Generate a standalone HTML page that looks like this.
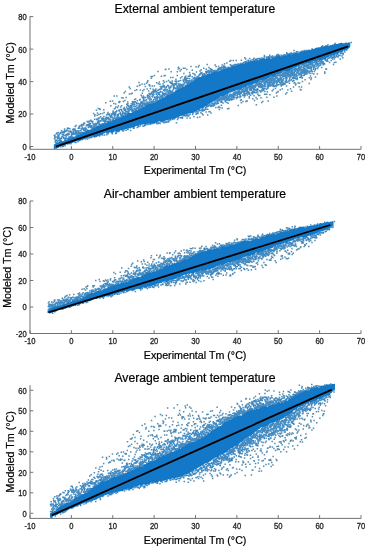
<!DOCTYPE html>
<html><head><meta charset="utf-8"><style>
html,body{margin:0;padding:0;background:#fff;width:370px;height:550px;overflow:hidden}
svg{display:block}
text{font-family:'Liberation Sans', Arial, sans-serif}
.tk{font-size:8px;fill:#262626;stroke:#262626;stroke-width:.3px}
.ti{font-size:12.2px;fill:#000;stroke:#000;stroke-width:.2px}
.lb{font-size:10.7px;fill:#000;stroke:#000;stroke-width:.2px}
</style></head><body>
<svg width="370" height="550" viewBox="0 0 370 550">
<path d="M53.8 145.3L54.3 145.4L54.8 145.0L55.3 144.4L55.8 143.8L56.3 143.6L56.8 143.0L57.3 142.4L57.8 142.3L58.3 142.2L58.8 142.2L59.3 141.7L59.8 141.6L60.3 141.4L60.8 140.8L61.3 140.9L61.8 140.8L62.3 141.4L62.8 141.1L63.3 140.8L63.8 140.9L64.3 140.6L64.8 140.6L65.3 140.1L65.8 139.9L66.3 140.0L66.8 139.8L67.3 139.5L67.8 138.9L68.3 138.8L68.8 138.6L69.3 138.5L69.8 138.3L70.3 138.4L70.8 138.1L71.3 137.8L71.8 137.7L72.3 137.1L72.8 136.8L73.3 136.4L73.8 136.9L74.3 136.6L74.8 136.5L75.3 136.4L75.8 136.0L76.3 135.3L76.8 135.4L77.3 135.1L77.8 135.1L78.3 134.5L78.8 134.2L79.3 134.4L79.8 134.6L80.3 133.9L80.8 133.3L81.3 133.2L81.8 133.2L82.3 133.1L82.8 133.0L83.3 132.5L83.8 132.5L84.3 132.6L84.8 132.2L85.3 131.5L85.8 131.1L86.3 131.3L86.8 130.6L87.3 130.5L87.8 130.1L88.3 130.0L88.8 129.8L89.3 129.7L89.8 130.0L90.3 129.9L90.8 130.1L91.3 129.7L91.8 129.3L92.3 129.2L92.8 128.1L93.3 128.0L93.8 127.9L94.3 127.4L94.8 127.5L95.3 127.2L95.8 126.3L96.3 126.3L96.8 126.0L97.3 125.8L97.8 125.8L98.3 126.1L98.8 126.0L99.3 125.8L99.8 125.8L100.3 125.0L100.8 125.3L101.3 124.8L101.8 124.8L102.3 124.3L102.8 123.9L103.3 123.7L103.8 124.2L104.3 124.2L104.8 123.7L105.3 123.4L105.8 122.9L106.3 122.8L106.8 122.4L107.3 122.5L107.8 121.9L108.3 121.7L108.8 121.4L109.3 121.1L109.8 121.2L110.3 121.1L110.8 121.1L111.3 121.3L111.8 121.4L112.3 120.6L112.8 120.5L113.3 119.7L113.8 119.6L114.3 120.0L114.8 119.6L115.3 119.3L115.8 119.1L116.3 118.8L116.8 118.6L117.3 118.2L117.8 118.3L118.3 118.3L118.8 117.9L119.3 117.7L119.8 117.7L120.3 117.7L120.8 117.4L121.3 117.3L121.8 116.8L122.3 116.2L122.8 115.8L123.3 115.9L123.8 115.9L124.3 115.7L124.8 115.2L125.3 115.0L125.8 115.2L126.3 115.3L126.8 114.7L127.3 114.3L127.8 113.6L128.3 113.0L128.8 113.0L129.3 112.8L129.8 112.9L130.3 113.0L130.8 113.0L131.3 113.0L131.8 112.5L132.3 111.8L132.8 111.7L133.3 112.2L133.8 111.9L134.3 111.2L134.8 110.9L135.3 111.1L135.8 110.4L136.3 110.4L136.8 109.9L137.3 110.0L137.8 109.9L138.3 109.6L138.8 109.9L139.3 109.3L139.8 108.8L140.3 109.0L140.8 108.4L141.3 108.7L141.8 108.3L142.3 107.6L142.8 107.3L143.3 107.1L143.8 106.8L144.3 106.5L144.8 106.6L145.3 105.6L145.8 105.3L146.3 105.1L146.8 105.5L147.3 104.6L147.8 104.4L148.3 103.9L148.8 103.6L149.3 103.7L149.8 103.7L150.3 104.0L150.8 103.5L151.3 103.4L151.8 103.5L152.3 103.4L152.8 103.0L153.3 103.0L153.8 102.4L154.3 102.7L154.8 102.4L155.3 102.0L155.8 101.7L156.3 101.7L156.8 101.9L157.3 101.4L157.8 100.9L158.3 100.8L158.8 100.2L159.3 99.4L159.8 99.5L160.3 99.1L160.8 99.3L161.3 98.7L161.8 97.6L162.3 97.7L162.8 97.6L163.3 98.0L163.8 97.9L164.3 97.7L164.8 97.5L165.3 97.1L165.8 96.8L166.3 96.1L166.8 96.0L167.3 95.5L167.8 95.1L168.3 95.1L168.8 95.1L169.3 94.5L169.8 94.8L170.3 94.2L170.8 94.1L171.3 94.0L171.8 93.7L172.3 93.3L172.8 93.5L173.3 93.2L173.8 92.9L174.3 91.8L174.8 91.3L175.3 91.3L175.8 91.0L176.3 90.4L176.8 89.9L177.3 89.5L177.8 89.5L178.3 89.3L178.8 89.3L179.3 88.7L179.8 88.7L180.3 88.1L180.8 87.7L181.3 88.0L181.8 87.6L182.3 87.1L182.8 86.7L183.3 86.3L183.8 86.4L184.3 86.4L184.8 86.2L185.3 85.8L185.8 85.6L186.3 85.1L186.8 84.8L187.3 84.5L187.8 84.1L188.3 84.2L188.8 84.2L189.3 84.0L189.8 82.9L190.3 83.0L190.8 82.7L191.3 82.1L191.8 81.7L192.3 81.6L192.8 81.5L193.3 81.3L193.8 80.8L194.3 80.3L194.8 80.1L195.3 79.6L195.8 79.0L196.3 78.4L196.8 78.1L197.3 77.9L197.8 78.3L198.3 77.5L198.8 77.4L199.3 77.0L199.8 76.9L200.3 77.0L200.8 77.0L201.3 76.6L201.8 76.1L202.3 75.5L202.8 75.3L203.3 75.5L203.8 75.2L204.3 75.3L204.8 75.3L205.3 75.1L205.8 75.2L206.3 74.9L206.8 74.4L207.3 73.9L207.8 74.0L208.3 73.8L208.8 73.5L209.3 73.6L209.8 73.2L210.3 73.6L210.8 73.6L211.3 73.2L211.8 72.8L212.3 73.0L212.8 72.4L213.3 72.1L213.8 72.0L214.3 71.9L214.8 71.8L215.3 71.8L215.8 71.5L216.3 71.3L216.8 71.6L217.3 71.6L217.8 71.2L218.3 71.5L218.8 70.7L219.3 70.5L219.8 70.6L220.3 70.7L220.8 70.5L221.3 70.2L221.8 70.2L222.3 69.9L222.8 69.9L223.3 68.8L223.8 68.9L224.3 68.6L224.8 68.8L225.3 69.0L225.8 69.0L226.3 68.7L226.8 68.7L227.3 68.4L227.8 68.3L228.3 68.1L228.8 67.6L229.3 68.1L229.8 68.1L230.3 67.3L230.8 67.4L231.3 66.8L231.8 66.7L232.3 66.4L232.8 66.2L233.3 66.3L233.8 66.1L234.3 65.6L234.8 65.6L235.3 65.7L235.8 66.1L236.3 65.8L236.8 65.3L237.3 65.1L237.8 65.2L238.3 64.8L238.8 64.5L239.3 64.7L239.8 64.6L240.3 64.5L240.8 64.2L241.3 63.9L241.8 63.7L242.3 63.6L242.8 63.5L243.3 63.5L243.8 63.6L244.3 63.6L244.8 63.6L245.3 63.1L245.8 62.7L246.3 62.8L246.8 62.7L247.3 62.6L247.8 62.1L248.3 62.0L248.8 61.7L249.3 61.4L249.8 61.2L250.3 60.8L250.8 60.9L251.3 61.2L251.8 60.9L252.3 60.9L252.8 60.5L253.3 60.7L253.8 61.2L254.3 60.6L254.8 60.5L255.3 60.8L255.8 60.7L256.3 60.6L256.8 59.8L257.3 59.7L257.8 60.0L258.3 60.3L258.8 60.3L259.3 59.9L259.8 59.6L260.3 59.0L260.8 58.7L261.3 59.0L261.8 59.0L262.3 58.5L262.8 59.0L263.3 58.4L263.8 58.8L264.3 58.6L264.8 58.7L265.3 58.8L265.8 58.7L266.3 59.0L266.8 58.8L267.3 58.5L267.8 58.2L268.3 57.6L268.8 57.4L269.3 57.7L269.8 57.9L270.3 58.2L270.8 58.9L271.3 58.7L271.8 58.5L272.3 57.8L272.8 57.6L273.3 58.1L273.8 58.0L274.3 57.7L274.8 57.5L275.3 56.7L275.8 56.4L276.3 56.0L276.8 55.4L277.3 55.8L277.8 56.1L278.3 56.0L278.8 56.1L279.3 55.7L279.8 55.8L280.3 56.0L280.8 56.4L281.3 56.6L281.8 56.5L282.3 56.2L282.8 55.7L283.3 55.4L283.8 55.5L284.3 55.5L284.8 55.4L285.3 55.7L285.8 55.7L286.3 55.4L286.8 55.2L287.3 55.0L287.8 54.6L288.3 54.2L288.8 54.2L289.3 54.0L289.8 53.9L290.3 54.2L290.8 54.0L291.3 54.3L291.8 54.2L292.3 54.5L292.8 54.4L293.3 53.6L293.8 53.9L294.3 53.6L294.8 52.9L295.3 52.9L295.8 52.9L296.3 52.5L296.8 52.3L297.3 52.5L297.8 52.9L298.3 53.1L298.8 53.3L299.3 53.4L299.8 52.4L300.3 52.1L300.8 52.1L301.3 51.2L301.8 51.5L302.3 51.8L302.8 51.5L303.3 51.3L303.8 51.0L304.3 51.0L304.8 51.0L305.3 51.0L305.8 50.6L306.3 50.7L306.8 50.6L307.3 50.8L307.8 50.8L308.3 50.2L308.8 49.7L309.3 49.8L309.8 49.6L310.3 49.7L310.8 49.9L311.3 49.8L311.8 49.2L312.3 48.8L312.8 49.0L313.3 48.7L313.8 49.0L314.3 48.9L314.8 49.0L315.3 48.6L315.8 48.5L316.3 47.5L316.8 47.5L317.3 47.8L317.8 47.5L318.3 47.3L318.8 47.3L319.3 47.4L319.8 47.1L320.3 47.3L320.8 46.8L321.3 47.2L321.8 46.7L322.3 46.5L322.8 46.9L323.3 46.6L323.8 46.1L324.3 46.2L324.8 46.0L325.3 45.7L325.8 45.6L326.3 45.5L326.8 45.3L327.3 45.1L327.8 45.7L328.3 45.5L328.8 45.9L329.3 45.4L329.8 45.6L330.3 45.1L330.8 45.0L331.3 45.3L331.8 45.1L332.3 44.5L332.8 44.4L333.3 44.4L333.8 44.7L334.3 44.3L334.8 44.3L335.3 44.3L335.8 43.8L336.3 43.9L336.8 43.7L337.3 43.9L337.8 43.9L338.3 43.8L338.8 43.1L339.3 43.2L339.8 43.2L340.3 42.9L340.8 42.9L341.3 42.6L341.8 42.8L342.3 43.1L342.8 43.2L343.3 43.0L343.8 43.5L344.3 43.7L344.8 43.2L345.3 43.1L345.8 42.6L346.3 42.6L346.8 42.8L347.3 43.1L347.8 42.9L348.3 42.2L348.8 42.2L349.3 42.6L349.8 42.5L350.3 42.8L350.3 46.7L349.8 47.4L349.3 47.8L348.8 48.5L348.3 48.8L347.8 49.0L347.3 49.6L346.8 49.9L346.3 50.0L345.8 50.5L345.3 50.3L344.8 50.2L344.3 50.8L343.8 50.4L343.3 50.8L342.8 51.8L342.3 52.0L341.8 52.2L341.3 52.7L340.8 52.6L340.3 52.8L339.8 52.5L339.3 52.7L338.8 53.5L338.3 53.6L337.8 54.3L337.3 54.3L336.8 53.6L336.3 53.9L335.8 54.1L335.3 54.7L334.8 54.9L334.3 55.1L333.8 55.4L333.3 55.6L332.8 55.8L332.3 55.6L331.8 55.7L331.3 55.5L330.8 55.4L330.3 55.8L329.8 55.6L329.3 56.3L328.8 57.0L328.3 57.1L327.8 57.7L327.3 57.7L326.8 57.7L326.3 58.3L325.8 58.9L325.3 58.9L324.8 59.2L324.3 58.7L323.8 59.5L323.3 59.7L322.8 59.6L322.3 60.0L321.8 60.1L321.3 60.0L320.8 60.1L320.3 60.6L319.8 60.4L319.3 60.2L318.8 59.7L318.3 60.1L317.8 60.8L317.3 60.6L316.8 60.9L316.3 60.8L315.8 61.0L315.3 60.9L314.8 61.1L314.3 61.2L313.8 61.2L313.3 60.9L312.8 61.4L312.3 61.4L311.8 61.6L311.3 62.2L310.8 62.7L310.3 63.1L309.8 63.1L309.3 63.0L308.8 63.0L308.3 63.5L307.8 63.3L307.3 63.4L306.8 63.6L306.3 64.0L305.8 63.8L305.3 63.8L304.8 63.8L304.3 64.1L303.8 64.2L303.3 64.4L302.8 64.7L302.3 64.4L301.8 64.4L301.3 64.7L300.8 64.8L300.3 65.2L299.8 65.7L299.3 66.0L298.8 66.4L298.3 66.3L297.8 66.8L297.3 66.6L296.8 67.2L296.3 67.2L295.8 67.5L295.3 67.3L294.8 67.4L294.3 67.8L293.8 68.2L293.3 68.4L292.8 68.8L292.3 69.2L291.8 68.9L291.3 69.8L290.8 70.1L290.3 70.2L289.8 70.4L289.3 70.7L288.8 70.9L288.3 71.0L287.8 71.1L287.3 70.9L286.8 71.2L286.3 71.6L285.8 71.2L285.3 71.4L284.8 71.4L284.3 71.6L283.8 71.7L283.3 71.9L282.8 71.6L282.3 71.8L281.8 72.8L281.3 73.5L280.8 73.7L280.3 73.8L279.8 73.6L279.3 73.9L278.8 74.1L278.3 74.3L277.8 74.8L277.3 74.8L276.8 74.6L276.3 74.6L275.8 75.0L275.3 75.3L274.8 75.9L274.3 76.3L273.8 76.4L273.3 76.4L272.8 76.4L272.3 76.5L271.8 76.5L271.3 76.7L270.8 76.5L270.3 76.7L269.8 77.5L269.3 77.4L268.8 78.0L268.3 78.4L267.8 78.6L267.3 78.6L266.8 79.3L266.3 79.8L265.8 79.5L265.3 79.6L264.8 79.4L264.3 79.9L263.8 79.8L263.3 80.3L262.8 80.4L262.3 80.7L261.8 80.4L261.3 80.6L260.8 80.5L260.3 80.3L259.8 80.5L259.3 80.9L258.8 81.6L258.3 82.5L257.8 82.4L257.3 82.5L256.8 82.7L256.3 83.1L255.8 82.8L255.3 83.1L254.8 83.5L254.3 83.6L253.8 83.6L253.3 84.4L252.8 84.2L252.3 84.5L251.8 85.2L251.3 84.7L250.8 85.0L250.3 84.7L249.8 84.8L249.3 84.9L248.8 85.4L248.3 85.5L247.8 85.6L247.3 86.0L246.8 86.1L246.3 87.0L245.8 87.3L245.3 87.3L244.8 87.1L244.3 87.9L243.8 87.8L243.3 87.9L242.8 87.6L242.3 88.3L241.8 88.7L241.3 88.8L240.8 89.1L240.3 89.2L239.8 89.0L239.3 89.3L238.8 89.0L238.3 89.5L237.8 89.7L237.3 89.9L236.8 90.5L236.3 90.3L235.8 90.3L235.3 91.0L234.8 90.9L234.3 91.0L233.8 91.3L233.3 91.4L232.8 91.6L232.3 92.1L231.8 92.3L231.3 92.2L230.8 91.5L230.3 91.9L229.8 91.9L229.3 92.2L228.8 92.9L228.3 93.8L227.8 94.1L227.3 94.2L226.8 94.0L226.3 94.5L225.8 94.5L225.3 95.5L224.8 95.7L224.3 95.8L223.8 96.1L223.3 96.1L222.8 96.2L222.3 96.2L221.8 96.5L221.3 96.1L220.8 96.6L220.3 96.8L219.8 97.3L219.3 97.4L218.8 97.9L218.3 98.3L217.8 98.5L217.3 99.4L216.8 99.7L216.3 99.8L215.8 100.3L215.3 101.0L214.8 100.7L214.3 101.1L213.8 101.5L213.3 101.6L212.8 101.6L212.3 102.0L211.8 102.2L211.3 102.7L210.8 102.9L210.3 103.4L209.8 103.3L209.3 103.8L208.8 103.9L208.3 104.7L207.8 105.3L207.3 105.5L206.8 106.3L206.3 106.1L205.8 106.7L205.3 106.6L204.8 106.4L204.3 107.3L203.8 107.7L203.3 108.3L202.8 108.7L202.3 108.4L201.8 108.2L201.3 108.0L200.8 108.3L200.3 109.3L199.8 109.4L199.3 110.0L198.8 109.9L198.3 110.1L197.8 109.9L197.3 110.3L196.8 111.1L196.3 110.9L195.8 111.0L195.3 111.5L194.8 111.8L194.3 112.4L193.8 112.7L193.3 112.5L192.8 113.1L192.3 113.0L191.8 113.0L191.3 113.0L190.8 113.2L190.3 113.4L189.8 113.3L189.3 113.3L188.8 113.7L188.3 113.6L187.8 113.8L187.3 114.0L186.8 114.5L186.3 114.3L185.8 114.3L185.3 114.8L184.8 115.4L184.3 115.6L183.8 115.2L183.3 115.2L182.8 115.3L182.3 115.1L181.8 115.7L181.3 115.9L180.8 116.3L180.3 115.8L179.8 116.2L179.3 116.5L178.8 116.9L178.3 116.7L177.8 117.2L177.3 118.0L176.8 117.6L176.3 117.9L175.8 118.6L175.3 118.6L174.8 118.9L174.3 118.9L173.8 118.5L173.3 118.4L172.8 118.9L172.3 118.8L171.8 118.9L171.3 118.8L170.8 119.2L170.3 119.7L169.8 119.7L169.3 119.6L168.8 119.8L168.3 120.2L167.8 120.3L167.3 120.3L166.8 120.0L166.3 120.5L165.8 120.7L165.3 120.6L164.8 121.1L164.3 121.4L163.8 121.4L163.3 121.5L162.8 121.6L162.3 121.3L161.8 121.1L161.3 121.4L160.8 121.5L160.3 121.0L159.8 121.2L159.3 121.1L158.8 121.6L158.3 121.4L157.8 121.8L157.3 122.8L156.8 122.7L156.3 122.5L155.8 122.9L155.3 122.5L154.8 123.3L154.3 123.2L153.8 123.9L153.3 123.3L152.8 123.4L152.3 124.4L151.8 124.4L151.3 123.8L150.8 123.8L150.3 124.1L149.8 123.7L149.3 123.4L148.8 123.5L148.3 124.0L147.8 123.6L147.3 124.0L146.8 123.8L146.3 124.0L145.8 124.4L145.3 124.7L144.8 124.8L144.3 124.4L143.8 124.1L143.3 124.4L142.8 124.5L142.3 124.8L141.8 124.6L141.3 124.4L140.8 124.7L140.3 124.5L139.8 124.6L139.3 125.3L138.8 125.9L138.3 125.8L137.8 125.9L137.3 125.5L136.8 125.8L136.3 126.0L135.8 126.2L135.3 126.3L134.8 127.3L134.3 127.4L133.8 127.3L133.3 127.7L132.8 127.5L132.3 127.7L131.8 127.5L131.3 127.7L130.8 128.5L130.3 128.6L129.8 128.4L129.3 128.1L128.8 128.5L128.3 128.7L127.8 128.8L127.3 128.7L126.8 128.9L126.3 129.0L125.8 129.1L125.3 129.4L124.8 129.6L124.3 129.7L123.8 129.5L123.3 130.1L122.8 130.2L122.3 130.6L121.8 130.7L121.3 130.5L120.8 129.9L120.3 130.6L119.8 131.2L119.3 131.3L118.8 131.4L118.3 131.5L117.8 132.4L117.3 132.3L116.8 132.0L116.3 131.8L115.8 131.0L115.3 130.9L114.8 131.5L114.3 131.6L113.8 132.2L113.3 132.5L112.8 132.4L112.3 133.1L111.8 132.6L111.3 132.5L110.8 132.2L110.3 132.4L109.8 132.4L109.3 132.5L108.8 132.7L108.3 133.1L107.8 133.3L107.3 133.6L106.8 133.4L106.3 132.6L105.8 132.6L105.3 132.5L104.8 132.9L104.3 133.4L103.8 133.6L103.3 133.7L102.8 134.2L102.3 134.4L101.8 134.9L101.3 135.4L100.8 135.5L100.3 135.6L99.8 135.6L99.3 135.8L98.8 136.0L98.3 136.1L97.8 136.3L97.3 136.4L96.8 137.2L96.3 137.1L95.8 137.2L95.3 137.2L94.8 137.3L94.3 137.2L93.8 137.0L93.3 136.7L92.8 136.8L92.3 136.7L91.8 136.9L91.3 136.9L90.8 136.4L90.3 136.8L89.8 137.1L89.3 137.7L88.8 137.4L88.3 137.5L87.8 138.1L87.3 137.9L86.8 137.9L86.3 137.7L85.8 138.0L85.3 138.6L84.8 139.0L84.3 139.1L83.8 139.3L83.3 139.6L82.8 140.2L82.3 140.2L81.8 140.2L81.3 140.3L80.8 140.5L80.3 141.1L79.8 141.2L79.3 141.2L78.8 141.1L78.3 140.9L77.8 140.5L77.3 140.9L76.8 141.1L76.3 140.7L75.8 141.3L75.3 141.5L74.8 141.5L74.3 141.5L73.8 142.0L73.3 142.7L72.8 142.8L72.3 143.0L71.8 143.2L71.3 143.6L70.8 143.6L70.3 143.6L69.8 144.1L69.3 144.5L68.8 144.2L68.3 144.4L67.8 144.2L67.3 144.8L66.8 144.6L66.3 144.4L65.8 144.5L65.3 144.8L64.8 145.0L64.3 145.4L63.8 145.9L63.3 145.6L62.8 145.8L62.3 145.6L61.8 145.8L61.3 146.1L60.8 146.4L60.3 146.5L59.8 146.4L59.3 147.0L58.8 147.4L58.3 147.9L57.8 148.1L57.3 147.7L56.8 148.5L56.3 149.1L55.8 148.6L55.3 148.7L54.8 149.2L54.3 149.3L53.8 149.1Z" fill="#1378C8"/>
<path d="M53.9 144.8h1.5M53.6 135.5h1.5M53.8 138.7h1.5M54.2 135.3h1.5M54.1 136.2h1.5M54.1 137.7h1.5M54.5 142.1h1.5M54.9 140.1h1.5M54.6 137.3h1.5M54.8 140.7h1.5M55.1 140.9h1.5M55.1 144.2h1.5M55.4 142.8h1.5M56.0 133.3h1.5M55.6 133.7h1.5M55.9 140.1h1.5M56.5 143.5h1.5M56.5 132.9h1.5M56.2 137.1h1.5M56.8 141.5h1.5M56.8 138.3h1.5M57.4 136.0h1.5M57.2 137.6h1.5M57.1 135.0h1.5M58.0 138.0h1.5M57.6 140.3h1.5M57.7 132.5h1.5M58.2 135.4h1.5M58.3 137.3h1.5M58.7 138.6h1.5M58.7 133.9h1.5M58.8 140.9h1.5M59.1 138.7h1.5M59.2 139.5h1.5M59.3 139.3h1.5M59.8 133.6h1.5M59.8 139.8h1.5M59.8 132.7h1.5M60.4 140.7h1.5M60.4 140.9h1.5M60.4 137.9h1.5M60.1 146.8h1.5M60.9 138.4h1.5M60.7 130.7h1.5M60.7 132.6h1.5M61.2 132.6h1.5M61.2 136.7h1.5M61.3 132.8h1.5M61.7 132.5h1.5M62.0 132.7h1.5M61.6 134.8h1.5M62.1 136.4h1.5M62.4 131.4h1.5M62.2 132.6h1.5M62.2 146.2h1.5M62.8 137.5h1.5M62.7 134.9h1.5M62.9 134.6h1.5M63.3 132.8h1.5M63.1 138.3h1.5M63.1 132.0h1.5M63.8 132.0h1.5M64.0 130.6h1.5M63.9 140.0h1.5M64.3 135.6h1.5M64.2 138.8h1.5M64.5 131.0h1.5M64.3 145.8h1.5M65.0 139.2h1.5M64.6 137.9h1.5M65.0 135.6h1.5M64.7 131.5h1.5M65.5 136.4h1.5M65.5 135.6h1.5M65.5 134.7h1.5M65.8 138.6h1.5M65.7 130.9h1.5M65.9 130.7h1.5M66.1 134.2h1.5M66.1 134.2h1.5M66.2 130.0h1.5M66.9 135.1h1.5M66.8 130.6h1.5M67.0 134.9h1.5M67.2 138.6h1.5M67.5 134.6h1.5M67.5 128.3h1.5M67.1 133.4h1.5M67.8 128.5h1.5M67.9 133.4h1.5M67.6 138.2h1.5M68.2 131.5h1.5M68.2 136.9h1.5M68.4 134.3h1.5M68.7 137.9h1.5M69.0 128.8h1.5M68.8 137.4h1.5M69.5 131.0h1.5M69.3 138.2h1.5M69.5 132.0h1.5M69.8 137.2h1.5M69.7 137.3h1.5M69.6 136.6h1.5M70.5 136.4h1.5M70.5 138.3h1.5M70.2 138.1h1.5M70.1 143.8h1.5M70.7 133.0h1.5M70.8 135.4h1.5M70.7 134.6h1.5M70.6 131.6h1.5M71.3 133.9h1.5M71.1 137.6h1.5M71.4 136.9h1.5M71.6 134.6h1.5M71.9 133.8h1.5M72.0 129.4h1.5M72.4 132.8h1.5M72.5 131.8h1.5M72.3 133.1h1.5M72.9 128.9h1.5M72.7 134.6h1.5M72.6 131.2h1.5M73.5 129.9h1.5M73.4 130.0h1.5M73.3 133.1h1.5M73.9 129.4h1.5M73.6 134.1h1.5M73.8 133.8h1.5M74.0 128.9h1.5M74.0 142.1h1.5M74.5 129.9h1.5M74.2 130.8h1.5M74.4 126.4h1.5M74.7 133.2h1.5M74.8 132.7h1.5M75.0 132.2h1.5M74.9 142.4h1.5M75.2 134.2h1.5M75.1 134.6h1.5M75.4 125.6h1.5M75.2 142.0h1.5M75.7 135.8h1.5M76.0 130.9h1.5M75.7 131.3h1.5M76.1 133.0h1.5M76.1 132.7h1.5M76.3 131.0h1.5M76.7 133.2h1.5M76.6 133.5h1.5M76.8 130.8h1.5M77.1 135.0h1.5M77.5 128.2h1.5M77.1 134.5h1.5M77.8 132.6h1.5M77.7 133.0h1.5M78.0 133.3h1.5M78.1 131.1h1.5M78.4 133.0h1.5M78.2 127.5h1.5M78.6 125.9h1.5M78.6 126.4h1.5M78.7 133.8h1.5M79.1 128.3h1.5M79.4 132.7h1.5M79.5 133.5h1.5M79.7 130.8h1.5M79.7 134.4h1.5M79.7 133.0h1.5M80.2 125.6h1.5M80.2 130.3h1.5M80.5 126.0h1.5M81.0 126.1h1.5M81.0 128.9h1.5M80.9 124.5h1.5M81.1 129.3h1.5M81.1 132.2h1.5M81.5 128.4h1.5M81.6 132.2h1.5M81.7 127.9h1.5M81.6 127.5h1.5M82.5 124.6h1.5M82.4 125.1h1.5M82.1 132.6h1.5M83.0 130.0h1.5M83.0 128.6h1.5M82.9 124.8h1.5M83.1 123.4h1.5M83.4 130.3h1.5M83.2 123.1h1.5M83.6 129.5h1.5M83.9 123.3h1.5M83.6 132.4h1.5M84.2 130.7h1.5M84.5 128.1h1.5M84.5 127.8h1.5M84.8 128.2h1.5M84.8 129.3h1.5M84.7 131.6h1.5M84.6 139.1h1.5M85.4 128.7h1.5M85.5 125.8h1.5M85.4 130.9h1.5M86.0 125.6h1.5M85.7 131.0h1.5M85.7 138.1h1.5M86.2 130.8h1.5M86.3 124.8h1.5M86.4 121.6h1.5M86.6 130.1h1.5M87.0 125.3h1.5M86.6 130.4h1.5M86.7 138.9h1.5M87.2 121.9h1.5M87.1 125.3h1.5M87.5 127.2h1.5M87.9 125.6h1.5M87.7 124.7h1.5M87.7 127.5h1.5M88.5 126.6h1.5M88.2 121.2h1.5M88.2 124.0h1.5M88.3 138.1h1.5M88.8 123.1h1.5M88.6 126.0h1.5M89.1 125.1h1.5M89.5 123.7h1.5M89.4 126.4h1.5M89.6 127.2h1.5M90.0 126.5h1.5M89.8 121.0h1.5M89.6 137.6h1.5M90.4 129.5h1.5M90.5 125.8h1.5M90.1 120.2h1.5M90.9 121.2h1.5M90.8 127.6h1.5M90.8 126.5h1.5M91.0 137.4h1.5M91.1 127.5h1.5M91.5 129.7h1.5M91.2 128.8h1.5M91.8 122.0h1.5M91.6 121.8h1.5M91.6 123.0h1.5M92.1 121.4h1.5M92.5 127.7h1.5M92.2 125.6h1.5M92.9 126.8h1.5M92.9 123.9h1.5M93.0 127.6h1.5M93.5 124.5h1.5M93.3 124.5h1.5M93.3 126.8h1.5M93.6 126.9h1.5M93.9 119.3h1.5M94.0 126.3h1.5M93.6 137.0h1.5M94.2 125.2h1.5M94.3 127.3h1.5M94.4 124.2h1.5M94.8 124.2h1.5M94.8 123.4h1.5M95.0 125.2h1.5M95.3 124.9h1.5M95.3 123.8h1.5M95.8 125.1h1.5M95.9 124.8h1.5M95.9 119.3h1.5M96.4 123.5h1.5M96.2 119.7h1.5M97.0 119.0h1.5M96.9 121.8h1.5M96.7 119.6h1.5M97.1 119.8h1.5M97.1 123.1h1.5M97.4 122.2h1.5M97.9 122.0h1.5M98.0 120.6h1.5M97.7 118.2h1.5M98.1 125.2h1.5M98.4 123.8h1.5M98.2 120.6h1.5M98.6 118.1h1.5M98.8 122.0h1.5M98.7 125.0h1.5M98.8 136.1h1.5M99.5 124.4h1.5M99.4 125.8h1.5M99.5 125.5h1.5M99.9 125.1h1.5M99.8 116.8h1.5M99.9 120.7h1.5M100.2 121.1h1.5M100.2 124.6h1.5M100.4 124.9h1.5M101.0 118.6h1.5M100.8 125.3h1.5M100.8 118.9h1.5M101.3 118.7h1.5M101.3 124.5h1.5M101.7 118.0h1.5M101.8 120.0h1.5M101.6 123.8h1.5M101.9 134.9h1.5M102.4 121.0h1.5M102.3 123.7h1.5M102.5 119.3h1.5M102.8 120.3h1.5M102.8 118.5h1.5M103.1 116.6h1.5M103.1 119.0h1.5M103.5 120.2h1.5M103.8 123.9h1.5M103.9 122.3h1.5M103.7 121.0h1.5M103.8 135.0h1.5M104.4 123.0h1.5M104.3 120.8h1.5M104.3 122.9h1.5M104.8 118.5h1.5M104.9 120.3h1.5M104.6 121.6h1.5M105.3 117.2h1.5M105.1 121.4h1.5M106.0 117.5h1.5M105.6 119.2h1.5M105.8 114.9h1.5M105.8 132.7h1.5M106.1 118.8h1.5M106.4 117.8h1.5M106.8 118.2h1.5M106.9 118.4h1.5M106.6 121.3h1.5M107.5 121.6h1.5M107.2 122.0h1.5M107.3 117.4h1.5M107.6 114.6h1.5M107.7 117.7h1.5M107.8 118.8h1.5M107.6 133.8h1.5M108.5 118.9h1.5M108.2 119.5h1.5M108.7 114.1h1.5M108.7 114.9h1.5M108.7 120.1h1.5M109.5 116.4h1.5M109.1 115.6h1.5M109.4 119.2h1.5M109.7 116.3h1.5M109.9 121.0h1.5M110.3 116.0h1.5M110.1 117.6h1.5M110.8 113.9h1.5M110.8 117.2h1.5M110.9 115.4h1.5M110.7 132.3h1.5M111.2 119.9h1.5M111.2 116.8h1.5M111.1 114.5h1.5M111.4 133.0h1.5M111.9 121.2h1.5M111.9 113.4h1.5M111.9 118.0h1.5M112.3 112.3h1.5M112.2 113.9h1.5M112.5 120.4h1.5M112.6 118.1h1.5M112.6 120.1h1.5M112.7 118.4h1.5M113.2 112.9h1.5M113.5 115.5h1.5M113.4 115.3h1.5M114.0 116.3h1.5M113.6 113.7h1.5M113.6 118.0h1.5M114.2 115.2h1.5M114.2 112.2h1.5M114.8 114.8h1.5M114.8 113.3h1.5M114.6 119.1h1.5M115.2 118.0h1.5M115.4 117.8h1.5M115.2 111.7h1.5M115.5 132.0h1.5M116.0 117.4h1.5M115.6 117.8h1.5M115.9 111.5h1.5M116.5 115.4h1.5M116.1 110.7h1.5M116.1 117.9h1.5M116.7 116.7h1.5M117.0 114.6h1.5M116.8 114.7h1.5M117.1 118.0h1.5M117.2 116.0h1.5M117.5 115.4h1.5M117.9 117.9h1.5M117.8 117.4h1.5M118.1 110.3h1.5M118.1 113.9h1.5M118.1 131.6h1.5M119.0 117.8h1.5M118.6 110.9h1.5M119.5 109.5h1.5M119.5 112.5h1.5M119.2 117.3h1.5M120.0 114.3h1.5M120.0 115.0h1.5M119.7 113.2h1.5M120.3 114.4h1.5M120.4 117.2h1.5M120.4 109.5h1.5M120.9 109.4h1.5M120.8 115.4h1.5M121.0 110.8h1.5M121.5 114.3h1.5M121.2 115.4h1.5M121.1 117.1h1.5M121.9 111.7h1.5M122.0 113.3h1.5M121.9 113.2h1.5M122.1 116.0h1.5M122.2 115.9h1.5M122.2 130.9h1.5M122.9 108.8h1.5M122.8 115.7h1.5M123.0 113.0h1.5M122.9 130.5h1.5M123.5 114.3h1.5M123.5 110.5h1.5M123.7 113.9h1.5M123.6 107.5h1.5M123.9 108.6h1.5M124.5 114.4h1.5M124.2 109.3h1.5M124.4 113.0h1.5M125.0 110.9h1.5M124.7 109.4h1.5M124.9 115.0h1.5M125.5 114.9h1.5M125.1 114.2h1.5M125.1 112.1h1.5M125.8 113.7h1.5M126.0 114.4h1.5M126.0 107.1h1.5M126.4 108.9h1.5M126.2 111.7h1.5M126.1 114.1h1.5M126.8 105.3h1.5M126.6 105.3h1.5M127.0 108.4h1.5M127.0 129.4h1.5M127.5 112.0h1.5M127.2 113.3h1.5M127.4 110.4h1.5M127.3 129.6h1.5M128.0 106.2h1.5M127.6 105.7h1.5M127.9 108.7h1.5M128.1 113.0h1.5M128.4 111.1h1.5M128.3 110.1h1.5M128.7 110.0h1.5M128.7 107.0h1.5M128.6 107.4h1.5M129.3 107.1h1.5M129.4 108.2h1.5M129.8 105.7h1.5M129.9 107.1h1.5M129.9 109.6h1.5M130.2 106.1h1.5M130.1 109.7h1.5M130.5 104.1h1.5M131.0 107.9h1.5M130.9 110.9h1.5M130.7 105.7h1.5M131.5 109.6h1.5M131.5 103.8h1.5M131.3 106.9h1.5M131.9 104.9h1.5M131.9 111.2h1.5M131.7 110.3h1.5M132.3 102.7h1.5M132.1 104.8h1.5M132.5 111.2h1.5M132.5 127.9h1.5M133.0 102.9h1.5M133.0 106.4h1.5M132.8 110.5h1.5M133.3 108.7h1.5M133.4 104.3h1.5M133.5 109.4h1.5M134.0 111.2h1.5M133.7 111.5h1.5M134.0 109.3h1.5M133.9 102.0h1.5M134.5 106.8h1.5M134.2 101.8h1.5M134.1 104.7h1.5M134.6 101.7h1.5M134.9 109.1h1.5M135.0 109.1h1.5M135.2 110.6h1.5M135.1 106.4h1.5M135.5 109.3h1.5M135.2 109.0h1.5M135.6 103.2h1.5M135.7 102.8h1.5M135.8 108.6h1.5M136.5 108.1h1.5M136.4 107.6h1.5M136.1 105.2h1.5M136.5 108.5h1.5M136.7 103.5h1.5M136.6 100.8h1.5M136.9 103.6h1.5M137.4 107.1h1.5M137.3 107.0h1.5M137.5 103.4h1.5M137.1 125.9h1.5M137.8 108.0h1.5M137.7 106.9h1.5M137.8 109.7h1.5M137.9 126.7h1.5M138.4 105.8h1.5M138.1 109.1h1.5M138.5 104.1h1.5M138.9 100.0h1.5M138.7 108.0h1.5M138.6 104.5h1.5M139.2 106.3h1.5M139.2 106.9h1.5M139.3 99.4h1.5M139.2 104.7h1.5M139.4 125.7h1.5M139.6 104.3h1.5M139.6 99.6h1.5M140.0 103.3h1.5M139.9 124.8h1.5M140.2 108.9h1.5M140.3 105.7h1.5M140.3 101.8h1.5M140.1 108.7h1.5M140.9 106.5h1.5M140.6 105.8h1.5M140.7 108.0h1.5M141.5 104.5h1.5M141.2 97.1h1.5M141.3 102.8h1.5M141.3 106.9h1.5M142.0 97.7h1.5M141.6 103.6h1.5M141.9 101.9h1.5M141.9 106.3h1.5M142.2 104.9h1.5M142.1 107.1h1.5M142.2 105.4h1.5M142.6 100.5h1.5M142.9 99.4h1.5M142.8 101.1h1.5M142.7 100.2h1.5M143.1 98.4h1.5M143.2 97.3h1.5M143.1 103.3h1.5M144.0 101.1h1.5M143.7 104.7h1.5M144.0 104.6h1.5M143.9 105.6h1.5M143.8 125.2h1.5M144.4 105.1h1.5M144.2 100.7h1.5M144.4 104.3h1.5M144.4 103.1h1.5M144.8 97.5h1.5M144.9 97.4h1.5M144.7 104.0h1.5M144.8 97.4h1.5M144.9 124.9h1.5M145.2 105.3h1.5M145.4 105.5h1.5M145.4 99.9h1.5M145.8 99.7h1.5M145.8 103.7h1.5M146.0 101.9h1.5M146.5 104.0h1.5M146.4 104.6h1.5M146.2 104.1h1.5M146.2 124.1h1.5M146.7 96.2h1.5M146.8 95.0h1.5M146.8 103.8h1.5M147.5 102.2h1.5M147.2 104.2h1.5M147.1 98.1h1.5M147.3 97.7h1.5M147.4 124.6h1.5M147.6 95.8h1.5M147.8 103.8h1.5M147.9 102.6h1.5M148.4 93.4h1.5M148.2 98.7h1.5M148.3 103.3h1.5M148.8 94.1h1.5M149.0 102.7h1.5M148.7 96.5h1.5M149.5 94.0h1.5M149.3 94.8h1.5M149.3 97.3h1.5M149.1 100.4h1.5M149.2 124.1h1.5M149.8 101.7h1.5M150.0 101.8h1.5M149.6 99.1h1.5M149.9 101.9h1.5M149.7 124.3h1.5M150.4 99.0h1.5M150.5 93.1h1.5M150.3 103.8h1.5M150.3 99.2h1.5M150.9 103.4h1.5M150.9 92.5h1.5M151.0 101.7h1.5M151.3 101.0h1.5M151.3 96.2h1.5M151.5 102.7h1.5M151.2 94.2h1.5M151.7 91.8h1.5M152.0 96.0h1.5M152.0 94.2h1.5M152.0 97.1h1.5M152.4 95.0h1.5M152.3 102.6h1.5M152.3 101.7h1.5M153.0 91.9h1.5M153.0 99.5h1.5M152.8 101.2h1.5M152.6 93.4h1.5M153.4 102.1h1.5M153.2 94.5h1.5M153.4 101.4h1.5M153.2 91.7h1.5M153.1 123.3h1.5M153.9 102.1h1.5M154.0 97.0h1.5M153.9 90.9h1.5M154.3 92.1h1.5M154.2 98.7h1.5M154.2 98.3h1.5M154.3 97.2h1.5M155.0 100.9h1.5M154.7 91.7h1.5M155.0 90.6h1.5M155.1 100.7h1.5M155.5 94.3h1.5M155.1 100.1h1.5M155.5 91.5h1.5M155.1 122.5h1.5M155.9 97.0h1.5M155.7 93.7h1.5M155.8 100.4h1.5M155.8 98.1h1.5M156.0 123.1h1.5M156.5 100.9h1.5M156.4 101.7h1.5M156.4 99.2h1.5M156.4 92.2h1.5M156.4 123.7h1.5M157.0 100.9h1.5M156.7 98.3h1.5M157.0 100.6h1.5M156.7 95.6h1.5M157.2 96.8h1.5M157.1 90.3h1.5M157.5 100.4h1.5M157.5 93.5h1.5M157.2 123.5h1.5M157.8 97.5h1.5M157.6 94.3h1.5M157.7 90.0h1.5M157.7 92.4h1.5M157.9 123.0h1.5M158.1 93.9h1.5M158.1 94.3h1.5M158.2 93.3h1.5M158.5 94.2h1.5M158.2 122.6h1.5M159.0 95.0h1.5M158.9 94.8h1.5M158.8 89.3h1.5M159.0 98.9h1.5M159.4 97.6h1.5M159.2 97.6h1.5M159.3 97.1h1.5M159.3 92.5h1.5M159.4 123.6h1.5M159.8 99.2h1.5M159.7 97.2h1.5M159.6 91.3h1.5M159.8 89.1h1.5M159.9 121.3h1.5M160.5 87.6h1.5M160.2 96.1h1.5M160.1 96.2h1.5M160.4 87.6h1.5M160.4 121.5h1.5M161.0 87.5h1.5M160.7 97.1h1.5M160.8 88.9h1.5M160.6 121.7h1.5M161.2 92.0h1.5M161.5 95.8h1.5M161.4 86.3h1.5M161.2 87.6h1.5M161.7 97.5h1.5M162.0 92.8h1.5M161.6 94.3h1.5M161.9 121.3h1.5M162.5 86.7h1.5M162.4 86.1h1.5M162.2 93.9h1.5M162.1 96.4h1.5M162.5 122.2h1.5M162.6 94.7h1.5M162.8 90.0h1.5M162.8 90.5h1.5M163.5 87.1h1.5M163.4 85.5h1.5M163.5 95.1h1.5M163.5 97.3h1.5M163.5 122.8h1.5M163.6 95.3h1.5M164.0 89.7h1.5M163.6 93.5h1.5M163.7 122.3h1.5M164.2 90.9h1.5M164.1 94.7h1.5M164.2 89.0h1.5M164.4 90.0h1.5M164.3 122.6h1.5M164.9 97.0h1.5M165.0 94.3h1.5M164.8 94.3h1.5M164.8 93.9h1.5M165.5 87.4h1.5M165.5 96.7h1.5M165.2 93.1h1.5M165.1 87.6h1.5M165.3 121.7h1.5M165.9 96.6h1.5M165.7 86.5h1.5M165.8 95.6h1.5M165.7 96.6h1.5M166.1 94.3h1.5M166.2 91.3h1.5M166.1 89.4h1.5M166.3 91.5h1.5M166.1 122.3h1.5M167.0 85.5h1.5M166.7 95.2h1.5M166.7 89.7h1.5M167.2 85.6h1.5M167.4 94.8h1.5M167.3 92.7h1.5M167.3 94.9h1.5M167.4 120.9h1.5M167.9 93.5h1.5M167.6 86.0h1.5M167.9 92.2h1.5M168.0 93.8h1.5M167.8 122.0h1.5M168.3 87.0h1.5M168.4 88.3h1.5M168.2 90.8h1.5M168.4 94.0h1.5M168.9 91.2h1.5M168.7 87.9h1.5M168.6 93.0h1.5M168.9 88.9h1.5M168.9 120.4h1.5M169.5 93.9h1.5M169.4 90.7h1.5M169.1 93.8h1.5M169.8 82.6h1.5M169.9 87.4h1.5M170.0 91.3h1.5M169.8 83.1h1.5M169.6 119.8h1.5M170.3 86.0h1.5M170.1 92.3h1.5M170.1 87.3h1.5M170.3 82.7h1.5M170.6 93.8h1.5M170.9 82.4h1.5M170.6 93.9h1.5M170.7 93.2h1.5M171.1 83.4h1.5M171.4 83.7h1.5M171.4 91.8h1.5M171.3 92.4h1.5M171.4 119.5h1.5M171.7 90.9h1.5M171.8 84.9h1.5M171.6 83.2h1.5M172.0 84.6h1.5M171.9 119.0h1.5M172.5 92.5h1.5M172.5 89.6h1.5M172.2 93.3h1.5M172.9 88.2h1.5M172.6 86.8h1.5M172.9 86.1h1.5M173.0 119.0h1.5M173.3 92.9h1.5M173.3 85.4h1.5M173.5 84.2h1.5M173.4 87.2h1.5M173.5 118.7h1.5M173.9 87.8h1.5M174.0 84.5h1.5M173.7 83.7h1.5M174.4 81.3h1.5M174.2 88.5h1.5M174.4 83.7h1.5M174.5 88.5h1.5M174.9 88.7h1.5M175.0 84.8h1.5M175.0 88.3h1.5M175.5 83.0h1.5M175.3 81.1h1.5M175.2 90.8h1.5M175.8 81.2h1.5M176.0 83.3h1.5M175.9 88.0h1.5M175.7 84.0h1.5M176.5 89.9h1.5M176.2 86.1h1.5M176.5 86.2h1.5M176.6 86.7h1.5M176.6 88.4h1.5M176.8 88.6h1.5M176.8 119.4h1.5M177.2 89.4h1.5M177.3 88.5h1.5M177.5 85.8h1.5M177.5 118.1h1.5M177.8 84.0h1.5M177.6 81.6h1.5M177.6 87.5h1.5M177.9 117.6h1.5M178.5 85.1h1.5M178.3 88.7h1.5M178.3 80.9h1.5M179.0 87.1h1.5M178.6 88.7h1.5M179.0 83.9h1.5M179.4 84.6h1.5M179.4 87.4h1.5M179.1 85.4h1.5M179.7 86.3h1.5M179.7 85.2h1.5M179.9 80.6h1.5M179.8 117.7h1.5M180.5 86.0h1.5M180.1 85.6h1.5M180.4 87.1h1.5M180.4 117.6h1.5M180.8 86.6h1.5M180.7 84.7h1.5M181.4 86.0h1.5M181.1 84.4h1.5M181.3 86.1h1.5M181.2 117.7h1.5M182.0 84.2h1.5M181.8 86.5h1.5M181.6 86.5h1.5M181.8 117.2h1.5M182.2 84.2h1.5M182.3 85.0h1.5M182.5 79.9h1.5M182.2 115.3h1.5M182.6 81.1h1.5M182.7 80.2h1.5M183.0 85.0h1.5M182.6 115.5h1.5M183.1 84.2h1.5M183.5 79.2h1.5M183.1 81.7h1.5M183.4 115.6h1.5M183.9 78.4h1.5M183.9 80.1h1.5M183.8 83.1h1.5M183.6 115.3h1.5M184.2 82.7h1.5M184.1 78.8h1.5M184.3 115.7h1.5M184.8 85.4h1.5M185.0 79.6h1.5M184.9 115.9h1.5M185.4 81.7h1.5M185.1 78.0h1.5M185.1 81.0h1.5M186.0 82.7h1.5M185.8 78.8h1.5M185.8 79.9h1.5M185.8 115.6h1.5M186.4 82.9h1.5M186.5 84.2h1.5M186.2 114.3h1.5M186.8 81.0h1.5M186.7 78.2h1.5M186.7 84.7h1.5M186.7 115.1h1.5M187.1 80.7h1.5M187.1 83.6h1.5M187.5 83.0h1.5M187.4 116.1h1.5M187.8 84.1h1.5M187.7 82.6h1.5M187.9 115.9h1.5M188.5 80.7h1.5M188.5 78.5h1.5M188.1 81.4h1.5M188.2 115.2h1.5M188.9 78.7h1.5M188.6 76.2h1.5M189.1 83.9h1.5M189.2 80.7h1.5M189.1 82.6h1.5M189.4 114.2h1.5M189.6 75.8h1.5M189.9 82.7h1.5M190.3 83.0h1.5M190.1 81.9h1.5M190.9 81.0h1.5M191.0 80.0h1.5M191.1 80.1h1.5M191.4 76.7h1.5M191.6 80.3h1.5M191.7 80.9h1.5M191.9 114.6h1.5M192.5 78.6h1.5M192.1 81.0h1.5M192.3 113.2h1.5M192.9 78.6h1.5M193.0 78.1h1.5M193.3 78.7h1.5M193.5 78.3h1.5M193.7 80.8h1.5M193.7 79.9h1.5M194.3 74.9h1.5M194.1 77.2h1.5M194.8 79.2h1.5M194.9 77.9h1.5M194.6 111.9h1.5M195.5 79.1h1.5M195.2 77.9h1.5M195.6 78.4h1.5M195.6 78.6h1.5M195.8 113.5h1.5M196.4 78.0h1.5M196.4 76.6h1.5M196.1 111.5h1.5M196.8 77.4h1.5M196.6 111.6h1.5M197.4 77.8h1.5M197.3 77.4h1.5M197.2 112.5h1.5M197.6 77.5h1.5M197.8 76.5h1.5M197.7 110.8h1.5M198.4 75.1h1.5M198.3 110.5h1.5M199.0 75.2h1.5M198.8 75.3h1.5M199.2 74.0h1.5M199.1 110.8h1.5M199.9 72.9h1.5M200.5 73.8h1.5M200.5 110.1h1.5M201.0 72.5h1.5M200.8 73.6h1.5M200.9 109.9h1.5M201.2 72.5h1.5M201.3 111.1h1.5M201.5 109.0h1.5M201.8 75.2h1.5M202.0 111.1h1.5M202.2 74.2h1.5M202.3 109.2h1.5M202.7 75.0h1.5M202.6 110.4h1.5M203.4 74.4h1.5M203.6 73.8h1.5M203.7 110.2h1.5M204.2 74.6h1.5M204.2 109.6h1.5M205.0 71.4h1.5M204.8 107.8h1.5M205.3 72.4h1.5M205.3 109.3h1.5M205.9 73.5h1.5M205.7 73.7h1.5M206.0 107.0h1.5M206.4 71.2h1.5M206.4 106.1h1.5M206.8 72.2h1.5M206.9 71.5h1.5M207.0 109.2h1.5M207.4 71.5h1.5M207.5 106.3h1.5M207.6 70.5h1.5M208.0 105.5h1.5M208.4 72.9h1.5M208.3 105.3h1.5M208.8 72.7h1.5M209.0 70.9h1.5M209.0 105.2h1.5M209.1 71.8h1.5M209.4 105.3h1.5M209.1 104.1h1.5M209.8 71.8h1.5M209.8 105.7h1.5M209.7 106.0h1.5M210.1 71.0h1.5M210.5 71.8h1.5M210.2 106.5h1.5M210.5 105.7h1.5M210.6 72.4h1.5M211.0 70.6h1.5M211.0 104.1h1.5M210.6 105.9h1.5M211.3 69.7h1.5M211.5 103.2h1.5M211.9 72.2h1.5M212.0 103.0h1.5M211.7 105.6h1.5M212.5 71.7h1.5M212.2 106.1h1.5M212.3 105.3h1.5M212.8 71.1h1.5M212.7 71.6h1.5M212.9 103.7h1.5M212.8 105.9h1.5M213.2 71.6h1.5M213.2 70.7h1.5M213.5 104.4h1.5M213.4 103.9h1.5M213.9 70.4h1.5M213.9 71.3h1.5M213.8 105.2h1.5M214.5 71.5h1.5M214.1 102.0h1.5M214.3 102.5h1.5M214.7 71.1h1.5M214.7 71.5h1.5M214.9 102.8h1.5M214.8 103.1h1.5M215.2 70.9h1.5M215.4 104.0h1.5M215.4 103.5h1.5M215.7 70.5h1.5M215.7 104.1h1.5M215.7 101.1h1.5M216.4 71.2h1.5M216.2 103.5h1.5M216.4 100.2h1.5M217.0 69.2h1.5M216.6 101.6h1.5M217.0 102.9h1.5M217.4 70.3h1.5M217.1 100.0h1.5M217.2 100.1h1.5M217.6 68.4h1.5M217.7 98.6h1.5M217.7 103.3h1.5M217.7 99.2h1.5M218.5 69.5h1.5M218.1 99.1h1.5M218.2 101.1h1.5M218.2 99.8h1.5M218.6 68.2h1.5M218.8 68.9h1.5M219.0 100.3h1.5M218.8 98.8h1.5M219.3 67.8h1.5M219.2 69.5h1.5M219.3 99.8h1.5M219.3 98.0h1.5M220.0 68.9h1.5M219.7 99.6h1.5M219.6 99.4h1.5M220.0 102.1h1.5M220.3 70.6h1.5M220.4 68.1h1.5M220.5 96.9h1.5M220.3 99.1h1.5M220.3 99.1h1.5M220.7 69.8h1.5M220.8 70.3h1.5M220.9 100.8h1.5M220.9 98.0h1.5M221.1 67.1h1.5M221.1 97.2h1.5M221.1 102.2h1.5M221.2 98.3h1.5M222.0 69.4h1.5M221.6 67.7h1.5M221.8 97.5h1.5M221.8 99.6h1.5M222.0 97.0h1.5M222.5 67.0h1.5M222.4 99.5h1.5M222.4 96.4h1.5M222.3 98.6h1.5M223.0 67.6h1.5M223.0 68.5h1.5M222.7 97.7h1.5M222.8 96.3h1.5M223.0 98.6h1.5M223.4 66.7h1.5M223.5 97.4h1.5M223.5 99.7h1.5M224.0 67.9h1.5M223.7 98.7h1.5M223.6 99.3h1.5M223.9 99.7h1.5M224.4 67.3h1.5M224.5 101.7h1.5M224.1 99.8h1.5M224.4 96.1h1.5M224.6 66.9h1.5M224.6 100.9h1.5M225.0 97.4h1.5M225.0 98.7h1.5M225.4 68.3h1.5M225.5 68.0h1.5M225.2 98.5h1.5M225.2 97.1h1.5M225.5 97.3h1.5M225.8 68.1h1.5M225.6 96.2h1.5M225.7 100.6h1.5M226.0 99.2h1.5M226.4 68.5h1.5M226.2 98.8h1.5M226.1 94.7h1.5M226.5 95.7h1.5M226.8 68.0h1.5M226.9 98.5h1.5M226.6 94.1h1.5M226.8 97.9h1.5M227.5 67.3h1.5M227.3 98.1h1.5M227.3 96.6h1.5M227.3 100.0h1.5M227.6 67.9h1.5M227.9 99.8h1.5M227.7 99.1h1.5M227.8 97.7h1.5M228.5 67.8h1.5M228.4 96.1h1.5M228.5 100.4h1.5M228.4 97.4h1.5M229.0 67.5h1.5M228.9 94.6h1.5M228.9 96.2h1.5M228.6 94.6h1.5M229.4 67.8h1.5M229.3 92.6h1.5M229.1 99.5h1.5M229.4 98.7h1.5M229.3 95.6h1.5M229.7 68.1h1.5M229.6 95.8h1.5M230.0 96.5h1.5M229.7 95.0h1.5M230.0 98.5h1.5M230.3 65.4h1.5M230.4 98.9h1.5M230.3 95.6h1.5M230.3 95.7h1.5M230.4 94.6h1.5M230.8 66.3h1.5M231.0 97.9h1.5M230.6 100.0h1.5M230.9 98.3h1.5M231.0 94.7h1.5M231.4 65.5h1.5M231.2 94.7h1.5M231.1 95.5h1.5M231.2 96.5h1.5M232.0 66.2h1.5M231.7 99.5h1.5M231.6 94.5h1.5M232.0 95.7h1.5M231.7 94.7h1.5M232.4 65.4h1.5M232.1 96.0h1.5M232.2 94.6h1.5M232.2 97.6h1.5M232.4 97.4h1.5M232.7 65.3h1.5M232.9 96.9h1.5M232.6 93.2h1.5M232.9 96.0h1.5M232.6 95.5h1.5M233.2 65.4h1.5M233.1 94.8h1.5M233.2 99.1h1.5M233.2 96.2h1.5M233.1 92.7h1.5M234.0 64.7h1.5M233.6 93.0h1.5M233.9 95.1h1.5M233.8 93.5h1.5M233.8 94.3h1.5M234.4 64.5h1.5M234.2 91.7h1.5M234.2 91.7h1.5M234.1 97.2h1.5M234.2 93.0h1.5M234.8 95.1h1.5M234.9 92.4h1.5M234.6 93.2h1.5M235.3 65.6h1.5M235.3 93.7h1.5M235.1 93.4h1.5M235.4 92.6h1.5M235.6 64.4h1.5M236.0 92.0h1.5M235.8 98.1h1.5M235.6 92.9h1.5M235.7 98.5h1.5M236.3 65.8h1.5M236.4 97.7h1.5M236.4 95.8h1.5M236.4 92.6h1.5M236.5 93.4h1.5M237.0 64.9h1.5M237.0 91.9h1.5M236.6 96.4h1.5M236.7 91.4h1.5M237.0 94.2h1.5M237.2 64.3h1.5M237.3 97.1h1.5M237.5 92.3h1.5M237.5 90.0h1.5M237.3 93.6h1.5M237.7 64.1h1.5M237.9 93.4h1.5M238.0 91.5h1.5M237.9 92.7h1.5M238.0 93.1h1.5M238.1 64.5h1.5M238.4 94.0h1.5M238.4 90.8h1.5M238.5 90.4h1.5M238.2 89.8h1.5M238.6 64.2h1.5M238.6 94.6h1.5M239.0 92.9h1.5M238.8 93.9h1.5M239.4 64.5h1.5M239.4 95.3h1.5M239.2 91.9h1.5M239.2 97.4h1.5M239.2 96.8h1.5M239.9 63.5h1.5M240.0 92.8h1.5M239.7 92.4h1.5M239.6 89.6h1.5M239.6 89.0h1.5M240.4 63.9h1.5M240.1 92.2h1.5M240.5 93.6h1.5M240.1 93.5h1.5M240.1 96.5h1.5M241.0 89.2h1.5M240.6 91.8h1.5M240.6 91.3h1.5M241.4 91.4h1.5M241.3 89.7h1.5M241.5 91.7h1.5M241.2 89.2h1.5M241.7 63.4h1.5M241.8 92.0h1.5M241.6 89.8h1.5M241.8 89.2h1.5M242.0 95.1h1.5M242.1 63.6h1.5M242.3 91.0h1.5M242.4 89.9h1.5M242.4 95.4h1.5M242.2 91.8h1.5M242.8 62.5h1.5M242.9 95.3h1.5M242.6 91.3h1.5M242.7 90.9h1.5M242.8 88.2h1.5M243.3 93.4h1.5M243.1 92.7h1.5M243.4 93.4h1.5M243.4 92.3h1.5M243.9 62.2h1.5M243.7 91.1h1.5M243.9 91.6h1.5M243.8 91.5h1.5M243.7 90.2h1.5M244.3 62.9h1.5M244.2 95.0h1.5M244.4 95.4h1.5M244.4 89.4h1.5M244.5 88.8h1.5M244.7 61.8h1.5M244.7 93.5h1.5M244.8 88.2h1.5M244.8 91.5h1.5M244.8 87.7h1.5M245.4 62.9h1.5M245.3 89.5h1.5M245.5 90.9h1.5M245.2 91.3h1.5M245.9 61.2h1.5M246.0 88.3h1.5M245.6 89.0h1.5M245.9 93.6h1.5M245.7 87.3h1.5M246.4 62.7h1.5M246.4 93.0h1.5M246.1 91.1h1.5M246.1 91.6h1.5M246.5 95.0h1.5M246.9 62.7h1.5M246.8 88.1h1.5M246.7 88.9h1.5M247.0 86.9h1.5M246.6 90.6h1.5M247.3 62.5h1.5M247.4 92.6h1.5M247.2 88.0h1.5M247.4 91.4h1.5M247.4 93.0h1.5M247.8 61.0h1.5M247.9 93.8h1.5M247.9 87.2h1.5M247.9 92.3h1.5M247.6 92.1h1.5M248.4 85.8h1.5M248.5 85.8h1.5M248.2 85.7h1.5M248.1 92.8h1.5M248.9 93.0h1.5M248.9 88.9h1.5M248.7 89.3h1.5M248.7 94.5h1.5M249.5 87.5h1.5M249.3 87.4h1.5M249.4 88.4h1.5M249.1 86.0h1.5M249.2 90.6h1.5M249.6 61.1h1.5M249.7 88.2h1.5M249.9 85.2h1.5M249.8 85.9h1.5M250.0 89.3h1.5M250.3 60.3h1.5M250.5 90.2h1.5M250.1 87.1h1.5M250.2 87.5h1.5M250.2 89.3h1.5M250.7 89.3h1.5M250.8 86.9h1.5M250.6 86.0h1.5M250.8 93.0h1.5M251.5 91.2h1.5M251.3 85.4h1.5M251.3 88.8h1.5M251.4 88.0h1.5M251.9 93.9h1.5M251.7 92.1h1.5M251.6 93.3h1.5M251.6 85.9h1.5M252.1 59.8h1.5M252.3 86.7h1.5M252.3 91.3h1.5M252.3 85.3h1.5M252.3 85.2h1.5M252.1 92.9h1.5M252.6 59.5h1.5M253.0 89.2h1.5M252.9 87.9h1.5M252.9 92.6h1.5M252.7 87.6h1.5M253.2 60.6h1.5M253.5 85.7h1.5M253.1 86.4h1.5M253.3 91.1h1.5M253.1 89.3h1.5M253.6 59.9h1.5M253.9 85.9h1.5M253.9 92.3h1.5M253.7 89.8h1.5M253.6 88.6h1.5M254.4 60.6h1.5M254.4 86.8h1.5M254.1 92.2h1.5M254.5 86.1h1.5M254.3 89.8h1.5M254.7 87.2h1.5M254.8 85.5h1.5M254.6 83.9h1.5M254.6 86.1h1.5M254.7 87.2h1.5M255.2 58.9h1.5M255.3 92.7h1.5M255.1 89.5h1.5M255.3 86.0h1.5M255.3 90.3h1.5M255.7 60.0h1.5M255.6 83.0h1.5M255.7 92.8h1.5M256.0 89.8h1.5M255.9 90.5h1.5M256.0 83.4h1.5M256.2 60.0h1.5M256.4 83.6h1.5M256.3 84.9h1.5M256.5 91.9h1.5M256.5 90.1h1.5M256.6 59.1h1.5M257.0 91.9h1.5M256.9 84.0h1.5M256.8 84.2h1.5M256.6 88.7h1.5M257.3 58.8h1.5M257.4 89.4h1.5M257.1 83.2h1.5M257.3 82.9h1.5M257.2 84.0h1.5M257.7 58.7h1.5M258.0 83.3h1.5M257.8 84.9h1.5M258.0 87.0h1.5M257.6 86.3h1.5M258.3 58.4h1.5M258.1 84.7h1.5M258.4 83.1h1.5M258.2 83.5h1.5M258.3 84.6h1.5M258.9 59.3h1.5M258.8 90.7h1.5M258.8 81.9h1.5M259.0 81.6h1.5M258.8 83.8h1.5M258.6 86.9h1.5M259.4 58.6h1.5M259.5 84.9h1.5M259.2 85.5h1.5M259.1 81.3h1.5M259.4 85.0h1.5M259.1 81.6h1.5M259.8 59.6h1.5M259.7 91.0h1.5M259.8 87.1h1.5M259.8 83.8h1.5M259.6 86.8h1.5M260.0 86.6h1.5M260.4 86.8h1.5M260.4 83.4h1.5M260.1 87.6h1.5M260.1 84.8h1.5M260.2 85.7h1.5M260.3 81.2h1.5M261.0 85.1h1.5M260.6 86.5h1.5M260.7 82.2h1.5M260.7 84.0h1.5M260.9 87.5h1.5M261.1 58.1h1.5M261.2 89.4h1.5M261.4 90.3h1.5M261.3 91.1h1.5M261.3 89.5h1.5M261.5 84.7h1.5M261.8 58.5h1.5M261.6 86.3h1.5M262.0 88.1h1.5M261.9 81.9h1.5M261.8 85.4h1.5M262.0 80.8h1.5M262.4 81.0h1.5M262.5 88.8h1.5M262.2 87.1h1.5M262.3 88.8h1.5M262.1 86.5h1.5M262.9 58.5h1.5M263.0 88.9h1.5M262.9 80.6h1.5M263.0 90.5h1.5M262.6 86.0h1.5M262.8 80.9h1.5M263.2 83.3h1.5M263.5 83.5h1.5M263.3 88.7h1.5M263.2 80.8h1.5M263.3 80.6h1.5M263.6 58.6h1.5M263.8 85.7h1.5M263.6 84.4h1.5M263.7 81.9h1.5M264.0 80.0h1.5M264.1 86.4h1.5M264.4 86.2h1.5M264.2 88.2h1.5M264.3 82.4h1.5M264.4 85.9h1.5M264.7 80.0h1.5M264.6 82.9h1.5M264.8 84.2h1.5M265.0 80.9h1.5M264.8 81.9h1.5M265.4 57.1h1.5M265.2 82.4h1.5M265.5 82.2h1.5M265.3 80.5h1.5M265.5 81.7h1.5M265.3 80.2h1.5M266.0 58.6h1.5M265.8 80.6h1.5M265.6 89.2h1.5M265.7 80.0h1.5M265.7 80.9h1.5M265.8 82.2h1.5M266.2 57.7h1.5M266.4 86.6h1.5M266.4 81.8h1.5M266.5 81.6h1.5M266.4 81.2h1.5M266.4 80.1h1.5M266.8 58.0h1.5M266.8 84.9h1.5M267.0 79.6h1.5M266.6 88.5h1.5M266.9 83.2h1.5M266.9 80.6h1.5M267.3 56.7h1.5M267.2 79.7h1.5M267.4 84.6h1.5M267.3 81.1h1.5M267.1 87.0h1.5M267.4 87.9h1.5M267.8 57.4h1.5M267.6 82.8h1.5M267.7 85.3h1.5M267.9 83.1h1.5M267.8 86.2h1.5M268.0 81.1h1.5M268.5 56.7h1.5M268.3 78.5h1.5M268.3 78.8h1.5M268.4 85.7h1.5M268.1 82.9h1.5M268.5 79.7h1.5M268.8 82.4h1.5M268.8 83.6h1.5M269.0 85.9h1.5M268.9 84.3h1.5M268.7 82.0h1.5M269.4 57.5h1.5M269.1 79.8h1.5M269.5 79.0h1.5M269.4 77.9h1.5M269.2 84.9h1.5M269.1 80.3h1.5M269.2 82.5h1.5M269.6 57.2h1.5M269.8 82.5h1.5M269.8 80.9h1.5M269.9 78.3h1.5M269.8 86.0h1.5M269.9 84.4h1.5M270.2 57.0h1.5M270.3 81.2h1.5M270.1 82.3h1.5M270.5 77.2h1.5M270.5 79.3h1.5M270.2 82.7h1.5M270.4 81.9h1.5M271.0 56.6h1.5M271.0 78.3h1.5M270.8 78.5h1.5M270.6 82.7h1.5M270.9 77.4h1.5M270.9 80.3h1.5M271.1 58.1h1.5M271.4 78.0h1.5M271.4 80.5h1.5M271.3 85.5h1.5M271.2 81.7h1.5M271.1 77.5h1.5M271.6 56.6h1.5M271.9 56.0h1.5M272.0 83.5h1.5M272.0 77.6h1.5M272.0 83.7h1.5M272.0 77.0h1.5M271.6 84.1h1.5M272.4 57.2h1.5M272.5 79.8h1.5M272.2 77.9h1.5M272.4 80.4h1.5M272.4 86.3h1.5M272.2 78.7h1.5M272.5 82.7h1.5M273.0 57.2h1.5M272.6 78.6h1.5M272.8 76.6h1.5M272.9 79.2h1.5M272.8 85.1h1.5M273.0 86.4h1.5M273.5 57.5h1.5M273.4 86.5h1.5M273.5 82.1h1.5M273.4 80.2h1.5M273.1 81.7h1.5M273.4 76.4h1.5M273.6 57.9h1.5M273.6 83.5h1.5M273.6 81.3h1.5M273.9 80.9h1.5M274.0 81.2h1.5M273.8 78.9h1.5M274.1 56.5h1.5M274.5 78.8h1.5M274.3 79.1h1.5M274.4 85.8h1.5M274.5 77.1h1.5M274.5 82.1h1.5M274.8 76.0h1.5M274.9 75.9h1.5M274.9 76.9h1.5M274.8 78.3h1.5M274.6 76.4h1.5M274.8 75.9h1.5M275.1 77.8h1.5M275.3 75.4h1.5M275.4 86.6h1.5M275.2 77.5h1.5M275.2 86.1h1.5M275.8 55.7h1.5M276.0 81.0h1.5M275.7 83.9h1.5M275.8 85.6h1.5M275.6 80.5h1.5M275.7 81.7h1.5M276.3 75.9h1.5M276.5 77.9h1.5M276.2 82.3h1.5M276.1 83.8h1.5M276.1 77.2h1.5M276.7 85.1h1.5M276.7 82.2h1.5M276.7 78.5h1.5M276.8 79.5h1.5M276.8 78.4h1.5M276.8 75.5h1.5M277.4 55.6h1.5M277.4 75.0h1.5M277.3 81.2h1.5M277.5 75.1h1.5M277.4 75.0h1.5M277.5 78.6h1.5M278.0 55.3h1.5M277.7 78.4h1.5M277.8 80.4h1.5M277.9 81.6h1.5M277.9 75.6h1.5M277.6 79.5h1.5M278.2 55.2h1.5M278.3 75.1h1.5M278.3 80.3h1.5M278.1 84.7h1.5M278.1 80.5h1.5M278.1 78.6h1.5M278.6 55.8h1.5M278.8 79.9h1.5M278.6 75.0h1.5M278.6 75.1h1.5M278.8 80.7h1.5M278.8 80.0h1.5M278.9 82.6h1.5M279.3 74.8h1.5M279.3 75.9h1.5M279.1 79.4h1.5M279.4 76.7h1.5M279.4 83.0h1.5M279.9 83.5h1.5M279.8 84.0h1.5M279.6 83.1h1.5M279.9 79.0h1.5M279.7 77.8h1.5M280.4 55.3h1.5M280.5 81.1h1.5M280.5 81.1h1.5M280.5 80.5h1.5M280.1 75.8h1.5M280.4 75.1h1.5M280.8 56.3h1.5M280.7 77.9h1.5M280.8 80.7h1.5M280.7 82.2h1.5M281.0 79.4h1.5M280.7 84.1h1.5M280.6 85.2h1.5M281.4 56.1h1.5M281.2 74.6h1.5M281.4 74.7h1.5M281.1 84.6h1.5M281.1 85.1h1.5M281.4 75.4h1.5M281.9 55.9h1.5M281.9 77.0h1.5M281.9 75.7h1.5M281.8 73.0h1.5M281.6 73.9h1.5M281.7 81.6h1.5M282.4 84.8h1.5M282.2 84.0h1.5M282.3 82.5h1.5M282.1 84.5h1.5M282.2 73.8h1.5M282.4 80.3h1.5M282.7 55.2h1.5M282.8 78.7h1.5M282.7 72.9h1.5M282.7 74.5h1.5M282.9 76.1h1.5M283.0 84.0h1.5M283.0 74.8h1.5M283.4 54.9h1.5M283.4 76.5h1.5M283.3 72.4h1.5M283.5 72.7h1.5M283.1 83.4h1.5M283.1 73.7h1.5M283.2 74.6h1.5M283.6 54.7h1.5M283.8 74.0h1.5M284.0 72.4h1.5M283.8 75.2h1.5M283.6 83.8h1.5M283.8 73.4h1.5M284.3 55.1h1.5M284.1 73.9h1.5M284.5 75.2h1.5M284.5 81.3h1.5M284.3 73.5h1.5M284.4 75.7h1.5M284.6 55.3h1.5M284.7 78.1h1.5M284.8 78.1h1.5M285.0 73.1h1.5M284.8 81.7h1.5M284.7 76.9h1.5M284.6 82.8h1.5M285.1 55.4h1.5M285.3 75.0h1.5M285.3 71.4h1.5M285.5 80.4h1.5M285.4 82.1h1.5M285.1 73.2h1.5M285.3 79.0h1.5M286.0 53.7h1.5M285.6 76.8h1.5M285.8 72.0h1.5M285.9 80.0h1.5M285.8 72.9h1.5M286.0 71.3h1.5M285.9 82.2h1.5M286.4 54.5h1.5M286.3 75.6h1.5M286.2 72.0h1.5M286.2 78.2h1.5M286.2 72.5h1.5M286.2 73.4h1.5M286.5 74.7h1.5M286.8 54.3h1.5M286.9 71.3h1.5M286.6 73.7h1.5M286.8 75.1h1.5M286.7 71.4h1.5M286.6 73.2h1.5M287.4 54.3h1.5M287.3 74.1h1.5M287.3 76.7h1.5M287.1 71.7h1.5M287.1 72.3h1.5M287.1 81.9h1.5M288.0 53.9h1.5M287.6 71.7h1.5M287.9 71.1h1.5M287.9 74.2h1.5M287.6 76.4h1.5M287.7 73.0h1.5M288.5 75.7h1.5M288.3 74.8h1.5M288.1 81.0h1.5M288.5 71.4h1.5M288.3 72.6h1.5M288.7 53.9h1.5M288.7 79.6h1.5M288.9 72.5h1.5M288.6 71.0h1.5M288.9 75.2h1.5M288.7 75.2h1.5M289.3 53.6h1.5M289.2 80.6h1.5M289.4 71.0h1.5M289.3 72.3h1.5M289.2 78.1h1.5M289.1 77.4h1.5M290.0 53.3h1.5M289.7 74.1h1.5M289.6 71.4h1.5M289.9 72.1h1.5M289.8 73.4h1.5M290.0 75.7h1.5M290.1 71.5h1.5M290.4 73.2h1.5M290.4 74.3h1.5M290.1 76.6h1.5M290.5 72.8h1.5M290.8 52.9h1.5M290.6 71.6h1.5M291.0 70.3h1.5M290.9 70.1h1.5M290.7 79.7h1.5M290.9 75.5h1.5M291.0 71.7h1.5M291.3 54.2h1.5M291.5 77.8h1.5M291.2 70.3h1.5M291.1 73.8h1.5M291.2 75.0h1.5M291.3 72.2h1.5M291.8 53.8h1.5M291.8 70.3h1.5M292.0 74.6h1.5M291.7 81.2h1.5M291.7 72.5h1.5M291.6 70.3h1.5M292.2 54.1h1.5M292.5 69.8h1.5M292.1 75.8h1.5M292.1 71.7h1.5M292.5 72.7h1.5M292.1 78.2h1.5M293.0 53.8h1.5M292.7 74.9h1.5M292.8 80.3h1.5M292.8 72.5h1.5M292.7 74.0h1.5M292.8 74.9h1.5M293.0 77.2h1.5M293.1 53.0h1.5M293.2 80.7h1.5M293.4 78.3h1.5M293.5 75.5h1.5M293.5 69.9h1.5M293.5 72.9h1.5M293.6 77.5h1.5M293.6 68.5h1.5M293.6 72.7h1.5M294.0 70.9h1.5M293.9 73.9h1.5M294.5 53.3h1.5M294.2 68.1h1.5M294.4 69.3h1.5M294.1 69.6h1.5M294.5 71.4h1.5M294.5 74.7h1.5M294.4 77.0h1.5M294.8 67.9h1.5M294.9 78.8h1.5M294.7 71.1h1.5M294.9 69.1h1.5M294.6 77.0h1.5M295.3 76.4h1.5M295.5 75.1h1.5M295.1 74.3h1.5M295.4 75.4h1.5M295.4 75.7h1.5M295.6 51.8h1.5M295.8 69.6h1.5M295.9 76.4h1.5M295.6 68.8h1.5M296.0 69.1h1.5M296.0 72.8h1.5M296.1 69.1h1.5M296.5 73.0h1.5M296.2 79.5h1.5M296.5 77.8h1.5M296.3 71.0h1.5M296.9 51.8h1.5M296.7 72.9h1.5M297.0 68.8h1.5M296.9 70.3h1.5M296.6 70.5h1.5M296.7 78.8h1.5M297.3 68.3h1.5M297.1 72.2h1.5M297.3 69.5h1.5M297.2 75.6h1.5M297.1 71.4h1.5M297.1 71.9h1.5M297.9 68.8h1.5M297.9 70.0h1.5M297.7 74.3h1.5M298.0 71.4h1.5M298.0 69.7h1.5M297.8 68.0h1.5M298.4 52.6h1.5M298.5 67.1h1.5M298.5 70.1h1.5M298.2 70.2h1.5M298.1 66.8h1.5M298.2 73.2h1.5M298.9 52.7h1.5M298.9 67.5h1.5M299.0 77.3h1.5M298.7 68.5h1.5M299.0 74.7h1.5M299.0 66.9h1.5M299.5 52.9h1.5M299.5 67.5h1.5M299.2 68.0h1.5M299.3 74.8h1.5M299.5 77.5h1.5M299.3 67.4h1.5M299.4 74.0h1.5M299.7 52.1h1.5M299.8 67.4h1.5M299.6 67.6h1.5M300.0 73.9h1.5M299.8 70.0h1.5M299.8 72.0h1.5M300.5 66.1h1.5M300.2 73.4h1.5M300.3 68.9h1.5M300.4 76.4h1.5M300.1 74.3h1.5M300.4 67.0h1.5M300.6 75.0h1.5M300.9 66.7h1.5M300.8 71.1h1.5M300.7 73.8h1.5M300.6 72.3h1.5M301.0 73.3h1.5M301.2 51.1h1.5M301.1 72.6h1.5M301.2 70.0h1.5M301.5 72.3h1.5M301.5 77.5h1.5M301.4 65.0h1.5M301.5 65.0h1.5M301.8 69.8h1.5M301.7 72.5h1.5M302.0 65.1h1.5M301.7 73.0h1.5M301.6 71.2h1.5M301.7 70.9h1.5M302.2 51.8h1.5M302.3 68.1h1.5M302.4 70.2h1.5M302.3 64.5h1.5M302.3 75.4h1.5M302.2 73.0h1.5M302.3 67.7h1.5M302.6 70.7h1.5M302.9 66.5h1.5M302.6 68.0h1.5M302.6 71.7h1.5M302.6 70.7h1.5M303.1 51.3h1.5M303.3 69.1h1.5M303.4 64.5h1.5M303.1 66.8h1.5M303.2 71.0h1.5M303.5 73.4h1.5M303.3 68.8h1.5M303.6 50.6h1.5M303.6 75.2h1.5M303.7 73.2h1.5M304.0 74.2h1.5M303.7 65.9h1.5M303.7 72.2h1.5M304.1 71.6h1.5M304.1 70.5h1.5M304.2 65.2h1.5M304.1 69.3h1.5M304.1 71.8h1.5M304.1 68.3h1.5M304.8 66.4h1.5M304.7 71.2h1.5M304.9 73.6h1.5M304.6 69.3h1.5M304.9 71.7h1.5M305.5 50.4h1.5M305.5 63.9h1.5M305.5 71.8h1.5M305.1 72.4h1.5M305.1 69.7h1.5M305.3 74.0h1.5M305.6 72.1h1.5M305.6 65.3h1.5M305.6 73.8h1.5M305.9 66.8h1.5M305.7 69.9h1.5M306.2 50.7h1.5M306.1 65.1h1.5M306.3 67.9h1.5M306.1 74.1h1.5M306.3 73.0h1.5M306.4 71.4h1.5M307.0 71.8h1.5M306.7 70.6h1.5M306.6 67.7h1.5M306.6 66.3h1.5M306.6 66.3h1.5M307.4 65.3h1.5M307.5 64.4h1.5M307.1 68.6h1.5M307.2 68.4h1.5M307.4 67.5h1.5M307.7 50.6h1.5M308.0 65.1h1.5M307.7 66.0h1.5M307.8 68.2h1.5M307.8 65.3h1.5M307.8 63.9h1.5M308.3 68.0h1.5M308.3 67.9h1.5M308.3 72.8h1.5M308.2 72.7h1.5M308.3 71.0h1.5M309.0 64.3h1.5M308.9 68.5h1.5M308.7 68.0h1.5M308.9 63.3h1.5M309.3 64.7h1.5M309.3 66.8h1.5M309.3 63.9h1.5M309.3 63.1h1.5M309.3 71.3h1.5M309.8 71.4h1.5M309.8 68.2h1.5M309.8 66.6h1.5M309.8 68.2h1.5M310.1 63.5h1.5M310.1 68.2h1.5M310.4 64.3h1.5M310.5 70.6h1.5M310.7 67.5h1.5M310.7 62.7h1.5M310.6 69.0h1.5M310.7 67.1h1.5M311.3 49.0h1.5M311.1 65.1h1.5M311.1 63.1h1.5M311.2 63.9h1.5M311.5 71.2h1.5M312.0 64.2h1.5M311.7 63.7h1.5M311.7 61.7h1.5M311.9 65.5h1.5M312.1 65.8h1.5M312.3 65.2h1.5M312.1 62.8h1.5M312.2 66.0h1.5M313.0 68.8h1.5M312.7 69.2h1.5M312.7 66.6h1.5M312.8 67.3h1.5M313.2 65.4h1.5M313.4 66.4h1.5M313.5 67.5h1.5M313.9 65.3h1.5M313.7 62.3h1.5M313.7 61.7h1.5M314.5 63.9h1.5M314.5 70.1h1.5M314.1 62.3h1.5M314.6 48.7h1.5M314.9 61.6h1.5M315.0 68.4h1.5M314.9 62.5h1.5M315.1 62.6h1.5M315.2 66.5h1.5M315.5 63.5h1.5M315.6 63.8h1.5M315.6 61.7h1.5M315.9 61.7h1.5M316.2 65.2h1.5M316.4 61.1h1.5M316.1 64.4h1.5M316.6 63.3h1.5M316.8 68.5h1.5M317.1 64.8h1.5M317.3 67.0h1.5M317.8 66.3h1.5M317.7 61.8h1.5M317.8 61.3h1.5M318.2 63.8h1.5M318.1 61.2h1.5M318.9 65.5h1.5M318.6 60.5h1.5M318.8 60.8h1.5M319.2 63.0h1.5M319.2 61.1h1.5M319.8 63.7h1.5M319.9 65.0h1.5M320.1 61.8h1.5M320.2 61.6h1.5M321.0 62.8h1.5M320.9 60.2h1.5M321.2 46.9h1.5M321.2 61.2h1.5M321.1 60.7h1.5M322.0 62.7h1.5M321.7 63.4h1.5M322.3 63.8h1.5M322.3 61.7h1.5M322.7 63.1h1.5M322.6 64.7h1.5M323.5 63.5h1.5M323.8 63.9h1.5M324.1 59.7h1.5M324.6 59.4h1.5M325.5 60.7h1.5M325.2 60.6h1.5M325.9 61.0h1.5M326.4 60.0h1.5M326.7 59.0h1.5M326.6 60.8h1.5M327.1 61.2h1.5M327.8 58.2h1.5M328.5 58.1h1.5M328.8 57.6h1.5M329.4 57.1h1.5M329.7 56.3h1.5M329.6 55.6h1.5M330.5 60.4h1.5M330.6 57.9h1.5M330.6 55.8h1.5M331.3 57.1h1.5M331.5 57.2h1.5M331.9 58.3h1.5M332.1 59.0h1.5M332.8 57.2h1.5M333.3 55.7h1.5M333.7 44.6h1.5M333.7 55.8h1.5M334.2 56.9h1.5M334.8 57.3h1.5M335.5 55.2h1.5M336.0 56.2h1.5M336.3 54.2h1.5M337.0 57.0h1.5M337.4 56.8h1.5M337.6 55.1h1.5M338.1 55.2h1.5M339.3 55.5h1.5M339.7 53.6h1.5M341.0 53.0h1.5M341.3 53.4h1.5M342.4 53.2h1.5M343.7 50.4h1.5M344.4 43.5h1.5M344.2 51.9h1.5M346.1 50.1h1.5M350.5 42.5h1.5" stroke="#2277B8" stroke-width="1.5" stroke-opacity="0.85" fill="none"/>
<path d="M62.2 146.5h1.5M63.8 128.9h1.5M66.7 128.2h1.5M77.2 141.7h1.5M92.8 113.5h1.5M94.0 116.1h1.5M94.2 114.8h1.5M95.7 110.3h1.5M96.4 115.2h1.5M96.7 113.1h1.5M97.6 108.4h1.5M98.1 114.5h1.5M98.7 108.7h1.5M99.5 109.6h1.5M99.7 113.7h1.5M101.8 113.5h1.5M103.0 109.8h1.5M103.4 112.6h1.5M105.0 102.8h1.5M106.0 134.8h1.5M106.8 113.8h1.5M107.3 112.6h1.5M109.6 101.2h1.5M110.1 105.7h1.5M111.8 101.0h1.5M111.6 133.7h1.5M112.4 111.0h1.5M113.0 103.5h1.5M113.5 96.0h1.5M113.6 108.8h1.5M114.4 108.4h1.5M114.9 103.9h1.5M114.8 133.6h1.5M115.1 107.0h1.5M115.3 132.5h1.5M115.6 133.5h1.5M116.1 95.9h1.5M116.8 107.6h1.5M117.6 105.9h1.5M118.1 101.8h1.5M118.6 102.4h1.5M119.2 101.5h1.5M119.9 107.1h1.5M120.9 105.8h1.5M121.2 97.8h1.5M122.4 98.1h1.5M122.6 101.5h1.5M123.4 93.1h1.5M124.0 100.4h1.5M124.6 91.4h1.5M125.4 97.6h1.5M125.3 130.3h1.5M126.0 104.3h1.5M127.0 102.1h1.5M127.2 103.7h1.5M128.5 86.9h1.5M128.7 94.1h1.5M129.4 88.6h1.5M129.9 130.4h1.5M130.5 93.7h1.5M131.5 93.3h1.5M131.6 102.1h1.5M132.4 101.5h1.5M133.3 128.2h1.5M134.0 99.6h1.5M134.2 90.4h1.5M134.9 98.9h1.5M136.0 89.7h1.5M136.5 127.4h1.5M136.6 86.2h1.5M138.3 82.5h1.5M138.7 85.6h1.5M139.2 85.1h1.5M139.7 90.1h1.5M140.5 95.3h1.5M141.3 84.1h1.5M141.6 93.2h1.5M142.1 90.8h1.5M142.1 126.3h1.5M142.6 96.0h1.5M143.3 89.4h1.5M143.8 84.3h1.5M143.6 125.7h1.5M144.6 86.5h1.5M145.9 83.2h1.5M146.4 88.9h1.5M146.6 82.0h1.5M147.1 80.7h1.5M147.9 91.0h1.5M148.3 84.9h1.5M148.7 84.8h1.5M149.2 85.9h1.5M149.7 88.4h1.5M150.3 76.6h1.5M150.6 78.3h1.5M151.5 86.0h1.5M151.7 76.5h1.5M152.3 89.3h1.5M152.7 90.7h1.5M153.5 86.1h1.5M153.6 75.4h1.5M154.1 89.9h1.5M155.2 89.1h1.5M156.0 82.7h1.5M157.3 71.6h1.5M157.7 83.8h1.5M158.6 81.9h1.5M159.2 84.3h1.5M159.6 86.5h1.5M160.7 76.2h1.5M162.3 83.7h1.5M162.7 80.8h1.5M163.5 75.7h1.5M163.6 82.2h1.5M164.4 75.6h1.5M164.7 69.6h1.5M165.1 69.3h1.5M165.8 81.5h1.5M167.8 80.4h1.5M168.2 69.0h1.5M169.1 81.9h1.5M170.0 77.5h1.5M170.4 71.7h1.5M171.5 80.9h1.5M172.2 77.6h1.5M175.2 79.3h1.5M175.7 122.7h1.5M176.5 75.5h1.5M176.6 71.8h1.5M177.5 68.9h1.5M177.6 67.2h1.5M178.5 68.4h1.5M179.4 71.1h1.5M179.8 77.9h1.5M180.5 69.4h1.5M181.2 76.7h1.5M181.6 118.2h1.5M182.7 68.2h1.5M183.1 73.4h1.5M184.0 77.2h1.5M184.3 68.2h1.5M185.0 76.2h1.5M186.1 69.4h1.5M186.4 117.9h1.5M187.5 76.3h1.5M188.8 72.4h1.5M189.3 74.5h1.5M189.4 117.9h1.5M190.2 66.6h1.5M191.5 70.2h1.5M192.1 73.4h1.5M193.2 116.8h1.5M193.7 74.1h1.5M195.4 66.7h1.5M195.3 114.3h1.5M195.7 72.1h1.5M196.8 117.5h1.5M197.2 113.5h1.5M197.6 67.0h1.5M198.3 65.4h1.5M199.3 71.0h1.5M199.1 116.9h1.5M200.4 69.8h1.5M200.1 112.7h1.5M201.5 113.8h1.5M202.4 115.1h1.5M203.0 68.2h1.5M205.5 69.2h1.5M205.4 112.1h1.5M206.4 64.4h1.5M206.9 115.1h1.5M208.2 67.5h1.5M208.3 111.8h1.5M209.4 68.8h1.5M209.2 111.6h1.5M210.1 69.7h1.5M210.3 113.1h1.5M210.6 69.3h1.5M214.4 65.0h1.5M215.4 66.6h1.5M215.1 107.4h1.5M217.4 107.6h1.5M217.9 66.5h1.5M218.1 106.6h1.5M218.6 109.6h1.5M219.2 107.4h1.5M220.7 105.2h1.5M221.4 64.9h1.5M221.3 108.0h1.5M222.3 103.0h1.5M223.2 65.4h1.5M223.8 63.8h1.5M226.1 62.9h1.5M226.1 102.6h1.5M226.9 108.8h1.5M227.4 103.3h1.5M228.1 108.5h1.5M228.9 61.3h1.5M229.6 64.7h1.5M230.1 60.5h1.5M232.5 60.6h1.5M235.5 60.5h1.5M237.5 105.4h1.5M239.8 100.6h1.5M240.5 99.8h1.5M240.6 60.2h1.5M240.6 102.7h1.5M242.2 101.6h1.5M243.7 97.0h1.5M244.1 57.7h1.5M244.8 59.0h1.5M245.2 101.6h1.5M245.9 101.1h1.5M246.5 101.1h1.5M247.5 60.2h1.5M248.5 96.8h1.5M248.9 58.5h1.5M248.6 97.9h1.5M249.9 95.2h1.5M252.1 98.8h1.5M253.3 58.2h1.5M253.3 95.7h1.5M253.8 100.4h1.5M255.3 97.5h1.5M255.6 104.7h1.5M256.4 99.1h1.5M257.2 94.2h1.5M257.8 95.6h1.5M259.0 95.6h1.5M260.0 92.1h1.5M260.3 97.8h1.5M260.9 102.4h1.5M262.0 101.4h1.5M263.5 57.0h1.5M263.7 55.6h1.5M263.9 94.3h1.5M264.2 91.4h1.5M265.5 94.2h1.5M266.0 94.2h1.5M266.1 97.3h1.5M266.6 91.8h1.5M267.5 101.1h1.5M269.0 55.2h1.5M269.1 94.7h1.5M271.5 90.8h1.5M272.6 89.6h1.5M273.2 97.2h1.5M274.7 88.4h1.5M276.0 55.0h1.5M275.6 93.0h1.5M276.1 95.9h1.5M276.7 91.9h1.5M277.5 54.6h1.5M277.4 91.6h1.5M279.5 90.0h1.5M280.5 86.1h1.5M281.5 89.0h1.5M284.1 84.2h1.5M284.9 93.9h1.5M286.0 52.7h1.5M285.8 85.9h1.5M286.1 92.7h1.5M287.1 90.0h1.5M288.7 83.3h1.5M289.8 88.7h1.5M290.9 91.2h1.5M292.8 86.9h1.5M293.3 50.5h1.5M293.3 82.9h1.5M294.0 82.7h1.5M294.8 85.0h1.5M295.1 84.0h1.5M297.5 83.1h1.5M298.4 86.8h1.5M298.9 82.9h1.5M299.6 89.4h1.5M300.4 89.9h1.5M300.8 87.1h1.5M301.3 78.0h1.5M301.7 81.4h1.5M304.4 79.7h1.5M308.5 83.5h1.5M308.7 77.8h1.5M309.3 73.5h1.5M309.8 76.0h1.5M310.2 79.6h1.5M310.6 78.1h1.5M311.4 73.3h1.5M313.1 74.1h1.5M313.6 71.5h1.5M314.7 77.0h1.5M316.6 74.0h1.5M320.9 46.6h1.5M320.9 67.4h1.5M321.9 45.7h1.5M324.0 72.0h1.5M324.1 73.3h1.5M325.0 69.0h1.5M325.1 45.9h1.5M325.8 69.3h1.5M327.2 44.8h1.5M328.8 62.6h1.5M332.7 64.4h1.5M333.5 62.5h1.5M333.7 58.9h1.5M334.4 43.6h1.5M335.1 62.3h1.5M339.5 59.1h1.5M341.2 56.1h1.5M342.0 57.7h1.5M342.4 54.6h1.5" stroke="#3579A3" stroke-width="1.5" stroke-opacity="0.85" fill="none"/>
<path d="M55.9 146.6L348.2 46.4" stroke="#000" stroke-width="1.8"/>
<path d="M30.0 16.2V149.3H361.0" fill="none" stroke="#737373" stroke-width="1"/>
<path d="M30.0 146.5h3.3M30.0 114.0h3.3M30.0 81.6h3.3M30.0 49.1h3.3M30.0 16.6h3.3M30.00 149.3v-3.3M71.38 149.3v-3.3M112.75 149.3v-3.3M154.12 149.3v-3.3M195.50 149.3v-3.3M236.88 149.3v-3.3M278.25 149.3v-3.3M319.62 149.3v-3.3M361.00 149.3v-3.3" stroke="#737373" stroke-width="1"/>
<text transform="translate(26.8 149.9) scale(.95 1.15)" text-anchor="end" class="tk">0</text>
<text transform="translate(26.8 117.4) scale(.95 1.15)" text-anchor="end" class="tk">20</text>
<text transform="translate(26.8 85.0) scale(.95 1.15)" text-anchor="end" class="tk">40</text>
<text transform="translate(26.8 52.5) scale(.95 1.15)" text-anchor="end" class="tk">60</text>
<text transform="translate(26.8 20.0) scale(.95 1.15)" text-anchor="end" class="tk">80</text>
<text transform="translate(30.00 160.1) scale(.95 1.15)" text-anchor="middle" class="tk">-10</text>
<text transform="translate(71.38 160.1) scale(.95 1.15)" text-anchor="middle" class="tk">0</text>
<text transform="translate(112.75 160.1) scale(.95 1.15)" text-anchor="middle" class="tk">10</text>
<text transform="translate(154.12 160.1) scale(.95 1.15)" text-anchor="middle" class="tk">20</text>
<text transform="translate(195.50 160.1) scale(.95 1.15)" text-anchor="middle" class="tk">30</text>
<text transform="translate(236.88 160.1) scale(.95 1.15)" text-anchor="middle" class="tk">40</text>
<text transform="translate(278.25 160.1) scale(.95 1.15)" text-anchor="middle" class="tk">50</text>
<text transform="translate(319.62 160.1) scale(.95 1.15)" text-anchor="middle" class="tk">60</text>
<text transform="translate(361.00 160.1) scale(.95 1.15)" text-anchor="middle" class="tk">70</text>
<text x="194.9" y="13.4" text-anchor="middle" class="ti">External ambient temperature</text>
<text x="195.1" y="174.4" text-anchor="middle" class="lb">Experimental Tm (°C)</text>
<text transform="translate(13.6 82.8) rotate(-90)" text-anchor="middle" class="lb">Modeled Tm (°C)</text>
<path d="M47.5 310.9L48.0 310.3L48.5 310.2L49.0 309.9L49.5 309.9L50.0 309.1L50.5 308.8L51.0 308.4L51.5 307.9L52.0 307.6L52.5 307.4L53.0 307.2L53.5 306.9L54.0 307.1L54.5 306.9L55.0 305.9L55.5 306.4L56.0 306.2L56.5 306.0L57.0 306.1L57.5 306.1L58.0 306.1L58.5 305.7L59.0 305.7L59.5 305.2L60.0 305.6L60.5 305.1L61.0 305.0L61.5 304.9L62.0 304.9L62.5 304.7L63.0 304.7L63.5 303.5L64.0 303.5L64.5 303.5L65.0 303.3L65.5 303.8L66.0 303.3L66.5 303.2L67.0 302.5L67.5 302.6L68.0 302.1L68.5 301.7L69.0 302.5L69.5 302.6L70.0 302.4L70.5 302.3L71.0 301.7L71.5 301.3L72.0 301.4L72.5 300.7L73.0 300.8L73.5 300.3L74.0 300.4L74.5 300.1L75.0 300.6L75.5 300.8L76.0 300.5L76.5 299.8L77.0 299.5L77.5 299.5L78.0 299.1L78.5 299.2L79.0 299.4L79.5 299.2L80.0 298.9L80.5 298.9L81.0 298.6L81.5 298.6L82.0 298.3L82.5 298.5L83.0 298.0L83.5 297.4L84.0 297.2L84.5 296.7L85.0 296.2L85.5 296.0L86.0 296.0L86.5 295.1L87.0 294.9L87.5 294.7L88.0 294.5L88.5 294.6L89.0 293.9L89.5 294.0L90.0 293.7L90.5 293.5L91.0 293.2L91.5 292.8L92.0 292.5L92.5 292.4L93.0 292.8L93.5 292.7L94.0 292.6L94.5 292.4L95.0 291.8L95.5 291.6L96.0 291.9L96.5 291.1L97.0 291.0L97.5 291.0L98.0 290.7L98.5 290.6L99.0 290.7L99.5 291.0L100.0 290.9L100.5 291.0L101.0 290.6L101.5 290.4L102.0 290.0L102.5 289.7L103.0 289.2L103.5 289.1L104.0 289.2L104.5 288.8L105.0 288.6L105.5 288.5L106.0 288.2L106.5 288.3L107.0 288.0L107.5 287.4L108.0 286.9L108.5 287.0L109.0 287.1L109.5 287.2L110.0 287.0L110.5 286.8L111.0 286.1L111.5 286.4L112.0 285.9L112.5 286.1L113.0 285.6L113.5 285.2L114.0 285.2L114.5 285.0L115.0 284.7L115.5 284.9L116.0 285.0L116.5 284.9L117.0 284.6L117.5 284.2L118.0 284.0L118.5 283.7L119.0 283.6L119.5 283.8L120.0 283.6L120.5 283.2L121.0 283.0L121.5 283.3L122.0 283.2L122.5 283.1L123.0 283.0L123.5 283.0L124.0 282.8L124.5 282.9L125.0 282.9L125.5 281.7L126.0 281.6L126.5 282.3L127.0 281.6L127.5 281.5L128.0 281.6L128.5 281.3L129.0 281.4L129.5 280.7L130.0 280.1L130.5 279.9L131.0 279.5L131.5 279.1L132.0 279.2L132.5 279.2L133.0 279.0L133.5 278.7L134.0 278.7L134.5 278.4L135.0 278.1L135.5 278.1L136.0 278.0L136.5 277.8L137.0 277.8L137.5 277.3L138.0 277.1L138.5 276.7L139.0 277.0L139.5 276.9L140.0 277.3L140.5 277.4L141.0 276.9L141.5 276.2L142.0 276.1L142.5 275.7L143.0 275.4L143.5 274.9L144.0 274.9L144.5 274.7L145.0 274.7L145.5 274.5L146.0 274.0L146.5 273.2L147.0 273.0L147.5 272.8L148.0 272.6L148.5 272.8L149.0 272.6L149.5 273.0L150.0 272.8L150.5 272.7L151.0 272.6L151.5 272.6L152.0 271.9L152.5 272.0L153.0 271.8L153.5 271.2L154.0 271.2L154.5 271.1L155.0 271.2L155.5 271.2L156.0 270.9L156.5 270.1L157.0 270.5L157.5 270.6L158.0 270.5L158.5 270.3L159.0 270.3L159.5 269.6L160.0 269.5L160.5 269.2L161.0 268.6L161.5 268.5L162.0 268.4L162.5 268.7L163.0 268.6L163.5 267.8L164.0 267.0L164.5 266.8L165.0 266.7L165.5 266.3L166.0 265.8L166.5 265.7L167.0 265.3L167.5 265.1L168.0 265.4L168.5 265.4L169.0 265.1L169.5 264.6L170.0 264.5L170.5 265.0L171.0 264.7L171.5 265.0L172.0 264.6L172.5 264.3L173.0 264.3L173.5 263.9L174.0 263.7L174.5 263.1L175.0 263.2L175.5 263.4L176.0 263.0L176.5 262.9L177.0 262.6L177.5 261.7L178.0 262.5L178.5 262.5L179.0 262.4L179.5 262.3L180.0 262.0L180.5 262.4L181.0 261.4L181.5 261.1L182.0 260.7L182.5 260.5L183.0 260.5L183.5 260.0L184.0 259.4L184.5 259.0L185.0 259.0L185.5 259.2L186.0 259.2L186.5 259.5L187.0 259.0L187.5 259.0L188.0 258.9L188.5 258.5L189.0 257.9L189.5 258.0L190.0 257.5L190.5 257.1L191.0 256.6L191.5 257.0L192.0 256.7L192.5 256.3L193.0 256.0L193.5 255.8L194.0 255.6L194.5 254.9L195.0 254.4L195.5 254.5L196.0 254.8L196.5 254.3L197.0 254.2L197.5 253.8L198.0 253.0L198.5 252.9L199.0 252.5L199.5 252.8L200.0 252.6L200.5 252.5L201.0 251.9L201.5 251.9L202.0 251.3L202.5 251.3L203.0 251.7L203.5 251.1L204.0 251.3L204.5 251.6L205.0 251.3L205.5 251.4L206.0 251.1L206.5 250.8L207.0 250.0L207.5 249.6L208.0 249.1L208.5 249.9L209.0 249.8L209.5 249.7L210.0 249.1L210.5 249.6L211.0 249.1L211.5 249.5L212.0 249.7L212.5 249.5L213.0 249.1L213.5 248.9L214.0 248.4L214.5 248.5L215.0 249.0L215.5 249.0L216.0 249.1L216.5 248.6L217.0 248.5L217.5 248.0L218.0 247.8L218.5 247.9L219.0 248.5L219.5 248.2L220.0 248.0L220.5 247.2L221.0 247.2L221.5 246.8L222.0 246.3L222.5 245.9L223.0 246.0L223.5 246.0L224.0 246.2L224.5 246.1L225.0 246.1L225.5 246.5L226.0 246.6L226.5 246.6L227.0 246.8L227.5 246.6L228.0 246.0L228.5 245.6L229.0 245.0L229.5 245.1L230.0 245.0L230.5 245.1L231.0 245.2L231.5 244.9L232.0 244.8L232.5 245.1L233.0 244.9L233.5 245.0L234.0 244.8L234.5 244.3L235.0 244.1L235.5 243.4L236.0 243.6L236.5 243.4L237.0 243.8L237.5 243.3L238.0 243.2L238.5 243.3L239.0 243.1L239.5 243.1L240.0 242.7L240.5 242.3L241.0 241.8L241.5 241.7L242.0 241.5L242.5 241.6L243.0 241.5L243.5 241.3L244.0 241.1L244.5 240.5L245.0 240.5L245.5 240.7L246.0 240.4L246.5 240.3L247.0 240.6L247.5 240.3L248.0 240.4L248.5 240.2L249.0 240.9L249.5 241.1L250.0 241.2L250.5 240.7L251.0 240.7L251.5 240.4L252.0 240.2L252.5 239.8L253.0 239.7L253.5 239.3L254.0 239.3L254.5 239.7L255.0 239.0L255.5 238.5L256.0 238.6L256.5 238.7L257.0 238.5L257.5 238.5L258.0 238.5L258.5 238.5L259.0 238.7L259.5 238.2L260.0 238.2L260.5 238.0L261.0 237.6L261.5 237.6L262.0 237.0L262.5 236.4L263.0 236.8L263.5 236.3L264.0 236.8L264.5 236.9L265.0 236.6L265.5 236.1L266.0 235.3L266.5 235.3L267.0 234.8L267.5 235.4L268.0 234.8L268.5 234.9L269.0 234.0L269.5 234.0L270.0 234.6L270.5 234.4L271.0 234.1L271.5 234.0L272.0 234.1L272.5 234.3L273.0 234.2L273.5 233.4L274.0 233.5L274.5 233.8L275.0 234.4L275.5 234.2L276.0 234.0L276.5 233.6L277.0 233.7L277.5 234.0L278.0 233.4L278.5 233.2L279.0 232.7L279.5 232.4L280.0 232.2L280.5 232.3L281.0 231.9L281.5 231.8L282.0 232.1L282.5 232.1L283.0 232.1L283.5 232.0L284.0 231.8L284.5 231.7L285.0 231.6L285.5 231.4L286.0 231.5L286.5 231.3L287.0 231.3L287.5 231.1L288.0 231.1L288.5 230.6L289.0 230.2L289.5 229.8L290.0 230.1L290.5 230.1L291.0 230.0L291.5 230.0L292.0 229.5L292.5 229.4L293.0 229.1L293.5 228.5L294.0 228.4L294.5 228.1L295.0 228.6L295.5 228.3L296.0 228.1L296.5 228.4L297.0 228.3L297.5 227.8L298.0 227.8L298.5 227.5L299.0 228.0L299.5 227.6L300.0 227.3L300.5 226.4L301.0 226.3L301.5 227.0L302.0 226.9L302.5 226.6L303.0 226.7L303.5 226.5L304.0 226.5L304.5 227.2L305.0 227.6L305.5 227.8L306.0 227.9L306.5 227.2L307.0 226.3L307.5 226.4L308.0 226.3L308.5 226.2L309.0 225.9L309.5 226.0L310.0 226.0L310.5 225.9L311.0 225.8L311.5 225.5L312.0 225.2L312.5 225.5L313.0 225.2L313.5 225.6L314.0 225.6L314.5 225.3L315.0 225.4L315.5 224.9L316.0 224.6L316.5 224.3L317.0 224.2L317.5 224.2L318.0 224.7L318.5 224.6L319.0 223.9L319.5 223.5L320.0 222.8L320.5 223.0L321.0 223.2L321.5 223.2L322.0 223.2L322.5 223.2L323.0 223.1L323.5 223.1L324.0 223.0L324.5 222.5L325.0 222.6L325.5 222.9L326.0 222.1L326.5 221.9L327.0 221.5L327.5 221.7L328.0 221.6L328.5 222.0L329.0 222.2L329.5 222.0L330.0 221.7L330.5 221.5L331.0 221.7L331.5 221.4L332.0 221.5L332.5 221.1L333.0 221.4L333.5 221.6L333.5 225.7L333.0 226.2L332.5 226.4L332.0 226.6L331.5 226.8L331.0 227.1L330.5 228.1L330.0 228.7L329.5 228.4L329.0 228.7L328.5 228.7L328.0 229.4L327.5 229.5L327.0 229.5L326.5 229.5L326.0 229.5L325.5 230.0L325.0 230.5L324.5 230.5L324.0 230.6L323.5 230.8L323.0 231.3L322.5 230.9L322.0 230.9L321.5 230.9L321.0 231.1L320.5 231.4L320.0 231.6L319.5 232.1L319.0 232.5L318.5 232.6L318.0 232.8L317.5 232.7L317.0 233.4L316.5 233.3L316.0 233.3L315.5 233.8L315.0 234.4L314.5 234.6L314.0 234.5L313.5 234.7L313.0 234.7L312.5 235.0L312.0 235.0L311.5 235.1L311.0 235.1L310.5 235.5L310.0 235.8L309.5 235.4L309.0 235.8L308.5 235.9L308.0 235.8L307.5 236.5L307.0 236.7L306.5 237.0L306.0 237.2L305.5 237.3L305.0 237.4L304.5 237.6L304.0 238.3L303.5 238.1L303.0 237.8L302.5 237.4L302.0 237.4L301.5 237.6L301.0 237.3L300.5 237.4L300.0 237.6L299.5 238.2L299.0 238.1L298.5 238.4L298.0 238.3L297.5 238.2L297.0 238.1L296.5 238.5L296.0 238.5L295.5 238.8L295.0 238.9L294.5 239.2L294.0 239.7L293.5 240.3L293.0 240.0L292.5 240.0L292.0 240.6L291.5 240.6L291.0 240.9L290.5 241.0L290.0 240.8L289.5 241.1L289.0 241.5L288.5 241.8L288.0 241.8L287.5 242.3L287.0 242.5L286.5 242.3L286.0 242.7L285.5 242.5L285.0 242.5L284.5 242.8L284.0 243.3L283.5 243.1L283.0 243.6L282.5 243.6L282.0 243.6L281.5 244.2L281.0 244.1L280.5 244.1L280.0 244.1L279.5 244.3L279.0 244.7L278.5 244.8L278.0 245.2L277.5 245.0L277.0 245.1L276.5 245.3L276.0 245.7L275.5 246.5L275.0 246.6L274.5 246.6L274.0 246.3L273.5 246.8L273.0 247.7L272.5 247.7L272.0 248.0L271.5 248.2L271.0 248.3L270.5 248.2L270.0 248.4L269.5 248.9L269.0 249.3L268.5 249.1L268.0 249.0L267.5 248.8L267.0 249.3L266.5 249.1L266.0 249.7L265.5 250.3L265.0 250.6L264.5 250.8L264.0 250.7L263.5 250.8L263.0 251.2L262.5 250.9L262.0 251.3L261.5 251.8L261.0 252.2L260.5 251.6L260.0 251.8L259.5 252.9L259.0 252.8L258.5 252.7L258.0 252.9L257.5 253.0L257.0 252.5L256.5 252.1L256.0 252.6L255.5 253.1L255.0 253.7L254.5 254.3L254.0 254.1L253.5 254.3L253.0 254.7L252.5 255.0L252.0 255.2L251.5 255.2L251.0 255.4L250.5 256.0L250.0 256.0L249.5 256.0L249.0 256.0L248.5 256.1L248.0 256.3L247.5 255.7L247.0 256.1L246.5 256.1L246.0 256.7L245.5 256.7L245.0 256.8L244.5 257.0L244.0 257.1L243.5 257.0L243.0 256.8L242.5 257.7L242.0 258.5L241.5 258.5L241.0 258.9L240.5 258.9L240.0 259.2L239.5 259.6L239.0 259.5L238.5 260.0L238.0 260.3L237.5 260.0L237.0 259.8L236.5 260.5L236.0 260.6L235.5 260.9L235.0 260.9L234.5 260.6L234.0 260.8L233.5 261.0L233.0 261.0L232.5 260.9L232.0 261.4L231.5 262.1L231.0 262.7L230.5 262.5L230.0 262.2L229.5 262.2L229.0 262.2L228.5 262.4L228.0 262.3L227.5 262.7L227.0 262.8L226.5 263.2L226.0 263.7L225.5 263.6L225.0 263.8L224.5 264.2L224.0 264.7L223.5 265.1L223.0 264.8L222.5 265.0L222.0 265.2L221.5 265.3L221.0 264.8L220.5 264.8L220.0 264.8L219.5 265.3L219.0 265.3L218.5 265.6L218.0 265.9L217.5 266.6L217.0 266.1L216.5 266.4L216.0 266.6L215.5 266.9L215.0 267.1L214.5 267.5L214.0 268.1L213.5 268.0L213.0 268.8L212.5 268.4L212.0 268.2L211.5 268.6L211.0 268.9L210.5 269.2L210.0 269.3L209.5 269.1L209.0 269.3L208.5 269.4L208.0 269.7L207.5 269.5L207.0 269.8L206.5 270.3L206.0 270.3L205.5 270.6L205.0 270.1L204.5 269.9L204.0 270.2L203.5 270.7L203.0 270.9L202.5 270.7L202.0 270.6L201.5 270.8L201.0 270.7L200.5 270.6L200.0 271.0L199.5 271.2L199.0 271.9L198.5 271.9L198.0 271.6L197.5 272.0L197.0 272.3L196.5 271.9L196.0 272.2L195.5 272.0L195.0 271.9L194.5 272.9L194.0 273.2L193.5 273.5L193.0 273.2L192.5 272.9L192.0 273.2L191.5 273.1L191.0 273.3L190.5 273.3L190.0 273.7L189.5 274.1L189.0 274.2L188.5 273.8L188.0 273.4L187.5 274.1L187.0 274.3L186.5 274.7L186.0 274.7L185.5 274.5L185.0 274.9L184.5 274.8L184.0 274.7L183.5 275.3L183.0 275.7L182.5 275.7L182.0 275.4L181.5 276.2L181.0 276.4L180.5 276.9L180.0 276.9L179.5 277.5L179.0 277.2L178.5 277.9L178.0 277.5L177.5 277.6L177.0 278.0L176.5 278.7L176.0 279.1L175.5 279.0L175.0 278.6L174.5 279.0L174.0 279.3L173.5 279.6L173.0 280.1L172.5 279.8L172.0 279.5L171.5 279.6L171.0 279.6L170.5 279.9L170.0 280.0L169.5 280.5L169.0 280.8L168.5 281.3L168.0 281.7L167.5 281.6L167.0 281.9L166.5 281.7L166.0 281.7L165.5 281.7L165.0 281.4L164.5 281.3L164.0 281.8L163.5 281.8L163.0 281.5L162.5 282.3L162.0 282.5L161.5 283.0L161.0 283.3L160.5 283.1L160.0 283.1L159.5 283.6L159.0 283.5L158.5 283.4L158.0 283.0L157.5 283.6L157.0 283.7L156.5 284.2L156.0 284.5L155.5 284.7L155.0 284.9L154.5 285.3L154.0 285.6L153.5 285.5L153.0 285.4L152.5 285.5L152.0 285.8L151.5 286.0L151.0 286.3L150.5 286.4L150.0 286.8L149.5 286.8L149.0 286.4L148.5 286.5L148.0 286.7L147.5 286.8L147.0 287.2L146.5 287.5L146.0 287.9L145.5 287.5L145.0 287.5L144.5 287.2L144.0 287.5L143.5 287.5L143.0 287.4L142.5 287.8L142.0 288.0L141.5 288.6L141.0 288.9L140.5 289.1L140.0 289.4L139.5 289.1L139.0 289.3L138.5 289.1L138.0 288.6L137.5 289.0L137.0 289.1L136.5 289.2L136.0 289.5L135.5 289.3L135.0 289.8L134.5 290.4L134.0 290.0L133.5 290.7L133.0 290.6L132.5 290.3L132.0 290.7L131.5 290.4L131.0 290.3L130.5 290.5L130.0 290.4L129.5 291.3L129.0 291.0L128.5 291.4L128.0 291.4L127.5 291.8L127.0 291.7L126.5 291.4L126.0 291.1L125.5 290.7L125.0 291.3L124.5 291.7L124.0 291.9L123.5 292.4L123.0 292.3L122.5 292.1L122.0 292.1L121.5 292.3L121.0 292.2L120.5 292.1L120.0 292.5L119.5 292.7L119.0 293.1L118.5 293.0L118.0 293.1L117.5 293.5L117.0 293.6L116.5 293.8L116.0 294.2L115.5 294.5L115.0 294.8L114.5 295.1L114.0 294.9L113.5 294.3L113.0 294.5L112.5 295.2L112.0 295.2L111.5 295.3L111.0 295.4L110.5 295.9L110.0 296.2L109.5 296.2L109.0 296.2L108.5 296.7L108.0 296.6L107.5 296.6L107.0 296.6L106.5 296.4L106.0 296.3L105.5 296.3L105.0 296.8L104.5 297.1L104.0 297.7L103.5 297.6L103.0 297.4L102.5 297.4L102.0 297.7L101.5 297.1L101.0 296.9L100.5 296.7L100.0 297.3L99.5 297.0L99.0 297.3L98.5 297.5L98.0 297.9L97.5 298.7L97.0 298.8L96.5 299.0L96.0 298.9L95.5 298.7L95.0 298.9L94.5 299.1L94.0 299.3L93.5 299.4L93.0 299.4L92.5 299.8L92.0 300.3L91.5 300.6L91.0 300.6L90.5 301.0L90.0 301.0L89.5 301.2L89.0 301.4L88.5 300.9L88.0 301.3L87.5 301.3L87.0 301.2L86.5 301.3L86.0 301.8L85.5 301.5L85.0 301.9L84.5 302.5L84.0 302.9L83.5 303.0L83.0 302.9L82.5 302.8L82.0 303.1L81.5 303.6L81.0 303.5L80.5 303.5L80.0 303.3L79.5 303.3L79.0 303.3L78.5 303.6L78.0 303.5L77.5 303.8L77.0 304.2L76.5 304.2L76.0 304.9L75.5 305.0L75.0 305.3L74.5 305.2L74.0 305.1L73.5 305.5L73.0 305.3L72.5 305.5L72.0 305.8L71.5 305.6L71.0 305.9L70.5 306.1L70.0 306.3L69.5 306.5L69.0 307.0L68.5 307.2L68.0 307.2L67.5 307.6L67.0 308.1L66.5 308.0L66.0 308.5L65.5 308.9L65.0 308.6L64.5 308.7L64.0 308.9L63.5 309.5L63.0 309.9L62.5 309.6L62.0 309.0L61.5 308.8L61.0 309.2L60.5 309.5L60.0 309.5L59.5 309.6L59.0 309.7L58.5 309.8L58.0 310.6L57.5 310.4L57.0 310.4L56.5 309.9L56.0 310.2L55.5 310.3L55.0 310.6L54.5 311.1L54.0 311.4L53.5 312.0L53.0 311.9L52.5 312.0L52.0 312.1L51.5 311.7L51.0 312.3L50.5 312.5L50.0 312.1L49.5 311.9L49.0 312.9L48.5 312.9L48.0 312.9L47.5 313.3Z" fill="#1378C8"/>
<path d="M47.6 306.6h1.5M47.6 309.8h1.5M48.1 306.3h1.5M48.2 304.8h1.5M48.4 308.9h1.5M48.6 310.1h1.5M48.7 308.2h1.5M49.0 306.4h1.5M48.8 309.1h1.5M49.3 304.3h1.5M49.5 308.3h1.5M49.3 312.8h1.5M49.8 305.7h1.5M50.0 304.7h1.5M50.7 307.1h1.5M50.6 305.4h1.5M50.7 306.5h1.5M50.9 308.4h1.5M51.2 304.7h1.5M51.2 304.3h1.5M51.2 312.6h1.5M51.6 304.7h1.5M51.5 304.7h1.5M51.7 306.9h1.5M51.9 306.4h1.5M51.9 306.6h1.5M52.1 304.4h1.5M52.6 306.2h1.5M52.4 302.6h1.5M52.8 305.0h1.5M52.9 306.4h1.5M53.2 306.9h1.5M53.7 301.4h1.5M53.4 306.8h1.5M54.2 304.1h1.5M54.1 305.2h1.5M53.8 311.7h1.5M54.3 304.7h1.5M54.4 306.1h1.5M54.8 304.7h1.5M55.0 303.5h1.5M54.8 311.6h1.5M55.7 302.4h1.5M55.4 302.6h1.5M55.3 310.4h1.5M56.2 303.4h1.5M56.1 302.6h1.5M56.6 305.7h1.5M56.5 303.8h1.5M57.1 304.8h1.5M57.1 305.8h1.5M57.5 303.0h1.5M57.7 301.6h1.5M58.1 304.9h1.5M57.8 301.3h1.5M58.4 299.7h1.5M58.7 302.8h1.5M59.0 303.7h1.5M58.9 302.5h1.5M59.6 302.1h1.5M59.7 300.7h1.5M60.0 302.3h1.5M59.8 303.8h1.5M60.1 304.3h1.5M60.3 300.9h1.5M60.7 301.8h1.5M61.1 303.1h1.5M60.8 301.8h1.5M61.2 309.3h1.5M61.3 301.1h1.5M61.4 302.7h1.5M61.9 304.9h1.5M62.2 303.8h1.5M62.7 302.5h1.5M62.3 299.2h1.5M62.8 300.3h1.5M63.2 302.6h1.5M63.3 301.4h1.5M63.4 302.9h1.5M64.2 302.0h1.5M64.1 301.1h1.5M64.4 299.8h1.5M64.3 301.0h1.5M64.9 301.7h1.5M64.9 301.2h1.5M65.5 300.5h1.5M65.4 299.8h1.5M66.1 301.6h1.5M65.9 299.0h1.5M66.6 302.6h1.5M66.7 302.4h1.5M66.9 299.8h1.5M67.2 298.0h1.5M67.5 301.7h1.5M67.5 300.6h1.5M68.0 297.2h1.5M67.9 301.7h1.5M68.7 300.1h1.5M68.7 300.8h1.5M68.5 307.3h1.5M69.2 301.7h1.5M69.2 307.3h1.5M69.4 300.9h1.5M69.7 299.5h1.5M69.8 298.0h1.5M69.8 302.3h1.5M70.5 297.7h1.5M70.3 302.2h1.5M70.4 306.3h1.5M71.0 298.9h1.5M70.8 306.2h1.5M71.6 299.9h1.5M72.0 297.2h1.5M72.1 300.4h1.5M72.4 299.9h1.5M72.7 300.0h1.5M72.3 305.6h1.5M72.9 297.4h1.5M73.2 300.2h1.5M73.4 299.6h1.5M74.2 299.2h1.5M74.0 305.3h1.5M74.5 297.9h1.5M74.6 305.3h1.5M75.1 300.5h1.5M75.1 297.7h1.5M75.5 299.1h1.5M75.6 297.0h1.5M75.8 298.1h1.5M76.1 298.3h1.5M76.5 299.7h1.5M76.4 298.6h1.5M77.1 297.4h1.5M77.0 296.9h1.5M77.5 296.9h1.5M77.3 298.3h1.5M78.1 297.7h1.5M78.1 295.9h1.5M77.9 304.2h1.5M78.3 298.2h1.5M78.5 296.1h1.5M78.9 295.6h1.5M79.0 297.8h1.5M79.4 294.4h1.5M79.5 303.4h1.5M80.0 298.7h1.5M79.9 297.0h1.5M80.6 295.9h1.5M80.7 296.1h1.5M81.0 296.2h1.5M81.1 295.4h1.5M81.5 294.1h1.5M82.2 296.7h1.5M81.9 297.7h1.5M81.8 303.2h1.5M82.3 298.0h1.5M82.6 297.7h1.5M82.6 303.1h1.5M83.1 297.9h1.5M83.0 297.1h1.5M83.5 295.4h1.5M83.5 294.5h1.5M83.8 294.0h1.5M84.7 293.5h1.5M84.5 294.3h1.5M85.1 295.2h1.5M85.5 292.8h1.5M85.3 295.6h1.5M85.4 302.4h1.5M85.8 293.5h1.5M85.8 295.1h1.5M85.9 302.2h1.5M86.3 294.1h1.5M86.5 293.6h1.5M87.1 292.6h1.5M86.9 302.0h1.5M87.5 294.5h1.5M87.6 293.0h1.5M88.0 294.1h1.5M88.6 293.8h1.5M88.5 294.5h1.5M89.0 291.1h1.5M89.3 293.1h1.5M90.1 293.1h1.5M90.7 290.2h1.5M91.0 293.1h1.5M90.8 291.6h1.5M91.6 290.2h1.5M92.2 291.6h1.5M92.3 289.9h1.5M93.0 291.5h1.5M93.4 291.5h1.5M94.1 290.9h1.5M94.4 289.1h1.5M94.9 289.8h1.5M95.3 290.7h1.5M95.8 289.6h1.5M96.2 289.4h1.5M96.6 289.0h1.5M97.2 289.1h1.5M97.7 288.5h1.5M98.0 290.0h1.5M98.1 288.6h1.5M98.6 288.6h1.5M98.6 289.8h1.5M99.2 290.0h1.5M98.8 298.0h1.5M99.6 286.1h1.5M99.6 297.8h1.5M99.9 290.8h1.5M100.2 289.3h1.5M100.4 286.9h1.5M101.2 288.5h1.5M100.8 286.4h1.5M101.5 285.6h1.5M101.5 297.3h1.5M101.8 286.9h1.5M102.6 286.9h1.5M102.7 285.8h1.5M102.8 284.5h1.5M103.4 285.8h1.5M103.5 287.9h1.5M104.1 286.8h1.5M104.2 285.8h1.5M104.3 283.5h1.5M105.0 284.2h1.5M105.3 283.5h1.5M106.2 285.9h1.5M106.2 284.9h1.5M106.6 283.9h1.5M106.8 282.4h1.5M107.5 284.5h1.5M107.7 287.3h1.5M108.1 286.8h1.5M107.8 284.9h1.5M108.5 286.1h1.5M108.9 283.7h1.5M109.2 285.2h1.5M109.4 284.9h1.5M109.7 286.5h1.5M110.2 286.9h1.5M110.1 284.7h1.5M110.3 285.6h1.5M110.5 286.7h1.5M110.8 284.3h1.5M110.9 286.0h1.5M111.2 295.9h1.5M111.6 285.1h1.5M111.5 285.8h1.5M111.8 281.5h1.5M112.0 284.5h1.5M112.1 295.3h1.5M112.7 285.3h1.5M112.4 281.9h1.5M113.1 282.1h1.5M112.8 284.5h1.5M113.5 280.7h1.5M113.6 280.3h1.5M114.0 280.0h1.5M114.6 284.6h1.5M114.5 279.9h1.5M115.1 282.3h1.5M114.9 279.7h1.5M115.5 283.8h1.5M116.1 281.6h1.5M116.2 283.8h1.5M116.4 284.8h1.5M116.4 294.3h1.5M116.9 283.3h1.5M117.2 281.2h1.5M117.2 294.0h1.5M117.4 283.2h1.5M117.7 281.5h1.5M117.3 293.9h1.5M118.1 282.4h1.5M118.0 282.3h1.5M118.3 279.0h1.5M118.4 293.9h1.5M119.1 280.9h1.5M119.5 278.2h1.5M119.4 278.7h1.5M120.2 281.6h1.5M119.8 280.9h1.5M120.2 293.0h1.5M120.4 283.2h1.5M120.7 282.7h1.5M121.1 277.7h1.5M121.2 282.8h1.5M121.5 281.4h1.5M121.6 283.0h1.5M122.2 280.1h1.5M121.9 282.3h1.5M122.6 279.1h1.5M122.6 281.9h1.5M122.5 292.4h1.5M123.2 282.4h1.5M123.0 278.2h1.5M123.7 282.0h1.5M123.6 281.8h1.5M124.2 281.5h1.5M124.0 280.2h1.5M124.3 275.3h1.5M124.3 281.3h1.5M124.3 292.4h1.5M124.9 276.3h1.5M125.1 281.8h1.5M125.7 281.1h1.5M125.4 280.6h1.5M126.0 279.8h1.5M126.0 275.5h1.5M126.0 291.5h1.5M126.4 276.6h1.5M126.4 275.2h1.5M127.0 274.6h1.5M127.0 280.3h1.5M127.6 276.6h1.5M127.5 278.0h1.5M127.9 281.1h1.5M128.1 278.1h1.5M127.9 277.5h1.5M128.5 278.7h1.5M128.3 277.2h1.5M128.8 279.7h1.5M128.9 279.5h1.5M129.0 274.3h1.5M129.5 276.4h1.5M129.6 279.6h1.5M129.7 280.6h1.5M129.9 277.4h1.5M129.8 276.9h1.5M130.4 275.8h1.5M130.7 273.1h1.5M130.9 275.8h1.5M130.8 275.8h1.5M131.5 278.4h1.5M131.5 277.3h1.5M131.7 290.6h1.5M132.1 279.0h1.5M131.9 278.7h1.5M132.4 274.1h1.5M132.3 276.8h1.5M133.1 276.8h1.5M132.9 277.8h1.5M133.5 278.7h1.5M133.3 272.9h1.5M134.2 274.2h1.5M133.8 274.8h1.5M134.7 273.8h1.5M134.6 274.7h1.5M134.8 272.5h1.5M135.2 276.6h1.5M135.3 276.7h1.5M135.4 276.8h1.5M135.4 271.6h1.5M135.8 276.5h1.5M135.9 270.5h1.5M135.8 277.0h1.5M136.5 274.1h1.5M136.5 270.5h1.5M136.9 270.9h1.5M137.2 277.3h1.5M137.3 275.3h1.5M137.3 274.4h1.5M138.1 273.3h1.5M138.2 274.8h1.5M138.3 270.5h1.5M138.5 270.2h1.5M138.8 275.0h1.5M138.8 269.2h1.5M139.1 272.2h1.5M139.7 270.2h1.5M139.7 273.7h1.5M139.9 273.5h1.5M140.0 274.1h1.5M140.3 274.3h1.5M140.6 276.2h1.5M140.4 277.3h1.5M141.1 273.2h1.5M140.8 274.0h1.5M141.4 273.0h1.5M141.5 275.8h1.5M141.5 288.7h1.5M141.8 274.3h1.5M141.8 275.9h1.5M142.3 272.3h1.5M142.3 273.0h1.5M142.9 274.5h1.5M143.2 267.9h1.5M142.8 273.6h1.5M143.4 274.4h1.5M143.4 271.6h1.5M143.7 287.6h1.5M144.2 270.3h1.5M144.1 271.7h1.5M144.6 271.3h1.5M144.5 273.9h1.5M145.0 272.7h1.5M144.9 274.6h1.5M145.7 269.8h1.5M145.4 268.1h1.5M145.7 287.8h1.5M146.1 270.4h1.5M145.9 272.7h1.5M146.7 267.7h1.5M146.5 272.9h1.5M147.0 272.2h1.5M146.8 272.9h1.5M147.6 271.9h1.5M147.7 271.1h1.5M148.2 267.9h1.5M147.9 268.9h1.5M148.2 287.3h1.5M148.4 272.2h1.5M148.3 265.9h1.5M148.6 287.4h1.5M149.2 268.4h1.5M149.0 270.7h1.5M149.4 270.1h1.5M149.4 272.3h1.5M150.1 268.9h1.5M149.9 268.6h1.5M150.0 272.4h1.5M150.0 287.1h1.5M150.3 266.1h1.5M150.7 265.1h1.5M151.1 268.7h1.5M151.0 271.2h1.5M151.6 267.2h1.5M151.4 268.5h1.5M152.2 268.6h1.5M152.0 265.9h1.5M151.9 286.5h1.5M152.4 267.7h1.5M152.5 270.7h1.5M152.5 268.6h1.5M152.9 266.7h1.5M153.2 265.8h1.5M153.7 265.8h1.5M153.5 264.3h1.5M153.4 270.2h1.5M153.9 265.7h1.5M154.2 269.5h1.5M154.0 266.4h1.5M154.0 286.1h1.5M154.3 268.2h1.5M154.5 268.2h1.5M154.5 267.4h1.5M155.1 266.7h1.5M154.8 265.4h1.5M155.1 269.6h1.5M155.0 285.8h1.5M155.6 269.8h1.5M155.6 263.0h1.5M155.3 267.2h1.5M155.9 270.5h1.5M156.1 267.7h1.5M156.5 269.0h1.5M156.3 269.5h1.5M156.6 269.9h1.5M156.5 284.9h1.5M156.9 268.0h1.5M157.0 265.5h1.5M156.8 269.8h1.5M157.1 285.4h1.5M157.5 266.3h1.5M157.4 265.0h1.5M157.7 262.0h1.5M157.5 283.9h1.5M157.9 270.4h1.5M158.0 262.3h1.5M158.3 266.5h1.5M158.5 269.2h1.5M159.0 265.2h1.5M159.2 266.0h1.5M159.0 264.5h1.5M159.7 268.2h1.5M159.5 267.1h1.5M160.0 266.0h1.5M160.2 268.4h1.5M160.2 269.3h1.5M160.2 285.1h1.5M160.3 263.2h1.5M160.3 263.2h1.5M160.3 265.0h1.5M160.8 267.1h1.5M160.9 267.0h1.5M160.8 267.3h1.5M161.6 265.0h1.5M161.4 263.5h1.5M161.6 284.6h1.5M162.1 267.5h1.5M162.2 267.4h1.5M162.2 266.5h1.5M161.9 284.0h1.5M162.7 267.2h1.5M162.3 263.5h1.5M162.3 268.2h1.5M162.3 284.6h1.5M163.0 262.7h1.5M162.8 264.3h1.5M163.2 266.9h1.5M163.2 281.9h1.5M163.5 262.1h1.5M163.3 260.0h1.5M163.4 261.8h1.5M163.9 264.6h1.5M163.8 264.9h1.5M164.6 266.1h1.5M164.5 266.3h1.5M164.6 283.1h1.5M165.1 260.7h1.5M164.9 262.3h1.5M165.4 261.3h1.5M165.6 263.8h1.5M165.7 281.7h1.5M165.8 259.9h1.5M166.0 265.4h1.5M166.1 263.8h1.5M165.8 284.0h1.5M166.3 264.9h1.5M166.4 260.9h1.5M166.4 281.9h1.5M166.8 263.1h1.5M167.1 258.7h1.5M167.0 283.0h1.5M167.7 261.5h1.5M167.6 260.5h1.5M167.6 264.2h1.5M167.4 283.6h1.5M167.9 264.1h1.5M168.2 259.6h1.5M168.1 282.2h1.5M168.5 260.2h1.5M168.6 261.3h1.5M168.3 283.7h1.5M169.0 261.2h1.5M168.8 258.3h1.5M168.8 264.6h1.5M168.9 281.4h1.5M169.7 261.7h1.5M169.5 263.1h1.5M169.4 261.1h1.5M169.3 281.6h1.5M170.2 258.2h1.5M169.9 260.3h1.5M169.8 280.9h1.5M170.6 262.7h1.5M170.4 261.5h1.5M170.6 282.5h1.5M170.6 280.0h1.5M171.2 257.5h1.5M170.9 262.0h1.5M171.1 264.7h1.5M171.0 279.7h1.5M170.9 282.2h1.5M171.5 264.1h1.5M171.7 264.3h1.5M171.5 280.8h1.5M171.9 259.5h1.5M172.1 264.5h1.5M171.8 263.8h1.5M172.2 280.3h1.5M172.5 258.8h1.5M172.6 264.1h1.5M172.5 259.3h1.5M172.6 280.5h1.5M172.8 258.7h1.5M173.0 260.2h1.5M173.0 259.5h1.5M173.0 282.4h1.5M173.7 261.1h1.5M173.4 259.5h1.5M173.6 280.4h1.5M174.0 263.3h1.5M173.9 261.0h1.5M174.1 280.4h1.5M174.5 257.6h1.5M174.6 256.3h1.5M174.7 258.8h1.5M174.5 280.6h1.5M174.7 280.5h1.5M174.8 258.0h1.5M175.0 260.8h1.5M174.9 282.6h1.5M175.3 260.4h1.5M175.5 259.0h1.5M175.7 282.4h1.5M175.7 281.9h1.5M176.0 258.2h1.5M176.1 262.0h1.5M175.9 260.2h1.5M176.1 280.6h1.5M176.4 261.0h1.5M176.7 256.2h1.5M176.4 261.7h1.5M176.6 280.6h1.5M176.4 279.2h1.5M177.1 262.0h1.5M177.1 257.0h1.5M177.2 278.5h1.5M177.1 279.4h1.5M177.3 261.6h1.5M177.7 261.4h1.5M177.7 280.1h1.5M178.0 261.6h1.5M178.0 255.5h1.5M178.2 278.5h1.5M178.1 277.7h1.5M178.6 262.2h1.5M178.6 260.8h1.5M178.6 278.7h1.5M178.4 279.7h1.5M179.1 258.9h1.5M179.2 255.7h1.5M179.0 261.7h1.5M178.8 278.1h1.5M178.9 278.6h1.5M179.4 261.4h1.5M179.3 257.7h1.5M179.7 257.9h1.5M179.3 278.1h1.5M180.2 261.4h1.5M180.1 261.7h1.5M179.8 260.6h1.5M180.1 278.1h1.5M179.9 278.6h1.5M180.7 256.4h1.5M180.6 261.0h1.5M180.6 260.4h1.5M180.3 280.7h1.5M181.1 260.3h1.5M180.8 255.8h1.5M180.8 278.2h1.5M181.2 277.9h1.5M181.4 260.5h1.5M181.4 260.1h1.5M181.5 259.0h1.5M181.5 276.3h1.5M181.7 281.4h1.5M181.8 259.2h1.5M182.2 259.6h1.5M181.8 276.7h1.5M181.8 277.9h1.5M182.4 259.9h1.5M182.3 260.2h1.5M182.3 277.3h1.5M182.5 280.7h1.5M183.2 256.8h1.5M183.1 258.5h1.5M183.1 259.2h1.5M183.1 276.7h1.5M183.0 276.9h1.5M183.7 256.9h1.5M183.5 257.5h1.5M183.5 278.9h1.5M183.6 278.2h1.5M183.9 256.6h1.5M183.8 255.8h1.5M183.8 256.1h1.5M184.2 277.6h1.5M183.8 277.7h1.5M184.2 279.8h1.5M184.3 256.3h1.5M184.3 258.8h1.5M184.6 279.7h1.5M184.6 280.1h1.5M184.9 258.9h1.5M185.1 257.6h1.5M184.8 275.4h1.5M185.0 276.5h1.5M185.7 256.3h1.5M185.3 258.6h1.5M185.6 274.9h1.5M185.6 280.0h1.5M186.0 257.8h1.5M186.1 257.3h1.5M185.9 275.7h1.5M186.1 276.0h1.5M186.4 257.2h1.5M186.4 258.5h1.5M186.5 255.8h1.5M186.4 277.5h1.5M186.6 275.9h1.5M186.8 256.3h1.5M186.9 256.8h1.5M187.2 276.6h1.5M187.0 277.8h1.5M187.3 257.2h1.5M187.5 256.2h1.5M187.6 279.2h1.5M187.4 276.7h1.5M187.4 277.7h1.5M187.9 256.6h1.5M187.9 252.9h1.5M187.8 256.0h1.5M187.8 277.2h1.5M187.8 274.7h1.5M188.3 258.2h1.5M188.5 256.9h1.5M188.6 275.6h1.5M188.5 277.3h1.5M189.0 254.6h1.5M189.1 257.2h1.5M189.0 276.8h1.5M188.9 277.4h1.5M189.6 253.1h1.5M189.5 257.9h1.5M189.3 276.7h1.5M189.7 276.4h1.5M189.8 255.7h1.5M190.0 256.0h1.5M189.9 277.7h1.5M190.0 278.6h1.5M190.4 255.6h1.5M190.7 255.2h1.5M190.5 275.6h1.5M190.3 276.1h1.5M190.9 253.3h1.5M191.0 254.9h1.5M191.1 274.4h1.5M190.8 278.9h1.5M191.4 256.1h1.5M191.6 255.5h1.5M191.5 273.8h1.5M191.6 273.3h1.5M192.1 256.6h1.5M192.2 253.3h1.5M192.2 273.4h1.5M192.0 273.4h1.5M192.0 274.7h1.5M192.6 256.1h1.5M192.7 255.2h1.5M192.4 275.2h1.5M192.6 273.2h1.5M192.7 274.2h1.5M193.1 251.9h1.5M193.0 276.9h1.5M193.1 275.4h1.5M193.3 254.2h1.5M193.7 276.1h1.5M193.4 275.7h1.5M193.8 252.0h1.5M193.8 251.9h1.5M193.9 275.5h1.5M194.2 276.6h1.5M194.4 254.7h1.5M194.3 276.9h1.5M194.7 278.4h1.5M194.9 253.7h1.5M194.8 276.5h1.5M195.1 273.0h1.5M195.4 254.2h1.5M195.4 253.7h1.5M195.5 276.3h1.5M195.3 273.5h1.5M195.8 253.8h1.5M196.1 272.4h1.5M195.9 277.5h1.5M196.7 252.1h1.5M196.3 273.4h1.5M196.4 273.2h1.5M197.1 254.0h1.5M197.0 278.2h1.5M197.2 275.3h1.5M197.7 252.0h1.5M197.7 274.2h1.5M197.7 277.5h1.5M197.7 272.2h1.5M198.2 252.8h1.5M197.9 276.2h1.5M197.9 273.1h1.5M198.5 251.1h1.5M198.7 272.9h1.5M198.4 275.6h1.5M199.0 252.1h1.5M199.1 272.3h1.5M198.9 274.8h1.5M199.4 250.2h1.5M199.5 271.7h1.5M199.6 276.4h1.5M200.2 250.7h1.5M200.0 275.3h1.5M200.1 276.6h1.5M200.2 272.4h1.5M200.4 252.3h1.5M200.7 273.2h1.5M200.5 272.2h1.5M201.1 251.8h1.5M201.1 273.4h1.5M201.1 271.4h1.5M200.8 270.8h1.5M201.3 250.7h1.5M201.7 275.1h1.5M201.3 272.0h1.5M201.5 272.6h1.5M202.2 251.0h1.5M201.9 275.8h1.5M201.9 272.4h1.5M202.3 270.8h1.5M202.4 273.6h1.5M203.2 249.2h1.5M202.8 271.4h1.5M203.0 276.0h1.5M203.3 249.7h1.5M203.6 272.3h1.5M203.6 271.5h1.5M203.9 251.3h1.5M204.1 270.3h1.5M204.2 270.2h1.5M203.9 270.3h1.5M204.4 251.2h1.5M204.6 270.4h1.5M204.5 270.4h1.5M204.8 249.3h1.5M205.1 273.3h1.5M204.9 271.9h1.5M205.5 248.6h1.5M205.6 273.9h1.5M205.4 271.9h1.5M205.8 248.8h1.5M205.8 274.1h1.5M205.8 271.2h1.5M206.3 248.5h1.5M206.7 273.3h1.5M206.6 271.3h1.5M207.0 248.9h1.5M207.2 271.9h1.5M207.2 273.1h1.5M207.2 271.9h1.5M207.5 273.9h1.5M207.4 271.2h1.5M207.9 271.3h1.5M207.8 273.3h1.5M208.5 249.7h1.5M208.5 272.0h1.5M208.4 269.5h1.5M208.8 249.5h1.5M208.9 271.1h1.5M208.9 269.6h1.5M209.5 274.6h1.5M209.3 270.7h1.5M209.9 248.3h1.5M209.8 271.1h1.5M210.2 271.4h1.5M209.9 272.5h1.5M210.4 247.3h1.5M210.6 272.6h1.5M210.6 274.1h1.5M210.7 271.5h1.5M210.8 249.0h1.5M211.1 273.9h1.5M210.8 274.2h1.5M211.6 247.7h1.5M211.3 272.5h1.5M211.4 273.4h1.5M211.4 269.9h1.5M212.2 248.0h1.5M212.2 269.4h1.5M211.8 272.6h1.5M212.0 273.7h1.5M212.3 246.9h1.5M212.3 272.1h1.5M212.4 273.1h1.5M213.1 248.0h1.5M213.1 271.4h1.5M213.1 271.1h1.5M213.6 246.8h1.5M213.6 269.3h1.5M213.4 270.8h1.5M213.3 272.0h1.5M214.0 246.8h1.5M214.0 269.8h1.5M213.9 268.4h1.5M214.2 271.2h1.5M214.4 248.0h1.5M214.6 270.3h1.5M214.4 268.6h1.5M215.0 247.0h1.5M215.1 269.0h1.5M215.0 270.2h1.5M214.8 270.9h1.5M215.6 248.6h1.5M215.3 267.6h1.5M215.3 271.4h1.5M215.8 248.1h1.5M215.9 270.0h1.5M215.8 270.0h1.5M216.0 269.3h1.5M216.3 248.6h1.5M216.3 268.9h1.5M216.3 267.4h1.5M216.5 270.0h1.5M217.2 248.4h1.5M217.0 273.0h1.5M217.1 270.9h1.5M217.5 248.0h1.5M217.4 266.9h1.5M217.5 268.7h1.5M217.8 267.9h1.5M218.1 272.7h1.5M218.2 273.2h1.5M218.7 246.6h1.5M218.4 265.8h1.5M218.7 268.9h1.5M218.4 266.5h1.5M218.9 247.3h1.5M219.1 266.2h1.5M219.1 266.0h1.5M219.0 265.6h1.5M219.6 247.4h1.5M219.7 267.6h1.5M219.5 268.1h1.5M219.6 265.9h1.5M219.9 245.3h1.5M220.2 271.0h1.5M219.9 266.8h1.5M220.2 268.6h1.5M220.5 246.5h1.5M220.4 267.7h1.5M220.4 268.0h1.5M220.7 267.7h1.5M221.2 245.3h1.5M221.1 265.4h1.5M221.2 269.2h1.5M220.8 268.7h1.5M221.7 245.4h1.5M221.6 268.8h1.5M221.6 267.3h1.5M222.0 266.8h1.5M221.9 268.8h1.5M222.0 267.5h1.5M222.3 244.9h1.5M222.6 270.1h1.5M222.4 265.9h1.5M222.3 265.6h1.5M223.2 268.3h1.5M222.9 266.5h1.5M223.7 245.4h1.5M223.7 267.9h1.5M223.3 267.0h1.5M223.7 268.0h1.5M224.2 245.7h1.5M224.1 265.4h1.5M223.8 267.2h1.5M224.4 245.3h1.5M224.7 264.7h1.5M224.4 271.2h1.5M224.3 270.0h1.5M225.1 245.8h1.5M225.2 268.6h1.5M224.9 268.9h1.5M225.2 269.1h1.5M225.5 243.5h1.5M225.5 268.2h1.5M225.7 265.2h1.5M225.3 265.3h1.5M226.0 244.8h1.5M225.8 246.4h1.5M226.2 264.1h1.5M226.2 263.7h1.5M226.5 245.9h1.5M226.3 265.2h1.5M226.3 266.6h1.5M226.4 263.7h1.5M227.1 243.5h1.5M227.0 245.5h1.5M227.0 269.2h1.5M226.9 269.2h1.5M227.1 263.9h1.5M227.3 245.1h1.5M227.5 245.0h1.5M227.5 265.4h1.5M227.7 267.8h1.5M227.3 263.6h1.5M228.2 244.0h1.5M228.1 263.4h1.5M228.1 264.5h1.5M228.0 265.0h1.5M228.6 244.8h1.5M228.5 268.7h1.5M228.4 267.0h1.5M228.6 266.7h1.5M229.0 244.7h1.5M229.1 269.8h1.5M228.8 265.1h1.5M228.8 263.3h1.5M229.4 245.0h1.5M229.5 266.8h1.5M229.5 268.7h1.5M229.4 262.6h1.5M230.2 244.5h1.5M229.9 264.2h1.5M230.2 264.5h1.5M230.2 266.6h1.5M230.5 243.3h1.5M230.4 268.1h1.5M230.7 268.9h1.5M231.0 244.4h1.5M231.0 245.2h1.5M230.8 264.1h1.5M231.2 269.5h1.5M231.5 243.9h1.5M231.5 262.8h1.5M231.7 262.3h1.5M231.8 244.1h1.5M231.8 244.2h1.5M232.2 263.5h1.5M232.1 261.8h1.5M232.2 261.6h1.5M232.4 243.1h1.5M232.3 264.6h1.5M232.6 261.3h1.5M232.3 261.2h1.5M232.8 244.7h1.5M232.9 263.9h1.5M233.0 265.4h1.5M232.9 268.9h1.5M233.4 242.2h1.5M233.6 262.0h1.5M233.7 268.7h1.5M233.5 261.2h1.5M233.8 242.4h1.5M234.0 265.1h1.5M233.9 260.9h1.5M234.0 264.1h1.5M234.4 243.0h1.5M234.4 260.9h1.5M234.5 266.1h1.5M234.4 265.3h1.5M235.1 243.0h1.5M235.2 261.0h1.5M235.1 267.2h1.5M235.2 263.0h1.5M235.6 242.7h1.5M235.4 263.3h1.5M235.3 261.5h1.5M235.3 266.5h1.5M236.0 243.1h1.5M236.0 261.8h1.5M235.8 263.0h1.5M235.8 261.1h1.5M236.4 242.7h1.5M236.7 266.5h1.5M236.7 261.8h1.5M236.5 264.3h1.5M237.1 243.7h1.5M237.0 262.9h1.5M236.8 263.6h1.5M237.0 260.4h1.5M237.4 242.2h1.5M237.6 265.3h1.5M237.7 265.0h1.5M237.3 260.8h1.5M237.8 242.7h1.5M237.8 263.6h1.5M238.2 260.3h1.5M238.1 261.9h1.5M238.5 242.2h1.5M238.3 261.3h1.5M238.7 260.9h1.5M238.3 264.6h1.5M239.0 242.4h1.5M238.8 259.6h1.5M239.0 262.2h1.5M239.4 242.1h1.5M239.5 261.6h1.5M239.3 264.8h1.5M239.5 266.5h1.5M240.1 242.1h1.5M239.8 261.8h1.5M239.8 259.5h1.5M240.0 259.7h1.5M240.6 241.3h1.5M240.6 259.1h1.5M240.7 259.5h1.5M241.1 262.8h1.5M240.9 260.6h1.5M241.6 241.4h1.5M241.7 258.9h1.5M241.6 261.3h1.5M242.2 241.4h1.5M241.8 260.5h1.5M242.0 258.9h1.5M241.8 260.8h1.5M242.4 241.6h1.5M242.5 261.9h1.5M242.4 260.3h1.5M242.4 258.4h1.5M243.1 239.6h1.5M242.8 258.3h1.5M243.2 260.5h1.5M242.8 263.4h1.5M243.6 241.2h1.5M243.6 258.8h1.5M243.4 259.4h1.5M243.4 258.1h1.5M243.8 240.0h1.5M244.1 264.6h1.5M243.8 260.0h1.5M244.2 261.3h1.5M244.4 240.1h1.5M244.4 258.3h1.5M244.4 261.9h1.5M244.4 263.8h1.5M245.1 259.9h1.5M244.8 259.7h1.5M245.1 261.6h1.5M245.3 238.9h1.5M245.4 259.5h1.5M245.4 262.4h1.5M245.7 261.8h1.5M246.0 261.6h1.5M246.2 257.4h1.5M245.8 262.5h1.5M246.5 261.6h1.5M246.5 256.4h1.5M246.6 261.3h1.5M247.1 258.7h1.5M247.2 260.1h1.5M247.2 262.2h1.5M247.5 239.2h1.5M247.6 257.6h1.5M247.7 257.4h1.5M247.3 256.2h1.5M248.2 238.2h1.5M248.1 257.9h1.5M248.0 261.6h1.5M248.0 258.8h1.5M248.4 239.4h1.5M248.5 262.5h1.5M248.4 259.8h1.5M248.7 257.1h1.5M248.9 239.7h1.5M248.9 258.5h1.5M249.2 258.0h1.5M249.4 239.5h1.5M249.3 261.5h1.5M249.4 258.4h1.5M249.3 260.2h1.5M249.9 239.8h1.5M250.2 239.2h1.5M249.9 257.1h1.5M250.1 261.2h1.5M250.7 238.4h1.5M250.5 258.9h1.5M250.3 258.4h1.5M250.7 257.7h1.5M251.0 239.4h1.5M251.2 239.3h1.5M251.2 262.3h1.5M250.9 261.8h1.5M251.6 238.7h1.5M251.4 257.3h1.5M251.4 257.3h1.5M252.2 240.0h1.5M252.1 238.8h1.5M251.9 256.3h1.5M251.9 256.8h1.5M252.0 258.4h1.5M252.5 238.7h1.5M252.7 255.4h1.5M252.4 259.7h1.5M252.3 255.1h1.5M252.8 239.1h1.5M252.8 255.3h1.5M253.0 261.4h1.5M253.6 237.3h1.5M253.6 256.4h1.5M253.4 259.4h1.5M253.7 254.7h1.5M253.9 239.2h1.5M253.9 259.6h1.5M254.2 254.2h1.5M253.9 257.5h1.5M254.7 237.5h1.5M254.6 259.1h1.5M254.4 256.8h1.5M254.5 259.5h1.5M255.0 238.2h1.5M255.1 258.3h1.5M254.9 258.2h1.5M254.8 256.5h1.5M255.6 238.5h1.5M255.7 255.7h1.5M255.4 257.0h1.5M255.7 258.9h1.5M255.9 238.0h1.5M256.2 256.5h1.5M256.2 253.3h1.5M256.1 253.3h1.5M256.3 238.4h1.5M256.3 253.3h1.5M256.3 254.3h1.5M256.6 253.1h1.5M256.8 236.5h1.5M256.8 252.5h1.5M257.0 252.5h1.5M257.2 252.8h1.5M257.7 254.6h1.5M257.6 257.5h1.5M257.6 258.8h1.5M257.8 236.8h1.5M258.0 253.1h1.5M257.9 254.4h1.5M258.2 258.7h1.5M258.6 237.5h1.5M258.7 253.1h1.5M258.4 253.3h1.5M258.9 237.3h1.5M259.2 253.5h1.5M258.9 258.0h1.5M258.9 254.8h1.5M259.6 237.6h1.5M259.5 253.3h1.5M259.3 256.7h1.5M259.9 237.9h1.5M260.2 252.5h1.5M260.1 253.5h1.5M260.2 255.0h1.5M260.7 237.3h1.5M260.4 253.5h1.5M260.5 251.7h1.5M260.6 258.4h1.5M261.2 235.4h1.5M261.0 253.6h1.5M261.2 253.8h1.5M260.8 252.3h1.5M261.3 236.5h1.5M261.7 255.2h1.5M261.6 256.0h1.5M262.2 254.1h1.5M261.8 251.4h1.5M262.3 257.6h1.5M262.7 253.0h1.5M262.3 252.7h1.5M262.9 235.9h1.5M263.0 254.9h1.5M263.0 256.5h1.5M263.6 235.8h1.5M263.4 251.7h1.5M263.5 254.6h1.5M264.2 235.9h1.5M264.1 254.5h1.5M264.0 255.5h1.5M264.7 235.6h1.5M264.4 254.7h1.5M264.7 253.2h1.5M265.2 235.5h1.5M265.0 251.5h1.5M264.8 250.9h1.5M265.0 256.2h1.5M265.4 252.2h1.5M265.3 251.1h1.5M266.2 235.0h1.5M265.8 253.9h1.5M266.1 254.7h1.5M266.5 249.2h1.5M266.4 253.5h1.5M266.6 253.2h1.5M267.0 234.4h1.5M267.0 255.0h1.5M266.9 251.0h1.5M267.2 249.8h1.5M267.7 252.4h1.5M267.5 249.1h1.5M267.9 234.8h1.5M268.2 254.3h1.5M268.0 250.9h1.5M268.4 249.6h1.5M268.5 252.8h1.5M268.3 250.0h1.5M269.0 233.5h1.5M268.8 250.3h1.5M269.0 249.4h1.5M269.3 251.1h1.5M269.7 249.3h1.5M269.8 251.5h1.5M269.8 250.9h1.5M270.4 253.5h1.5M270.4 249.8h1.5M271.0 251.0h1.5M270.9 253.3h1.5M271.4 233.8h1.5M271.4 250.1h1.5M271.7 252.9h1.5M272.1 232.9h1.5M271.8 250.8h1.5M272.1 250.3h1.5M272.5 233.5h1.5M272.7 250.6h1.5M272.4 250.5h1.5M273.2 233.7h1.5M273.2 251.4h1.5M273.1 249.2h1.5M273.6 247.5h1.5M273.5 249.9h1.5M273.6 249.5h1.5M273.9 233.3h1.5M273.9 250.2h1.5M274.1 248.9h1.5M274.5 233.1h1.5M274.5 247.6h1.5M274.4 246.8h1.5M274.3 247.5h1.5M274.8 232.8h1.5M274.9 249.4h1.5M275.0 247.9h1.5M275.6 249.2h1.5M275.5 248.3h1.5M275.6 247.3h1.5M276.0 232.2h1.5M275.9 248.8h1.5M276.2 251.7h1.5M276.5 233.4h1.5M276.5 246.5h1.5M276.4 245.9h1.5M276.3 250.1h1.5M277.1 232.0h1.5M277.1 246.3h1.5M277.2 248.1h1.5M277.0 246.2h1.5M277.3 233.7h1.5M277.4 245.6h1.5M277.3 247.7h1.5M277.8 231.8h1.5M277.9 247.9h1.5M277.9 245.3h1.5M278.3 246.3h1.5M278.5 244.9h1.5M278.7 248.1h1.5M279.2 231.2h1.5M279.2 248.0h1.5M279.1 246.2h1.5M279.6 232.2h1.5M279.3 246.0h1.5M279.6 244.9h1.5M279.9 230.9h1.5M279.9 248.6h1.5M280.2 249.4h1.5M279.9 244.7h1.5M280.7 232.3h1.5M280.5 246.0h1.5M280.4 245.5h1.5M281.1 246.6h1.5M281.0 246.5h1.5M281.6 230.6h1.5M281.6 248.8h1.5M281.3 248.0h1.5M282.2 230.8h1.5M281.9 248.4h1.5M282.2 244.8h1.5M282.7 231.6h1.5M282.6 246.4h1.5M282.3 243.8h1.5M282.8 231.0h1.5M283.0 245.4h1.5M283.0 247.3h1.5M283.4 230.7h1.5M283.3 248.7h1.5M283.7 245.7h1.5M283.9 231.2h1.5M284.0 246.8h1.5M283.8 247.4h1.5M284.3 244.5h1.5M284.3 247.9h1.5M285.1 230.6h1.5M284.9 242.7h1.5M285.0 244.7h1.5M285.4 231.2h1.5M285.4 243.4h1.5M285.4 245.4h1.5M286.1 230.3h1.5M285.8 243.2h1.5M286.6 230.5h1.5M286.4 246.9h1.5M286.3 242.4h1.5M286.8 243.0h1.5M287.3 229.2h1.5M287.5 245.3h1.5M287.5 243.5h1.5M287.9 245.9h1.5M287.8 243.1h1.5M288.6 229.7h1.5M288.5 242.9h1.5M288.6 243.1h1.5M289.1 244.8h1.5M288.8 242.1h1.5M289.4 244.1h1.5M289.9 229.2h1.5M290.2 242.8h1.5M290.0 243.3h1.5M290.6 229.2h1.5M290.7 244.0h1.5M290.3 242.9h1.5M291.2 229.6h1.5M291.0 244.5h1.5M290.9 245.4h1.5M291.6 229.2h1.5M291.3 244.3h1.5M291.7 243.6h1.5M291.9 245.1h1.5M292.0 244.2h1.5M292.4 241.0h1.5M292.3 241.9h1.5M292.8 241.6h1.5M293.4 240.8h1.5M293.8 241.4h1.5M293.8 241.8h1.5M294.5 244.1h1.5M294.5 241.7h1.5M295.2 240.2h1.5M294.9 244.1h1.5M295.3 240.0h1.5M295.5 240.0h1.5M295.8 239.5h1.5M295.9 240.3h1.5M296.7 240.8h1.5M296.4 241.1h1.5M296.9 238.2h1.5M297.2 239.2h1.5M297.7 238.4h1.5M297.7 240.8h1.5M298.0 238.8h1.5M298.5 227.4h1.5M298.5 239.2h1.5M299.0 240.5h1.5M299.1 239.7h1.5M299.3 239.6h1.5M300.2 238.9h1.5M300.5 241.4h1.5M301.0 241.3h1.5M301.7 239.5h1.5M301.5 242.3h1.5M302.2 238.8h1.5M302.7 239.4h1.5M302.8 241.1h1.5M303.6 238.5h1.5M304.7 226.9h1.5M304.7 238.5h1.5M304.8 237.7h1.5M305.4 240.5h1.5M306.1 227.9h1.5M305.8 239.9h1.5M306.6 226.3h1.5M306.3 237.6h1.5M307.2 238.5h1.5M307.2 239.5h1.5M307.5 238.0h1.5M307.4 239.8h1.5M308.2 240.1h1.5M308.4 239.3h1.5M308.9 239.2h1.5M309.6 235.5h1.5M309.9 225.0h1.5M309.9 238.5h1.5M310.3 236.4h1.5M310.9 235.9h1.5M311.3 237.8h1.5M312.1 237.6h1.5M312.4 235.7h1.5M313.4 225.6h1.5M313.6 237.2h1.5M313.9 225.1h1.5M314.0 235.3h1.5M314.5 236.6h1.5M315.1 235.2h1.5M315.4 236.7h1.5M316.2 234.1h1.5M316.6 234.5h1.5M316.9 223.9h1.5M317.0 233.5h1.5M317.9 234.4h1.5M318.6 232.8h1.5M319.0 233.3h1.5M320.1 232.1h1.5M320.6 232.6h1.5M320.8 232.9h1.5M322.2 232.3h1.5M322.4 232.5h1.5M323.9 222.3h1.5M324.5 231.8h1.5M325.5 231.3h1.5M326.2 229.6h1.5M326.8 229.8h1.5M328.4 229.3h1.5M331.2 227.5h1.5M333.6 221.5h1.5" stroke="#2277B8" stroke-width="1.5" stroke-opacity="0.85" fill="none"/>
<path d="M47.7 302.9h1.5M48.3 301.9h1.5M50.9 301.9h1.5M52.0 313.2h1.5M53.6 300.3h1.5M54.1 300.0h1.5M56.8 300.0h1.5M61.5 298.2h1.5M64.0 297.8h1.5M64.5 296.6h1.5M65.6 296.0h1.5M66.4 295.5h1.5M68.9 294.7h1.5M73.0 294.4h1.5M76.8 305.3h1.5M77.3 293.8h1.5M78.0 294.1h1.5M78.4 304.7h1.5M78.8 293.1h1.5M81.4 289.2h1.5M82.4 292.7h1.5M83.4 288.7h1.5M84.6 290.0h1.5M85.2 287.1h1.5M86.2 288.8h1.5M86.5 286.5h1.5M87.0 285.7h1.5M92.2 285.8h1.5M92.5 287.1h1.5M93.6 285.8h1.5M95.0 280.5h1.5M98.5 279.6h1.5M99.3 281.4h1.5M102.6 280.7h1.5M102.7 298.3h1.5M103.7 281.2h1.5M104.9 280.1h1.5M105.9 280.7h1.5M107.2 280.0h1.5M107.6 281.8h1.5M109.7 280.0h1.5M109.8 278.8h1.5M110.2 296.8h1.5M113.1 272.6h1.5M113.9 277.8h1.5M114.7 273.7h1.5M119.4 272.2h1.5M120.6 275.8h1.5M121.0 268.1h1.5M122.8 275.8h1.5M124.2 272.3h1.5M125.0 270.7h1.5M126.3 271.0h1.5M127.1 271.8h1.5M127.5 273.3h1.5M127.8 268.6h1.5M130.4 266.2h1.5M131.0 264.4h1.5M131.9 263.3h1.5M132.7 271.1h1.5M133.7 267.3h1.5M134.2 267.8h1.5M134.6 291.5h1.5M135.7 267.5h1.5M136.0 265.9h1.5M136.6 268.6h1.5M136.9 261.1h1.5M138.4 267.7h1.5M140.0 289.9h1.5M140.6 261.8h1.5M141.5 264.1h1.5M142.0 267.7h1.5M142.3 266.9h1.5M142.9 259.9h1.5M143.5 261.5h1.5M144.5 264.1h1.5M146.1 265.3h1.5M146.6 288.6h1.5M146.9 262.2h1.5M148.3 264.1h1.5M150.2 257.7h1.5M150.7 255.7h1.5M151.1 264.1h1.5M152.0 261.8h1.5M151.9 287.0h1.5M152.7 259.6h1.5M153.1 287.6h1.5M153.7 259.6h1.5M156.0 255.3h1.5M158.1 257.8h1.5M157.8 286.9h1.5M159.1 256.5h1.5M159.5 255.2h1.5M160.8 258.2h1.5M162.2 258.6h1.5M162.5 258.5h1.5M163.2 256.7h1.5M163.6 258.9h1.5M164.2 258.3h1.5M165.1 285.3h1.5M165.4 284.5h1.5M166.4 253.1h1.5M166.4 285.6h1.5M167.7 285.0h1.5M168.9 253.2h1.5M169.3 252.8h1.5M169.7 285.8h1.5M170.1 285.5h1.5M171.9 254.7h1.5M173.7 252.8h1.5M173.9 285.4h1.5M174.8 251.1h1.5M174.8 283.7h1.5M177.3 253.6h1.5M178.5 252.9h1.5M179.1 283.9h1.5M179.5 253.7h1.5M180.5 251.0h1.5M183.2 250.0h1.5M183.9 252.8h1.5M185.0 284.1h1.5M185.7 250.8h1.5M185.6 282.4h1.5M186.2 250.1h1.5M186.3 252.7h1.5M186.5 282.3h1.5M187.2 251.2h1.5M188.7 250.7h1.5M189.6 248.4h1.5M189.3 282.3h1.5M190.3 250.9h1.5M190.9 248.7h1.5M192.1 247.9h1.5M192.1 281.0h1.5M192.5 279.6h1.5M193.0 281.5h1.5M193.8 280.6h1.5M194.4 248.2h1.5M195.4 282.5h1.5M196.8 279.4h1.5M198.0 280.8h1.5M198.8 248.3h1.5M199.5 278.0h1.5M200.2 281.5h1.5M200.3 247.9h1.5M201.1 246.2h1.5M203.2 280.7h1.5M203.6 248.3h1.5M205.2 246.4h1.5M206.5 276.4h1.5M208.2 277.9h1.5M210.1 275.7h1.5M211.0 277.3h1.5M211.8 245.3h1.5M211.9 277.3h1.5M212.4 279.4h1.5M213.9 245.8h1.5M214.8 242.8h1.5M215.1 275.2h1.5M215.9 273.8h1.5M216.7 244.1h1.5M217.1 276.2h1.5M217.6 274.1h1.5M218.7 243.8h1.5M218.5 273.8h1.5M220.3 273.7h1.5M222.5 275.2h1.5M225.3 274.9h1.5M226.0 273.0h1.5M228.6 242.5h1.5M229.1 275.8h1.5M229.7 275.1h1.5M229.9 275.8h1.5M231.6 270.4h1.5M231.9 274.2h1.5M232.3 273.5h1.5M233.9 240.2h1.5M234.0 272.5h1.5M235.4 268.7h1.5M236.2 238.7h1.5M236.6 239.7h1.5M238.2 268.7h1.5M239.5 268.4h1.5M240.6 270.4h1.5M240.8 267.3h1.5M241.6 239.5h1.5M243.0 268.6h1.5M243.5 269.1h1.5M244.0 269.5h1.5M245.7 265.1h1.5M246.2 268.8h1.5M247.0 265.6h1.5M247.6 236.2h1.5M247.7 270.2h1.5M248.8 236.2h1.5M249.6 265.8h1.5M250.0 235.9h1.5M250.6 269.7h1.5M251.0 265.8h1.5M252.1 267.2h1.5M252.7 236.8h1.5M253.2 266.6h1.5M253.7 266.9h1.5M254.4 266.5h1.5M254.8 269.2h1.5M255.6 263.3h1.5M256.7 262.4h1.5M256.9 264.6h1.5M257.3 235.2h1.5M257.7 260.8h1.5M261.2 265.4h1.5M261.3 259.1h1.5M261.9 234.2h1.5M262.2 267.4h1.5M263.2 262.4h1.5M264.5 264.8h1.5M265.5 265.2h1.5M266.1 259.4h1.5M267.8 255.6h1.5M268.6 260.2h1.5M269.2 259.9h1.5M270.1 260.2h1.5M270.5 258.4h1.5M270.9 256.3h1.5M271.5 257.4h1.5M272.1 257.5h1.5M272.4 253.9h1.5M273.3 254.9h1.5M273.9 255.5h1.5M274.4 260.7h1.5M275.4 262.4h1.5M276.1 253.2h1.5M279.1 250.8h1.5M279.7 229.3h1.5M280.0 259.2h1.5M280.5 256.1h1.5M281.0 256.4h1.5M281.6 230.0h1.5M281.6 255.8h1.5M281.9 258.2h1.5M284.2 256.9h1.5M284.3 251.2h1.5M284.9 251.1h1.5M285.7 227.7h1.5M285.5 258.4h1.5M285.9 252.4h1.5M286.6 258.7h1.5M287.0 228.0h1.5M287.0 250.2h1.5M287.6 254.0h1.5M287.8 258.2h1.5M288.6 228.5h1.5M288.4 253.0h1.5M288.9 253.9h1.5M289.4 246.6h1.5M289.8 246.4h1.5M290.7 251.4h1.5M291.2 248.4h1.5M291.6 226.7h1.5M291.4 254.5h1.5M292.5 253.3h1.5M293.1 245.6h1.5M293.4 246.1h1.5M294.0 227.4h1.5M294.1 245.9h1.5M294.3 226.2h1.5M294.8 244.9h1.5M295.7 246.6h1.5M295.9 250.1h1.5M296.8 249.3h1.5M298.3 248.7h1.5M299.7 247.6h1.5M300.1 246.7h1.5M301.2 243.2h1.5M302.0 242.4h1.5M302.4 243.1h1.5M303.4 246.5h1.5M304.0 244.7h1.5M304.6 245.5h1.5M305.7 243.7h1.5M308.0 246.4h1.5M308.5 241.5h1.5M309.9 240.5h1.5M311.2 242.5h1.5M314.2 240.5h1.5M314.6 238.1h1.5M316.0 237.8h1.5M319.6 235.0h1.5M322.6 233.1h1.5M328.7 229.7h1.5M332.3 227.1h1.5" stroke="#3579A3" stroke-width="1.5" stroke-opacity="0.85" fill="none"/>
<path d="M48.5 312.3L330.3 225.0" stroke="#000" stroke-width="1.8"/>
<path d="M30.0 201.0V333.5H361.0" fill="none" stroke="#737373" stroke-width="1"/>
<path d="M30.0 333.5h3.3M30.0 307.0h3.3M30.0 280.5h3.3M30.0 254.0h3.3M30.0 227.5h3.3M30.0 201.0h3.3M30.00 333.5v-3.3M71.38 333.5v-3.3M112.75 333.5v-3.3M154.12 333.5v-3.3M195.50 333.5v-3.3M236.88 333.5v-3.3M278.25 333.5v-3.3M319.62 333.5v-3.3M361.00 333.5v-3.3" stroke="#737373" stroke-width="1"/>
<text transform="translate(26.8 336.9) scale(.95 1.15)" text-anchor="end" class="tk">-20</text>
<text transform="translate(26.8 310.4) scale(.95 1.15)" text-anchor="end" class="tk">0</text>
<text transform="translate(26.8 283.9) scale(.95 1.15)" text-anchor="end" class="tk">20</text>
<text transform="translate(26.8 257.4) scale(.95 1.15)" text-anchor="end" class="tk">40</text>
<text transform="translate(26.8 230.9) scale(.95 1.15)" text-anchor="end" class="tk">60</text>
<text transform="translate(26.8 204.4) scale(.95 1.15)" text-anchor="end" class="tk">80</text>
<text transform="translate(30.00 344.3) scale(.95 1.15)" text-anchor="middle" class="tk">-10</text>
<text transform="translate(71.38 344.3) scale(.95 1.15)" text-anchor="middle" class="tk">0</text>
<text transform="translate(112.75 344.3) scale(.95 1.15)" text-anchor="middle" class="tk">10</text>
<text transform="translate(154.12 344.3) scale(.95 1.15)" text-anchor="middle" class="tk">20</text>
<text transform="translate(195.50 344.3) scale(.95 1.15)" text-anchor="middle" class="tk">30</text>
<text transform="translate(236.88 344.3) scale(.95 1.15)" text-anchor="middle" class="tk">40</text>
<text transform="translate(278.25 344.3) scale(.95 1.15)" text-anchor="middle" class="tk">50</text>
<text transform="translate(319.62 344.3) scale(.95 1.15)" text-anchor="middle" class="tk">60</text>
<text transform="translate(361.00 344.3) scale(.95 1.15)" text-anchor="middle" class="tk">70</text>
<text x="194.9" y="197.8" text-anchor="middle" class="ti">Air-chamber ambient temperature</text>
<text x="195.1" y="358.6" text-anchor="middle" class="lb">Experimental Tm (°C)</text>
<text transform="translate(11.2 267.2) rotate(-90)" text-anchor="middle" class="lb">Modeled Tm (°C)</text>
<path d="M50.0 513.0L50.5 513.1L51.0 512.4L51.5 512.4L52.0 512.0L52.5 511.6L53.0 511.9L53.5 511.5L54.0 511.1L54.5 510.9L55.0 510.8L55.5 510.4L56.0 510.2L56.5 509.4L57.0 509.0L57.5 508.6L58.0 507.9L58.5 507.3L59.0 506.7L59.5 506.6L60.0 506.5L60.5 506.3L61.0 506.2L61.5 505.7L62.0 505.6L62.5 505.5L63.0 505.6L63.5 505.1L64.0 504.8L64.5 504.1L65.0 503.8L65.5 503.1L66.0 502.7L66.5 503.1L67.0 502.3L67.5 502.6L68.0 502.6L68.5 502.3L69.0 502.3L69.5 502.3L70.0 502.3L70.5 501.9L71.0 501.4L71.5 501.0L72.0 500.5L72.5 500.3L73.0 499.8L73.5 500.0L74.0 499.1L74.5 498.6L75.0 498.2L75.5 497.5L76.0 498.0L76.5 497.1L77.0 497.0L77.5 496.7L78.0 497.1L78.5 496.3L79.0 496.5L79.5 496.0L80.0 495.8L80.5 495.3L81.0 495.3L81.5 494.8L82.0 494.5L82.5 494.4L83.0 494.7L83.5 493.6L84.0 493.9L84.5 493.9L85.0 493.3L85.5 493.1L86.0 492.6L86.5 492.8L87.0 492.5L87.5 492.0L88.0 491.5L88.5 491.1L89.0 490.7L89.5 490.1L90.0 490.5L90.5 489.5L91.0 488.1L91.5 488.0L92.0 487.8L92.5 487.7L93.0 487.4L93.5 487.1L94.0 486.9L94.5 486.9L95.0 486.4L95.5 485.9L96.0 486.1L96.5 485.9L97.0 485.1L97.5 485.4L98.0 485.2L98.5 484.5L99.0 483.8L99.5 483.5L100.0 483.0L100.5 482.4L101.0 481.9L101.5 481.6L102.0 481.9L102.5 481.6L103.0 481.0L103.5 481.1L104.0 481.0L104.5 481.2L105.0 481.4L105.5 481.0L106.0 480.8L106.5 480.6L107.0 480.0L107.5 480.1L108.0 480.3L108.5 480.1L109.0 479.8L109.5 479.5L110.0 479.1L110.5 478.7L111.0 478.5L111.5 478.1L112.0 477.9L112.5 477.4L113.0 477.5L113.5 477.5L114.0 477.1L114.5 476.4L115.0 476.4L115.5 476.8L116.0 476.5L116.5 476.3L117.0 476.1L117.5 476.2L118.0 475.8L118.5 476.1L119.0 475.8L119.5 475.9L120.0 475.7L120.5 475.4L121.0 474.8L121.5 474.5L122.0 474.3L122.5 474.4L123.0 474.3L123.5 473.9L124.0 473.8L124.5 473.9L125.0 473.6L125.5 473.2L126.0 472.9L126.5 472.9L127.0 472.8L127.5 472.3L128.0 472.2L128.5 471.8L129.0 471.4L129.5 471.6L130.0 471.6L130.5 471.1L131.0 470.9L131.5 470.8L132.0 470.3L132.5 470.1L133.0 470.0L133.5 469.2L134.0 469.2L134.5 469.2L135.0 469.2L135.5 468.5L136.0 468.4L136.5 468.0L137.0 468.0L137.5 468.0L138.0 467.8L138.5 467.3L139.0 466.9L139.5 467.0L140.0 466.5L140.5 466.4L141.0 466.4L141.5 466.0L142.0 466.5L142.5 466.2L143.0 466.4L143.5 465.4L144.0 464.4L144.5 464.6L145.0 464.5L145.5 464.2L146.0 463.9L146.5 463.1L147.0 462.8L147.5 462.4L148.0 462.2L148.5 462.4L149.0 462.2L149.5 462.2L150.0 461.7L150.5 461.4L151.0 461.3L151.5 461.0L152.0 461.2L152.5 460.7L153.0 461.0L153.5 460.4L154.0 460.5L154.5 459.9L155.0 460.2L155.5 459.9L156.0 459.7L156.5 459.5L157.0 459.0L157.5 458.4L158.0 457.6L158.5 457.8L159.0 457.4L159.5 457.1L160.0 456.9L160.5 457.4L161.0 456.5L161.5 456.5L162.0 456.1L162.5 456.1L163.0 455.4L163.5 455.1L164.0 455.3L164.5 455.5L165.0 455.7L165.5 455.1L166.0 454.8L166.5 454.5L167.0 453.9L167.5 453.2L168.0 453.4L168.5 453.3L169.0 453.0L169.5 453.2L170.0 452.7L170.5 452.6L171.0 452.4L171.5 452.1L172.0 452.0L172.5 451.8L173.0 451.7L173.5 451.5L174.0 451.8L174.5 451.3L175.0 451.3L175.5 451.1L176.0 450.6L176.5 450.5L177.0 449.9L177.5 450.0L178.0 449.4L178.5 449.0L179.0 448.8L179.5 448.8L180.0 448.8L180.5 448.7L181.0 448.3L181.5 447.7L182.0 447.6L182.5 447.4L183.0 446.8L183.5 446.9L184.0 446.6L184.5 446.1L185.0 446.0L185.5 445.3L186.0 444.9L186.5 444.9L187.0 444.2L187.5 444.2L188.0 443.6L188.5 443.8L189.0 443.4L189.5 443.4L190.0 442.8L190.5 442.6L191.0 442.8L191.5 442.7L192.0 442.0L192.5 442.1L193.0 442.2L193.5 441.8L194.0 442.0L194.5 441.4L195.0 441.1L195.5 441.2L196.0 441.3L196.5 441.3L197.0 440.6L197.5 439.7L198.0 439.6L198.5 439.0L199.0 438.7L199.5 438.2L200.0 438.4L200.5 438.4L201.0 438.2L201.5 437.9L202.0 437.6L202.5 437.2L203.0 437.0L203.5 436.7L204.0 436.5L204.5 436.0L205.0 436.2L205.5 435.8L206.0 435.8L206.5 435.7L207.0 434.9L207.5 433.9L208.0 434.0L208.5 433.5L209.0 433.1L209.5 432.7L210.0 432.4L210.5 431.7L211.0 431.4L211.5 431.0L212.0 430.7L212.5 429.8L213.0 429.9L213.5 429.7L214.0 429.0L214.5 428.6L215.0 428.4L215.5 428.4L216.0 428.1L216.5 428.3L217.0 427.9L217.5 427.3L218.0 426.8L218.5 426.7L219.0 426.2L219.5 426.2L220.0 426.2L220.5 426.0L221.0 425.8L221.5 425.3L222.0 424.9L222.5 424.3L223.0 423.8L223.5 423.0L224.0 422.6L224.5 422.1L225.0 421.5L225.5 421.4L226.0 421.4L226.5 421.1L227.0 421.3L227.5 421.3L228.0 421.2L228.5 420.7L229.0 419.9L229.5 419.8L230.0 419.6L230.5 419.6L231.0 419.4L231.5 419.5L232.0 419.0L232.5 418.9L233.0 418.3L233.5 417.3L234.0 417.1L234.5 417.5L235.0 416.8L235.5 417.0L236.0 416.6L236.5 416.3L237.0 416.2L237.5 416.1L238.0 415.6L238.5 415.6L239.0 415.5L239.5 415.6L240.0 415.1L240.5 415.4L241.0 415.7L241.5 416.0L242.0 415.2L242.5 414.9L243.0 414.0L243.5 413.9L244.0 413.8L244.5 413.2L245.0 412.6L245.5 412.6L246.0 412.6L246.5 412.2L247.0 412.0L247.5 411.1L248.0 410.9L248.5 411.0L249.0 411.0L249.5 411.3L250.0 410.8L250.5 410.0L251.0 410.1L251.5 409.8L252.0 409.9L252.5 410.0L253.0 410.0L253.5 410.2L254.0 410.3L254.5 409.4L255.0 409.2L255.5 409.6L256.0 409.1L256.5 409.1L257.0 408.8L257.5 408.4L258.0 408.6L258.5 408.6L259.0 408.2L259.5 408.2L260.0 407.5L260.5 407.1L261.0 407.2L261.5 407.0L262.0 406.6L262.5 406.6L263.0 406.6L263.5 406.8L264.0 406.9L264.5 406.6L265.0 406.3L265.5 406.1L266.0 405.9L266.5 406.2L267.0 406.5L267.5 406.7L268.0 406.5L268.5 406.1L269.0 406.1L269.5 405.7L270.0 405.6L270.5 404.9L271.0 404.7L271.5 405.1L272.0 404.6L272.5 404.1L273.0 404.0L273.5 404.5L274.0 404.8L274.5 404.5L275.0 404.2L275.5 404.1L276.0 403.7L276.5 403.6L277.0 403.5L277.5 403.0L278.0 402.8L278.5 402.8L279.0 402.5L279.5 402.3L280.0 402.6L280.5 403.2L281.0 403.0L281.5 402.7L282.0 402.8L282.5 402.5L283.0 402.2L283.5 402.5L284.0 401.9L284.5 401.6L285.0 401.2L285.5 400.8L286.0 400.7L286.5 400.7L287.0 401.0L287.5 400.9L288.0 400.5L288.5 399.8L289.0 399.5L289.5 399.0L290.0 398.7L290.5 398.8L291.0 398.5L291.5 398.1L292.0 397.6L292.5 397.3L293.0 397.1L293.5 396.5L294.0 396.1L294.5 396.2L295.0 395.4L295.5 395.1L296.0 394.5L296.5 394.9L297.0 394.8L297.5 394.7L298.0 394.5L298.5 394.2L299.0 394.0L299.5 393.2L300.0 393.1L300.5 393.1L301.0 392.4L301.5 392.6L302.0 392.6L302.5 391.9L303.0 391.6L303.5 391.5L304.0 391.2L304.5 391.3L305.0 390.8L305.5 390.7L306.0 390.8L306.5 390.9L307.0 390.8L307.5 390.6L308.0 390.7L308.5 389.9L309.0 390.2L309.5 389.9L310.0 389.5L310.5 389.3L311.0 388.7L311.5 388.2L312.0 388.2L312.5 388.1L313.0 388.4L313.5 388.1L314.0 387.8L314.5 387.5L315.0 388.1L315.5 388.1L316.0 387.8L316.5 387.5L317.0 387.1L317.5 387.1L318.0 387.2L318.5 387.5L319.0 387.7L319.5 387.5L320.0 387.1L320.5 386.7L321.0 385.9L321.5 385.6L322.0 385.7L322.5 385.6L323.0 385.7L323.5 385.2L324.0 385.4L324.5 385.4L325.0 385.2L325.5 385.2L326.0 384.4L326.5 384.2L327.0 383.9L327.5 384.5L328.0 384.4L328.5 384.2L329.0 384.4L329.5 384.0L330.0 384.5L330.5 384.3L331.0 384.3L331.5 384.0L332.0 384.3L332.5 383.7L333.0 384.1L333.5 383.9L334.0 384.0L334.5 383.7L335.0 383.9L335.0 389.9L334.5 390.4L334.0 390.3L333.5 390.7L333.0 391.3L332.5 391.5L332.0 392.6L331.5 393.0L331.0 393.2L330.5 393.8L330.0 394.8L329.5 395.2L329.0 395.0L328.5 395.1L328.0 395.1L327.5 395.0L327.0 395.0L326.5 395.5L326.0 396.3L325.5 396.2L325.0 396.5L324.5 397.1L324.0 396.8L323.5 396.9L323.0 397.4L322.5 397.5L322.0 397.5L321.5 398.8L321.0 399.0L320.5 399.2L320.0 399.1L319.5 399.4L319.0 399.0L318.5 399.1L318.0 399.3L317.5 399.7L317.0 400.2L316.5 400.4L316.0 400.9L315.5 400.8L315.0 401.0L314.5 401.3L314.0 401.4L313.5 401.6L313.0 401.7L312.5 401.8L312.0 401.9L311.5 402.4L311.0 402.4L310.5 402.3L310.0 402.4L309.5 402.3L309.0 403.1L308.5 403.4L308.0 403.3L307.5 403.5L307.0 403.7L306.5 404.0L306.0 403.7L305.5 404.3L305.0 404.1L304.5 404.2L304.0 404.7L303.5 405.0L303.0 405.9L302.5 406.1L302.0 406.3L301.5 406.4L301.0 406.4L300.5 406.7L300.0 407.1L299.5 407.0L299.0 407.0L298.5 407.2L298.0 407.5L297.5 408.2L297.0 408.9L296.5 409.0L296.0 409.5L295.5 409.4L295.0 409.8L294.5 410.3L294.0 410.6L293.5 410.5L293.0 411.4L292.5 411.8L292.0 412.8L291.5 413.1L291.0 413.7L290.5 413.4L290.0 414.5L289.5 414.8L289.0 414.6L288.5 415.5L288.0 415.6L287.5 415.8L287.0 415.8L286.5 415.9L286.0 416.6L285.5 416.9L285.0 416.8L284.5 417.1L284.0 418.0L283.5 418.3L283.0 419.0L282.5 418.5L282.0 418.9L281.5 418.8L281.0 419.2L280.5 419.5L280.0 420.3L279.5 420.5L279.0 420.9L278.5 420.4L278.0 420.8L277.5 421.7L277.0 421.6L276.5 422.1L276.0 421.7L275.5 421.6L275.0 422.1L274.5 422.2L274.0 422.6L273.5 422.5L273.0 422.9L272.5 422.7L272.0 422.6L271.5 422.8L271.0 423.2L270.5 423.4L270.0 423.5L269.5 424.0L269.0 424.3L268.5 425.6L268.0 425.7L267.5 426.0L267.0 425.7L266.5 426.1L266.0 426.3L265.5 426.7L265.0 426.6L264.5 426.8L264.0 427.0L263.5 427.1L263.0 427.2L262.5 427.5L262.0 427.1L261.5 427.3L261.0 427.3L260.5 427.8L260.0 428.6L259.5 429.0L259.0 429.1L258.5 429.2L258.0 429.8L257.5 429.9L257.0 430.6L256.5 431.3L256.0 431.6L255.5 431.5L255.0 432.2L254.5 432.5L254.0 432.8L253.5 433.2L253.0 434.1L252.5 433.9L252.0 434.8L251.5 435.3L251.0 435.6L250.5 436.6L250.0 436.1L249.5 436.4L249.0 436.7L248.5 436.5L248.0 437.3L247.5 437.6L247.0 437.9L246.5 438.1L246.0 438.5L245.5 438.2L245.0 439.3L244.5 439.6L244.0 440.2L243.5 440.8L243.0 440.9L242.5 441.4L242.0 441.9L241.5 441.8L241.0 442.0L240.5 442.6L240.0 443.1L239.5 443.5L239.0 443.9L238.5 444.9L238.0 445.9L237.5 445.7L237.0 445.9L236.5 445.9L236.0 446.0L235.5 445.6L235.0 445.9L234.5 446.3L234.0 446.8L233.5 447.2L233.0 447.9L232.5 448.2L232.0 448.5L231.5 448.0L231.0 448.5L230.5 448.8L230.0 449.1L229.5 449.8L229.0 449.9L228.5 450.3L228.0 451.3L227.5 451.7L227.0 452.1L226.5 452.5L226.0 452.9L225.5 452.4L225.0 452.8L224.5 453.0L224.0 453.4L223.5 453.5L223.0 454.0L222.5 454.7L222.0 454.4L221.5 454.4L221.0 454.8L220.5 454.7L220.0 455.4L219.5 455.7L219.0 455.8L218.5 456.3L218.0 456.7L217.5 457.6L217.0 457.3L216.5 457.2L216.0 457.8L215.5 457.7L215.0 457.4L214.5 458.2L214.0 458.6L213.5 458.7L213.0 459.1L212.5 459.5L212.0 460.1L211.5 460.3L211.0 460.6L210.5 461.6L210.0 461.6L209.5 461.5L209.0 462.3L208.5 462.2L208.0 462.6L207.5 462.8L207.0 462.9L206.5 463.4L206.0 463.5L205.5 463.3L205.0 463.6L204.5 463.7L204.0 464.0L203.5 465.1L203.0 465.7L202.5 465.7L202.0 465.8L201.5 465.6L201.0 466.0L200.5 466.5L200.0 466.3L199.5 467.0L199.0 467.5L198.5 467.8L198.0 467.6L197.5 468.2L197.0 468.7L196.5 468.8L196.0 468.9L195.5 469.0L195.0 469.3L194.5 469.4L194.0 470.1L193.5 470.9L193.0 471.1L192.5 471.2L192.0 471.4L191.5 472.0L191.0 471.7L190.5 472.3L190.0 473.0L189.5 473.3L189.0 473.3L188.5 473.5L188.0 474.1L187.5 473.9L187.0 474.2L186.5 474.4L186.0 474.5L185.5 474.7L185.0 474.6L184.5 474.7L184.0 475.2L183.5 475.4L183.0 475.7L182.5 475.9L182.0 476.1L181.5 476.5L181.0 476.1L180.5 476.7L180.0 476.9L179.5 477.0L179.0 477.0L178.5 477.3L178.0 477.7L177.5 477.7L177.0 477.6L176.5 477.8L176.0 477.9L175.5 477.8L175.0 478.1L174.5 478.7L174.0 478.4L173.5 478.2L173.0 478.4L172.5 477.9L172.0 478.4L171.5 478.5L171.0 479.1L170.5 478.9L170.0 479.1L169.5 479.1L169.0 479.3L168.5 479.6L168.0 479.0L167.5 480.0L167.0 480.5L166.5 480.3L166.0 480.1L165.5 480.2L165.0 480.5L164.5 480.5L164.0 480.4L163.5 480.9L163.0 481.1L162.5 480.8L162.0 481.3L161.5 481.1L161.0 481.3L160.5 481.4L160.0 481.0L159.5 481.1L159.0 481.6L158.5 482.1L158.0 482.4L157.5 482.5L157.0 482.7L156.5 482.1L156.0 482.5L155.5 482.7L155.0 482.1L154.5 482.5L154.0 482.6L153.5 482.8L153.0 482.6L152.5 482.9L152.0 482.2L151.5 482.2L151.0 482.4L150.5 482.9L150.0 483.6L149.5 484.5L149.0 484.0L148.5 484.5L148.0 484.2L147.5 484.2L147.0 484.2L146.5 484.3L146.0 484.6L145.5 484.7L145.0 484.6L144.5 484.3L144.0 484.2L143.5 484.6L143.0 484.9L142.5 485.4L142.0 485.6L141.5 485.6L141.0 485.4L140.5 485.1L140.0 485.3L139.5 485.5L139.0 485.5L138.5 485.6L138.0 486.0L137.5 486.2L137.0 486.2L136.5 486.7L136.0 486.6L135.5 486.7L135.0 486.9L134.5 486.6L134.0 486.9L133.5 487.7L133.0 487.8L132.5 488.4L132.0 489.1L131.5 488.9L131.0 489.1L130.5 489.3L130.0 489.4L129.5 489.1L129.0 489.1L128.5 489.3L128.0 488.6L127.5 488.9L127.0 488.9L126.5 488.9L126.0 488.9L125.5 489.0L125.0 489.2L124.5 489.7L124.0 490.4L123.5 490.3L123.0 491.2L122.5 491.1L122.0 491.4L121.5 490.9L121.0 491.0L120.5 491.3L120.0 491.7L119.5 491.6L119.0 491.6L118.5 491.7L118.0 492.0L117.5 492.0L117.0 491.8L116.5 492.0L116.0 492.4L115.5 492.7L115.0 492.8L114.5 492.9L114.0 492.8L113.5 492.6L113.0 492.9L112.5 493.3L112.0 493.0L111.5 493.4L111.0 493.2L110.5 493.8L110.0 494.4L109.5 494.0L109.0 494.0L108.5 494.2L108.0 494.3L107.5 494.2L107.0 494.8L106.5 494.9L106.0 495.0L105.5 495.0L105.0 495.2L104.5 495.6L104.0 495.7L103.5 496.3L103.0 496.5L102.5 496.4L102.0 496.6L101.5 497.1L101.0 497.2L100.5 497.2L100.0 497.5L99.5 497.8L99.0 497.7L98.5 498.2L98.0 498.1L97.5 498.9L97.0 499.2L96.5 499.6L96.0 499.7L95.5 499.6L95.0 500.1L94.5 500.3L94.0 500.3L93.5 499.9L93.0 500.3L92.5 500.6L92.0 500.7L91.5 500.5L91.0 500.8L90.5 501.0L90.0 501.0L89.5 502.0L89.0 502.0L88.5 502.4L88.0 502.3L87.5 502.7L87.0 502.8L86.5 502.9L86.0 502.7L85.5 502.7L85.0 502.8L84.5 502.9L84.0 502.8L83.5 502.9L83.0 502.9L82.5 503.7L82.0 504.2L81.5 504.3L81.0 504.5L80.5 505.2L80.0 505.2L79.5 505.1L79.0 505.3L78.5 505.6L78.0 505.4L77.5 505.9L77.0 506.0L76.5 506.4L76.0 506.7L75.5 506.8L75.0 506.9L74.5 507.3L74.0 507.7L73.5 507.9L73.0 508.4L72.5 508.6L72.0 508.9L71.5 509.1L71.0 508.6L70.5 508.5L70.0 509.0L69.5 509.3L69.0 509.6L68.5 509.7L68.0 510.3L67.5 510.6L67.0 510.8L66.5 510.8L66.0 510.9L65.5 511.1L65.0 511.2L64.5 511.3L64.0 511.7L63.5 511.7L63.0 511.8L62.5 511.9L62.0 512.3L61.5 512.7L61.0 512.9L60.5 513.1L60.0 513.1L59.5 513.4L59.0 513.8L58.5 513.7L58.0 514.2L57.5 514.8L57.0 515.2L56.5 514.9L56.0 514.8L55.5 515.3L55.0 515.6L54.5 515.4L54.0 515.7L53.5 515.7L53.0 516.3L52.5 516.9L52.0 517.4L51.5 517.4L51.0 517.5L50.5 517.7L50.0 517.7Z" fill="#1378C8"/>
<path d="M49.9 511.4h1.5M49.8 504.5h1.5M50.7 503.9h1.5M50.4 506.1h1.5M51.2 504.6h1.5M51.2 511.5h1.5M50.9 509.1h1.5M50.9 517.6h1.5M51.5 512.0h1.5M51.3 509.0h1.5M51.9 511.1h1.5M52.0 508.0h1.5M52.1 509.9h1.5M52.4 504.1h1.5M52.5 506.5h1.5M52.5 505.6h1.5M53.1 501.7h1.5M53.2 509.8h1.5M52.9 500.2h1.5M53.6 508.2h1.5M53.3 505.5h1.5M54.0 501.2h1.5M54.0 506.1h1.5M53.9 501.8h1.5M54.7 505.2h1.5M54.6 501.1h1.5M54.6 515.9h1.5M54.9 504.6h1.5M55.0 502.8h1.5M54.8 506.8h1.5M55.3 506.2h1.5M55.5 506.0h1.5M55.3 509.3h1.5M56.0 509.1h1.5M56.2 498.3h1.5M55.9 504.4h1.5M56.5 504.3h1.5M56.7 506.8h1.5M56.5 507.6h1.5M57.1 499.6h1.5M56.8 497.8h1.5M57.4 496.1h1.5M57.3 499.6h1.5M57.4 501.0h1.5M58.1 502.6h1.5M58.2 503.5h1.5M58.0 505.4h1.5M58.4 500.4h1.5M58.5 498.8h1.5M58.7 495.8h1.5M59.2 498.6h1.5M58.8 504.8h1.5M59.1 494.9h1.5M59.6 499.4h1.5M59.3 505.1h1.5M59.7 500.0h1.5M60.1 494.1h1.5M60.1 503.9h1.5M59.9 506.5h1.5M60.7 505.3h1.5M60.7 502.4h1.5M61.2 501.5h1.5M60.9 502.7h1.5M60.8 501.9h1.5M61.3 502.8h1.5M61.4 505.4h1.5M61.5 503.8h1.5M62.0 497.2h1.5M61.9 501.2h1.5M62.1 505.0h1.5M62.0 512.8h1.5M62.7 504.3h1.5M62.4 503.9h1.5M62.3 492.6h1.5M62.8 501.1h1.5M62.8 500.4h1.5M63.2 497.3h1.5M62.9 512.2h1.5M63.3 502.0h1.5M63.3 498.1h1.5M63.3 492.7h1.5M64.1 499.0h1.5M64.1 499.3h1.5M64.1 504.0h1.5M64.6 499.7h1.5M64.4 498.1h1.5M64.6 499.2h1.5M65.1 500.2h1.5M65.2 495.4h1.5M64.9 498.8h1.5M65.0 511.2h1.5M65.3 501.4h1.5M65.5 501.4h1.5M65.7 500.7h1.5M66.1 494.8h1.5M66.1 499.2h1.5M65.9 500.1h1.5M66.3 494.8h1.5M66.5 494.2h1.5M66.5 499.2h1.5M67.2 494.5h1.5M67.2 500.5h1.5M67.1 493.3h1.5M67.5 501.4h1.5M67.4 490.7h1.5M67.7 492.3h1.5M67.9 498.1h1.5M68.2 497.9h1.5M67.8 500.0h1.5M68.3 499.5h1.5M68.4 491.3h1.5M68.7 500.1h1.5M69.0 500.1h1.5M68.9 496.0h1.5M68.9 496.7h1.5M69.4 501.6h1.5M69.3 500.2h1.5M69.7 489.3h1.5M70.2 501.8h1.5M69.9 499.5h1.5M69.9 489.5h1.5M70.4 490.2h1.5M70.6 498.2h1.5M70.4 495.0h1.5M70.5 500.7h1.5M71.0 498.1h1.5M70.9 497.0h1.5M71.0 498.4h1.5M71.0 492.0h1.5M71.5 490.5h1.5M71.5 497.0h1.5M71.4 490.6h1.5M71.4 497.2h1.5M71.8 492.3h1.5M71.8 487.8h1.5M71.8 489.9h1.5M72.7 490.2h1.5M72.7 489.6h1.5M72.4 499.8h1.5M73.2 490.6h1.5M73.2 492.3h1.5M72.8 494.0h1.5M73.6 497.1h1.5M73.4 499.7h1.5M73.3 491.7h1.5M74.1 490.9h1.5M74.1 490.6h1.5M73.8 499.0h1.5M74.7 497.5h1.5M74.5 494.3h1.5M74.3 491.6h1.5M74.8 496.1h1.5M75.0 488.0h1.5M75.0 494.5h1.5M75.4 489.5h1.5M75.7 496.9h1.5M75.5 490.1h1.5M75.9 497.1h1.5M75.9 491.9h1.5M76.1 486.8h1.5M76.5 492.5h1.5M76.7 492.6h1.5M76.6 495.5h1.5M77.1 492.9h1.5M76.9 495.2h1.5M77.0 495.8h1.5M76.8 506.1h1.5M77.4 491.4h1.5M77.7 490.3h1.5M77.3 490.1h1.5M77.9 494.2h1.5M78.0 490.8h1.5M78.2 492.3h1.5M78.5 493.0h1.5M78.3 493.2h1.5M78.3 496.0h1.5M79.1 495.9h1.5M79.2 494.4h1.5M78.9 495.2h1.5M79.5 494.7h1.5M79.3 489.0h1.5M79.7 485.8h1.5M79.9 493.4h1.5M79.8 494.7h1.5M79.9 505.5h1.5M80.7 488.7h1.5M80.4 495.0h1.5M80.5 492.1h1.5M80.9 488.5h1.5M81.1 490.6h1.5M80.9 486.9h1.5M81.6 494.8h1.5M81.3 490.4h1.5M81.5 489.6h1.5M81.8 485.4h1.5M82.2 486.2h1.5M82.1 483.6h1.5M82.5 487.0h1.5M82.4 486.1h1.5M82.7 491.9h1.5M83.0 488.4h1.5M83.2 492.2h1.5M83.1 485.1h1.5M83.2 504.0h1.5M83.5 486.9h1.5M83.5 490.5h1.5M83.6 489.8h1.5M84.1 483.6h1.5M84.2 488.6h1.5M84.1 493.6h1.5M84.5 492.8h1.5M84.7 491.7h1.5M84.5 485.6h1.5M85.1 484.6h1.5M84.8 486.0h1.5M84.8 485.2h1.5M85.6 484.0h1.5M85.7 490.5h1.5M85.7 490.1h1.5M85.3 503.6h1.5M86.0 491.7h1.5M86.0 484.1h1.5M86.1 489.8h1.5M86.7 489.3h1.5M86.3 482.1h1.5M86.4 491.2h1.5M87.2 491.1h1.5M87.2 488.5h1.5M86.9 484.3h1.5M87.5 485.5h1.5M87.7 489.5h1.5M87.5 490.4h1.5M87.9 485.9h1.5M87.8 482.8h1.5M88.1 483.1h1.5M88.3 485.8h1.5M88.6 490.3h1.5M88.7 482.7h1.5M89.0 486.1h1.5M88.8 490.5h1.5M89.0 488.8h1.5M89.7 482.0h1.5M89.3 488.2h1.5M89.7 483.1h1.5M90.0 488.7h1.5M89.8 483.7h1.5M89.8 481.2h1.5M90.2 501.7h1.5M90.4 483.7h1.5M90.3 482.2h1.5M90.5 481.5h1.5M90.3 501.1h1.5M91.1 479.6h1.5M91.2 481.4h1.5M91.4 484.1h1.5M91.4 482.4h1.5M91.5 483.8h1.5M91.6 500.6h1.5M91.9 479.4h1.5M92.1 479.4h1.5M92.5 486.4h1.5M92.5 483.4h1.5M93.1 486.5h1.5M93.2 482.7h1.5M93.5 484.4h1.5M93.7 483.0h1.5M93.6 483.3h1.5M94.1 478.2h1.5M94.0 485.2h1.5M93.9 486.3h1.5M94.4 486.2h1.5M94.6 483.2h1.5M94.6 484.8h1.5M94.8 481.9h1.5M95.0 486.1h1.5M95.1 482.6h1.5M95.6 484.7h1.5M95.4 484.7h1.5M95.4 480.7h1.5M95.9 481.2h1.5M96.1 481.0h1.5M96.0 481.5h1.5M96.4 485.6h1.5M96.3 476.3h1.5M97.2 485.1h1.5M97.2 483.0h1.5M96.8 477.3h1.5M97.4 477.7h1.5M97.5 483.1h1.5M97.5 481.1h1.5M97.8 483.4h1.5M97.9 477.7h1.5M98.2 476.9h1.5M98.4 483.3h1.5M98.3 476.8h1.5M98.6 480.3h1.5M98.9 479.7h1.5M98.9 476.0h1.5M99.4 482.5h1.5M99.6 474.5h1.5M99.5 498.3h1.5M100.2 479.9h1.5M99.9 480.8h1.5M100.0 477.0h1.5M100.6 481.3h1.5M100.5 478.5h1.5M101.0 474.0h1.5M100.9 477.3h1.5M100.9 481.0h1.5M101.3 474.8h1.5M101.3 478.9h1.5M101.5 480.8h1.5M102.0 481.4h1.5M102.0 475.2h1.5M102.0 496.6h1.5M102.6 479.8h1.5M102.3 481.1h1.5M102.3 476.9h1.5M103.1 476.9h1.5M102.9 480.7h1.5M103.0 478.7h1.5M103.3 480.7h1.5M103.7 479.8h1.5M103.5 478.5h1.5M104.0 479.0h1.5M103.9 479.5h1.5M103.9 479.8h1.5M104.6 476.8h1.5M104.7 481.0h1.5M104.4 478.1h1.5M105.0 478.3h1.5M104.8 478.8h1.5M104.9 477.2h1.5M105.3 478.0h1.5M105.3 479.2h1.5M105.9 479.5h1.5M105.8 476.2h1.5M106.0 477.5h1.5M106.3 476.0h1.5M106.5 477.1h1.5M106.4 479.4h1.5M106.9 476.6h1.5M106.9 477.8h1.5M107.0 478.7h1.5M107.2 495.9h1.5M107.3 477.9h1.5M107.7 473.2h1.5M108.1 475.3h1.5M108.2 473.3h1.5M107.9 478.3h1.5M108.6 476.4h1.5M108.7 478.9h1.5M108.5 494.3h1.5M109.2 479.2h1.5M109.0 477.0h1.5M108.8 494.4h1.5M109.3 478.8h1.5M109.4 472.9h1.5M109.3 494.7h1.5M109.9 474.8h1.5M109.9 473.7h1.5M109.9 475.0h1.5M110.4 471.4h1.5M110.7 477.6h1.5M110.7 494.5h1.5M111.1 476.7h1.5M111.0 475.3h1.5M110.8 493.3h1.5M111.7 473.1h1.5M111.3 473.1h1.5M112.2 472.8h1.5M111.8 475.4h1.5M112.4 476.9h1.5M112.5 474.4h1.5M112.3 493.5h1.5M113.2 473.4h1.5M113.2 477.5h1.5M113.6 476.1h1.5M113.3 474.8h1.5M113.9 471.8h1.5M114.2 471.1h1.5M114.5 473.6h1.5M114.5 475.8h1.5M114.9 472.6h1.5M115.1 475.2h1.5M115.4 471.3h1.5M115.4 471.8h1.5M115.8 471.8h1.5M116.0 472.9h1.5M116.7 475.3h1.5M116.5 471.4h1.5M116.7 492.4h1.5M117.2 474.0h1.5M116.9 471.1h1.5M117.7 470.9h1.5M117.4 470.4h1.5M118.1 474.8h1.5M118.2 473.4h1.5M118.1 471.8h1.5M118.7 472.9h1.5M118.3 475.6h1.5M119.1 475.6h1.5M119.1 470.2h1.5M119.3 472.3h1.5M119.7 474.2h1.5M119.8 472.4h1.5M119.8 474.5h1.5M120.5 475.3h1.5M120.7 474.6h1.5M121.1 471.6h1.5M121.1 466.9h1.5M121.6 472.9h1.5M121.7 473.4h1.5M121.6 472.9h1.5M122.2 470.2h1.5M121.8 472.6h1.5M122.3 471.3h1.5M122.5 471.4h1.5M122.8 466.5h1.5M122.8 473.7h1.5M123.7 467.0h1.5M123.7 469.0h1.5M123.4 470.0h1.5M123.9 467.5h1.5M124.0 470.8h1.5M124.5 473.9h1.5M124.3 466.5h1.5M124.3 469.2h1.5M125.2 467.6h1.5M125.1 471.7h1.5M125.0 467.6h1.5M125.5 467.8h1.5M125.4 465.7h1.5M125.3 489.8h1.5M126.2 467.6h1.5M125.9 464.1h1.5M126.0 465.2h1.5M125.9 489.2h1.5M126.5 470.9h1.5M126.6 470.4h1.5M126.7 464.6h1.5M127.1 466.5h1.5M127.1 470.3h1.5M127.1 472.4h1.5M127.3 467.6h1.5M127.3 470.8h1.5M127.7 470.3h1.5M127.7 489.8h1.5M128.0 471.0h1.5M127.9 469.5h1.5M128.1 466.8h1.5M128.6 463.8h1.5M128.6 468.5h1.5M129.0 469.2h1.5M129.0 470.9h1.5M128.8 489.7h1.5M129.4 470.0h1.5M129.7 470.6h1.5M130.0 469.0h1.5M129.9 465.5h1.5M130.0 466.9h1.5M130.3 470.3h1.5M130.5 470.8h1.5M130.5 463.3h1.5M131.0 469.2h1.5M130.9 470.3h1.5M130.9 464.5h1.5M131.5 466.3h1.5M131.3 468.8h1.5M131.4 461.1h1.5M131.9 468.3h1.5M132.1 464.7h1.5M131.9 468.6h1.5M132.3 465.1h1.5M132.6 466.6h1.5M132.6 466.4h1.5M132.9 468.7h1.5M132.8 467.6h1.5M133.0 467.8h1.5M133.4 463.6h1.5M133.5 460.1h1.5M133.6 462.9h1.5M134.2 469.0h1.5M133.9 463.0h1.5M134.2 463.2h1.5M133.8 487.7h1.5M134.3 465.9h1.5M134.5 467.8h1.5M134.5 459.7h1.5M134.6 487.0h1.5M135.0 462.8h1.5M135.1 460.1h1.5M135.0 460.8h1.5M135.7 468.0h1.5M135.5 463.1h1.5M135.5 467.2h1.5M135.9 467.9h1.5M135.9 461.8h1.5M135.9 468.3h1.5M136.1 466.9h1.5M136.0 486.6h1.5M136.5 461.9h1.5M136.7 467.6h1.5M136.4 466.0h1.5M136.6 487.4h1.5M137.1 460.7h1.5M137.2 466.9h1.5M137.1 461.1h1.5M137.3 466.5h1.5M137.3 466.2h1.5M137.5 458.5h1.5M138.2 458.5h1.5M138.1 458.5h1.5M138.0 466.3h1.5M137.9 487.2h1.5M138.3 466.6h1.5M138.5 463.5h1.5M138.4 466.4h1.5M138.9 459.1h1.5M139.1 459.1h1.5M138.9 464.7h1.5M138.8 462.9h1.5M139.4 459.1h1.5M139.6 466.1h1.5M139.4 456.9h1.5M139.7 461.8h1.5M139.7 487.0h1.5M140.1 464.9h1.5M140.1 463.2h1.5M139.8 461.5h1.5M140.1 485.7h1.5M140.6 457.1h1.5M140.5 464.0h1.5M140.5 457.3h1.5M140.5 485.9h1.5M141.0 461.9h1.5M141.1 465.5h1.5M141.0 455.0h1.5M140.9 462.6h1.5M141.3 459.4h1.5M141.5 462.8h1.5M141.4 457.2h1.5M141.7 465.6h1.5M141.4 485.9h1.5M142.1 461.3h1.5M142.1 463.9h1.5M141.9 455.4h1.5M142.5 462.3h1.5M142.6 454.9h1.5M142.3 465.7h1.5M142.8 462.7h1.5M143.2 462.1h1.5M143.0 455.0h1.5M143.1 486.4h1.5M143.7 465.0h1.5M143.6 459.0h1.5M143.5 461.2h1.5M143.4 486.2h1.5M143.9 456.3h1.5M144.2 460.5h1.5M144.2 454.8h1.5M143.8 486.3h1.5M144.3 455.5h1.5M144.4 456.8h1.5M144.6 453.0h1.5M144.5 484.6h1.5M145.1 459.9h1.5M144.8 462.2h1.5M145.1 460.6h1.5M144.9 457.3h1.5M145.2 484.6h1.5M145.5 456.1h1.5M145.4 457.6h1.5M145.4 457.1h1.5M145.4 460.5h1.5M145.6 485.0h1.5M146.0 454.2h1.5M146.1 463.3h1.5M146.2 458.8h1.5M146.2 454.3h1.5M146.3 456.8h1.5M146.3 453.5h1.5M146.7 457.5h1.5M146.7 454.0h1.5M146.5 485.5h1.5M147.1 457.5h1.5M146.8 457.0h1.5M146.8 457.6h1.5M147.4 453.9h1.5M147.6 458.4h1.5M147.6 457.5h1.5M147.9 460.3h1.5M148.2 460.2h1.5M147.9 461.4h1.5M148.1 484.6h1.5M148.3 453.0h1.5M148.3 461.7h1.5M148.4 452.8h1.5M148.5 458.2h1.5M149.0 457.9h1.5M148.9 461.7h1.5M149.2 461.7h1.5M148.8 462.1h1.5M149.3 458.7h1.5M149.6 457.3h1.5M149.6 454.2h1.5M149.7 456.8h1.5M149.9 453.0h1.5M150.1 457.8h1.5M149.9 458.1h1.5M150.4 461.4h1.5M150.4 456.2h1.5M150.7 449.7h1.5M150.6 482.9h1.5M150.9 458.0h1.5M151.0 457.6h1.5M151.0 454.7h1.5M150.9 458.0h1.5M151.7 459.7h1.5M151.3 459.6h1.5M151.7 460.2h1.5M151.3 457.2h1.5M151.8 458.7h1.5M151.9 454.4h1.5M152.2 453.7h1.5M151.9 458.0h1.5M151.8 482.8h1.5M152.3 455.6h1.5M152.4 452.3h1.5M152.6 449.8h1.5M152.3 483.0h1.5M152.8 459.5h1.5M152.9 451.6h1.5M153.2 450.0h1.5M152.9 450.8h1.5M153.4 448.9h1.5M153.3 459.5h1.5M153.4 454.3h1.5M153.3 447.9h1.5M154.2 447.1h1.5M153.9 453.6h1.5M153.9 454.6h1.5M154.0 457.9h1.5M154.5 456.3h1.5M154.7 450.5h1.5M154.7 453.1h1.5M154.5 456.1h1.5M154.4 482.6h1.5M154.9 457.7h1.5M154.8 457.1h1.5M154.9 454.4h1.5M155.2 458.2h1.5M155.0 482.1h1.5M155.6 454.8h1.5M155.5 459.8h1.5M155.6 457.1h1.5M155.7 449.3h1.5M156.0 454.3h1.5M156.2 455.2h1.5M156.2 457.2h1.5M156.1 458.2h1.5M156.0 482.7h1.5M156.6 451.0h1.5M156.3 451.0h1.5M156.3 459.4h1.5M156.5 447.6h1.5M156.9 453.6h1.5M157.2 456.5h1.5M157.0 446.8h1.5M157.2 457.6h1.5M156.8 483.2h1.5M157.3 454.8h1.5M157.6 456.1h1.5M157.3 457.5h1.5M157.3 457.8h1.5M157.9 444.7h1.5M158.1 448.4h1.5M158.1 455.7h1.5M158.4 453.8h1.5M158.7 447.7h1.5M158.4 444.5h1.5M158.7 446.1h1.5M159.0 452.2h1.5M158.8 456.2h1.5M158.9 457.3h1.5M158.8 443.8h1.5M159.3 446.3h1.5M159.4 446.6h1.5M159.5 447.5h1.5M159.5 453.4h1.5M160.2 449.4h1.5M160.1 445.8h1.5M159.9 455.3h1.5M160.0 454.0h1.5M159.9 481.2h1.5M160.6 449.5h1.5M160.3 455.0h1.5M160.3 457.1h1.5M160.7 455.2h1.5M160.3 481.4h1.5M161.1 454.2h1.5M160.8 455.3h1.5M160.9 447.1h1.5M160.9 449.3h1.5M161.3 454.3h1.5M161.5 451.8h1.5M161.5 456.1h1.5M161.4 451.9h1.5M161.6 482.0h1.5M162.1 452.5h1.5M162.2 449.6h1.5M161.8 453.0h1.5M162.0 445.0h1.5M162.3 451.7h1.5M162.4 455.2h1.5M162.4 452.7h1.5M162.7 448.9h1.5M163.1 451.7h1.5M163.1 449.8h1.5M163.2 450.8h1.5M163.0 444.4h1.5M163.3 447.2h1.5M163.6 443.5h1.5M163.3 454.9h1.5M163.6 444.6h1.5M163.9 454.8h1.5M164.2 454.4h1.5M164.2 444.5h1.5M163.9 450.6h1.5M164.4 444.9h1.5M164.6 452.7h1.5M164.3 454.6h1.5M164.5 441.2h1.5M164.3 481.5h1.5M164.8 451.4h1.5M164.9 455.0h1.5M165.1 454.5h1.5M164.9 440.9h1.5M165.6 453.5h1.5M165.3 449.0h1.5M165.7 452.7h1.5M165.5 447.5h1.5M165.7 481.5h1.5M165.9 446.7h1.5M166.1 440.9h1.5M166.2 453.1h1.5M165.8 450.1h1.5M166.0 480.7h1.5M166.6 442.8h1.5M166.7 450.1h1.5M166.4 452.1h1.5M166.3 480.5h1.5M166.9 443.8h1.5M167.1 451.9h1.5M167.2 451.9h1.5M166.8 448.0h1.5M167.3 440.1h1.5M167.7 449.4h1.5M167.5 448.9h1.5M168.1 447.2h1.5M167.8 442.0h1.5M167.8 446.2h1.5M168.2 447.4h1.5M168.6 450.1h1.5M168.3 448.0h1.5M168.7 452.0h1.5M168.3 445.9h1.5M169.0 444.7h1.5M169.0 449.4h1.5M169.2 445.9h1.5M169.2 441.8h1.5M169.4 443.4h1.5M169.5 452.7h1.5M169.5 441.3h1.5M169.7 442.9h1.5M169.3 479.8h1.5M170.2 442.6h1.5M170.0 446.4h1.5M170.0 451.0h1.5M169.8 480.3h1.5M170.5 451.8h1.5M170.6 443.1h1.5M170.6 448.3h1.5M170.4 450.5h1.5M171.2 448.9h1.5M171.1 452.2h1.5M171.0 440.6h1.5M171.2 445.0h1.5M171.3 440.9h1.5M171.3 444.5h1.5M171.4 441.5h1.5M171.4 442.3h1.5M171.5 479.3h1.5M171.8 448.4h1.5M172.1 449.9h1.5M172.0 440.2h1.5M172.5 447.3h1.5M172.6 446.5h1.5M172.4 449.5h1.5M172.3 448.4h1.5M172.3 479.4h1.5M172.8 449.3h1.5M172.8 440.9h1.5M173.0 442.5h1.5M172.9 443.5h1.5M173.5 449.0h1.5M173.6 441.0h1.5M173.5 447.3h1.5M173.5 447.7h1.5M173.5 478.3h1.5M173.9 448.7h1.5M173.9 444.6h1.5M174.0 445.6h1.5M173.9 451.4h1.5M174.0 479.0h1.5M174.5 450.1h1.5M174.5 438.9h1.5M174.5 440.1h1.5M174.3 437.3h1.5M175.1 438.3h1.5M174.9 448.7h1.5M174.9 446.3h1.5M175.2 479.6h1.5M175.3 438.1h1.5M175.4 450.6h1.5M175.7 445.0h1.5M175.6 450.8h1.5M176.1 449.1h1.5M175.8 450.5h1.5M175.9 445.9h1.5M175.9 445.9h1.5M175.8 479.3h1.5M176.5 439.0h1.5M176.4 443.5h1.5M176.4 440.1h1.5M176.6 440.6h1.5M176.3 479.0h1.5M176.8 448.5h1.5M176.9 439.9h1.5M177.2 442.0h1.5M177.5 437.7h1.5M177.4 438.0h1.5M177.3 444.6h1.5M177.7 448.9h1.5M178.1 446.1h1.5M178.2 447.8h1.5M178.0 448.8h1.5M178.1 438.4h1.5M177.8 478.5h1.5M178.7 446.5h1.5M178.4 448.7h1.5M178.6 448.5h1.5M179.0 445.0h1.5M179.2 437.5h1.5M178.9 442.1h1.5M179.2 478.7h1.5M179.7 447.2h1.5M179.6 446.8h1.5M179.7 444.7h1.5M179.4 445.0h1.5M179.6 477.2h1.5M179.8 443.8h1.5M179.9 443.6h1.5M180.2 438.9h1.5M179.8 478.6h1.5M180.5 446.7h1.5M180.3 447.5h1.5M180.3 445.8h1.5M180.6 443.9h1.5M181.2 444.4h1.5M181.1 444.5h1.5M180.9 446.8h1.5M180.9 445.3h1.5M180.9 476.6h1.5M181.5 438.1h1.5M181.5 447.3h1.5M181.3 443.2h1.5M181.6 444.6h1.5M181.4 476.9h1.5M181.8 444.8h1.5M182.2 435.6h1.5M182.2 439.2h1.5M182.1 441.4h1.5M182.7 443.9h1.5M182.4 436.0h1.5M182.3 445.8h1.5M182.3 445.0h1.5M182.7 475.9h1.5M182.8 443.7h1.5M183.2 446.5h1.5M183.0 446.3h1.5M183.0 477.8h1.5M183.4 435.9h1.5M183.6 433.5h1.5M183.6 444.3h1.5M183.5 445.3h1.5M183.9 436.1h1.5M184.2 444.1h1.5M183.9 433.5h1.5M183.8 433.8h1.5M184.1 475.8h1.5M184.4 438.8h1.5M184.5 445.3h1.5M184.4 435.7h1.5M184.7 443.5h1.5M184.8 444.8h1.5M185.1 438.1h1.5M185.0 442.9h1.5M185.1 437.2h1.5M185.4 438.1h1.5M185.7 441.3h1.5M185.5 436.2h1.5M185.7 436.2h1.5M185.3 475.5h1.5M186.0 444.6h1.5M186.1 441.1h1.5M186.1 434.4h1.5M185.9 475.2h1.5M186.5 443.9h1.5M186.3 442.1h1.5M186.6 441.1h1.5M187.2 434.0h1.5M186.9 436.3h1.5M187.2 441.7h1.5M187.2 475.5h1.5M187.4 432.3h1.5M187.3 439.3h1.5M187.5 434.3h1.5M187.9 438.1h1.5M188.2 439.3h1.5M188.0 439.4h1.5M187.8 443.3h1.5M188.0 476.0h1.5M188.6 443.6h1.5M188.3 437.1h1.5M188.5 441.8h1.5M188.6 433.4h1.5M188.6 473.9h1.5M189.2 435.4h1.5M189.2 438.5h1.5M189.0 436.1h1.5M188.8 437.4h1.5M189.2 473.7h1.5M189.5 442.8h1.5M189.7 443.2h1.5M189.6 442.0h1.5M189.4 433.6h1.5M189.4 475.4h1.5M190.2 437.3h1.5M190.1 439.2h1.5M189.9 439.8h1.5M190.2 439.2h1.5M190.0 474.4h1.5M190.3 441.0h1.5M190.6 440.8h1.5M190.5 439.0h1.5M190.4 440.6h1.5M190.5 475.4h1.5M190.8 434.3h1.5M190.8 440.8h1.5M191.1 442.7h1.5M190.9 439.5h1.5M191.2 475.3h1.5M191.7 433.2h1.5M191.5 440.0h1.5M191.5 439.9h1.5M191.5 472.7h1.5M192.0 432.4h1.5M192.2 439.5h1.5M191.8 438.3h1.5M192.0 471.6h1.5M192.6 440.7h1.5M192.3 440.8h1.5M192.6 441.1h1.5M192.6 474.2h1.5M192.9 433.4h1.5M193.2 440.0h1.5M193.1 431.0h1.5M192.8 432.8h1.5M193.2 473.2h1.5M193.4 436.0h1.5M193.3 439.8h1.5M193.4 436.0h1.5M193.5 438.7h1.5M193.7 473.4h1.5M194.2 433.9h1.5M194.1 438.7h1.5M193.8 434.5h1.5M194.2 433.7h1.5M193.8 474.3h1.5M194.4 440.9h1.5M194.7 430.3h1.5M194.6 439.6h1.5M194.5 434.9h1.5M194.6 473.7h1.5M194.3 471.1h1.5M195.2 431.3h1.5M195.0 434.3h1.5M194.8 432.4h1.5M194.9 469.3h1.5M195.6 430.6h1.5M195.5 439.1h1.5M195.6 437.9h1.5M195.5 433.6h1.5M195.5 472.8h1.5M195.8 439.4h1.5M196.1 435.3h1.5M196.2 436.9h1.5M195.9 440.7h1.5M195.9 470.5h1.5M195.8 470.2h1.5M196.4 437.1h1.5M196.6 437.1h1.5M196.7 432.1h1.5M196.4 434.6h1.5M196.4 470.2h1.5M196.3 470.1h1.5M196.8 439.6h1.5M197.1 436.0h1.5M196.9 430.4h1.5M197.1 434.4h1.5M196.9 471.8h1.5M197.4 438.8h1.5M197.4 434.5h1.5M197.7 437.5h1.5M197.4 432.7h1.5M197.7 471.2h1.5M197.9 435.2h1.5M197.8 434.0h1.5M198.1 433.4h1.5M198.1 437.2h1.5M197.8 469.7h1.5M198.4 434.5h1.5M198.7 435.4h1.5M198.5 434.0h1.5M198.4 469.5h1.5M198.9 437.3h1.5M199.0 428.9h1.5M199.0 436.4h1.5M198.8 434.6h1.5M199.2 468.5h1.5M199.7 437.1h1.5M199.5 437.0h1.5M199.4 437.0h1.5M199.3 472.8h1.5M199.8 427.0h1.5M200.0 432.1h1.5M200.1 433.8h1.5M199.8 467.4h1.5M200.2 467.2h1.5M200.3 432.7h1.5M200.6 437.8h1.5M200.5 433.1h1.5M200.5 434.4h1.5M200.3 469.4h1.5M200.3 468.1h1.5M201.0 432.3h1.5M201.0 437.4h1.5M201.2 435.4h1.5M201.0 470.4h1.5M201.1 472.1h1.5M201.6 431.1h1.5M201.7 431.1h1.5M201.3 436.0h1.5M201.4 432.7h1.5M201.7 468.1h1.5M201.9 432.5h1.5M201.9 426.1h1.5M202.1 436.7h1.5M202.1 470.4h1.5M202.7 434.4h1.5M202.5 434.5h1.5M202.6 427.6h1.5M202.4 434.0h1.5M202.7 466.5h1.5M202.5 470.0h1.5M203.1 434.3h1.5M203.2 429.7h1.5M203.1 433.6h1.5M202.9 470.5h1.5M203.2 467.2h1.5M203.3 433.9h1.5M203.5 434.6h1.5M203.3 431.6h1.5M203.3 425.3h1.5M203.3 465.8h1.5M204.0 435.5h1.5M203.8 435.0h1.5M203.9 432.0h1.5M203.9 467.3h1.5M203.9 466.6h1.5M204.5 427.7h1.5M204.4 429.2h1.5M204.7 428.3h1.5M204.7 468.7h1.5M204.3 468.9h1.5M204.8 434.4h1.5M205.2 428.2h1.5M204.9 436.0h1.5M204.8 464.4h1.5M204.8 470.5h1.5M205.4 432.9h1.5M205.4 432.7h1.5M205.3 430.6h1.5M205.6 464.8h1.5M205.6 467.8h1.5M206.1 432.1h1.5M206.0 435.3h1.5M206.0 427.1h1.5M206.2 466.8h1.5M205.9 466.9h1.5M206.3 429.5h1.5M206.5 429.1h1.5M206.4 425.8h1.5M206.4 435.5h1.5M206.3 468.7h1.5M206.3 470.1h1.5M207.0 432.7h1.5M207.1 424.5h1.5M207.0 432.8h1.5M207.0 465.5h1.5M206.9 463.2h1.5M207.5 432.5h1.5M207.3 433.8h1.5M207.3 427.3h1.5M207.7 430.0h1.5M207.5 465.8h1.5M207.3 465.4h1.5M207.9 427.8h1.5M208.0 424.9h1.5M208.0 426.1h1.5M207.9 464.5h1.5M208.2 469.7h1.5M208.6 426.0h1.5M208.5 430.3h1.5M208.3 426.3h1.5M208.3 464.6h1.5M208.7 464.0h1.5M208.4 463.4h1.5M209.0 431.5h1.5M208.9 428.1h1.5M208.8 431.3h1.5M209.1 465.2h1.5M209.1 463.7h1.5M209.6 426.5h1.5M209.4 427.6h1.5M209.3 424.5h1.5M209.3 465.5h1.5M209.3 467.6h1.5M210.2 426.8h1.5M210.0 427.2h1.5M209.9 430.8h1.5M209.9 465.5h1.5M209.9 465.9h1.5M210.6 429.6h1.5M210.4 428.0h1.5M210.5 428.0h1.5M210.7 463.3h1.5M210.7 463.3h1.5M211.0 424.9h1.5M211.0 431.4h1.5M210.8 428.8h1.5M210.8 467.7h1.5M211.0 462.7h1.5M211.5 427.6h1.5M211.5 428.1h1.5M211.4 425.9h1.5M211.5 467.3h1.5M211.6 466.3h1.5M212.1 429.7h1.5M212.0 428.5h1.5M212.1 427.0h1.5M211.9 464.5h1.5M212.1 463.5h1.5M212.4 421.8h1.5M212.7 427.1h1.5M212.5 422.4h1.5M212.7 460.0h1.5M212.7 466.2h1.5M212.5 460.8h1.5M212.8 423.2h1.5M212.9 425.0h1.5M213.0 461.9h1.5M213.0 461.1h1.5M212.8 462.5h1.5M213.4 422.4h1.5M213.4 422.7h1.5M213.6 426.8h1.5M213.4 461.6h1.5M213.5 462.1h1.5M213.4 463.7h1.5M214.1 423.5h1.5M213.8 423.3h1.5M214.1 460.6h1.5M214.2 461.0h1.5M213.9 459.2h1.5M214.3 427.1h1.5M214.7 423.9h1.5M214.7 460.0h1.5M214.7 464.3h1.5M214.4 462.0h1.5M215.0 427.3h1.5M214.8 427.6h1.5M215.0 425.0h1.5M215.1 461.5h1.5M215.1 460.4h1.5M215.2 460.0h1.5M215.7 428.2h1.5M215.5 423.2h1.5M215.5 462.3h1.5M215.5 460.2h1.5M215.4 458.6h1.5M215.8 420.7h1.5M215.9 425.4h1.5M215.9 424.8h1.5M216.2 465.1h1.5M216.1 464.7h1.5M216.1 458.6h1.5M216.6 425.3h1.5M216.3 426.4h1.5M216.7 458.3h1.5M216.5 463.7h1.5M216.7 457.6h1.5M217.1 427.8h1.5M217.0 421.3h1.5M216.8 421.2h1.5M216.8 460.8h1.5M216.8 461.8h1.5M217.4 421.1h1.5M217.3 420.0h1.5M217.7 426.9h1.5M217.4 463.4h1.5M217.4 464.2h1.5M217.5 464.1h1.5M217.8 421.5h1.5M218.2 424.1h1.5M218.0 457.2h1.5M218.0 456.8h1.5M218.1 458.8h1.5M218.3 423.9h1.5M218.7 424.4h1.5M218.7 419.7h1.5M218.4 459.2h1.5M218.5 458.8h1.5M218.3 461.4h1.5M219.2 421.5h1.5M219.1 422.1h1.5M219.2 418.9h1.5M218.8 458.8h1.5M218.8 458.1h1.5M219.1 463.6h1.5M219.5 422.1h1.5M219.4 424.0h1.5M219.4 458.3h1.5M219.4 465.2h1.5M219.7 458.4h1.5M219.9 420.7h1.5M220.0 424.3h1.5M219.8 422.2h1.5M220.0 462.2h1.5M219.9 455.9h1.5M220.0 455.5h1.5M220.6 419.7h1.5M220.7 422.9h1.5M220.3 463.0h1.5M220.4 457.3h1.5M220.6 462.5h1.5M220.7 458.9h1.5M220.9 423.3h1.5M221.1 419.4h1.5M221.0 419.1h1.5M221.2 456.8h1.5M220.8 461.3h1.5M220.9 457.3h1.5M221.1 459.8h1.5M221.6 418.6h1.5M221.5 421.7h1.5M221.3 423.1h1.5M221.5 456.7h1.5M221.6 457.5h1.5M221.7 458.4h1.5M222.1 424.1h1.5M222.1 417.8h1.5M222.0 454.4h1.5M221.8 457.1h1.5M221.8 457.2h1.5M222.3 422.4h1.5M222.4 417.2h1.5M222.3 421.3h1.5M222.3 459.5h1.5M222.3 457.8h1.5M222.6 457.6h1.5M222.8 417.2h1.5M223.2 419.6h1.5M223.0 460.5h1.5M223.2 454.3h1.5M223.1 455.0h1.5M223.0 455.2h1.5M223.6 421.6h1.5M223.3 417.4h1.5M223.3 458.6h1.5M223.4 455.4h1.5M223.4 457.5h1.5M224.2 422.3h1.5M224.0 420.7h1.5M224.0 457.3h1.5M223.9 455.7h1.5M223.8 456.1h1.5M224.0 458.4h1.5M224.4 419.2h1.5M224.3 420.3h1.5M224.5 458.5h1.5M224.5 455.3h1.5M224.5 459.7h1.5M224.9 417.2h1.5M224.9 419.4h1.5M225.0 456.2h1.5M225.1 457.6h1.5M225.2 458.6h1.5M225.0 458.1h1.5M225.3 419.2h1.5M225.5 418.6h1.5M225.6 454.2h1.5M225.6 459.4h1.5M225.7 454.1h1.5M225.7 456.9h1.5M226.1 419.2h1.5M226.1 420.9h1.5M226.1 457.9h1.5M225.8 458.1h1.5M226.1 460.1h1.5M226.5 419.6h1.5M226.7 417.3h1.5M226.3 454.8h1.5M226.4 456.7h1.5M226.5 456.9h1.5M226.6 457.8h1.5M226.8 418.3h1.5M227.0 420.0h1.5M226.9 460.1h1.5M227.1 459.2h1.5M226.9 453.6h1.5M227.0 458.1h1.5M227.4 415.0h1.5M227.4 418.2h1.5M227.7 420.7h1.5M227.6 452.3h1.5M227.6 453.7h1.5M227.7 453.4h1.5M227.4 452.6h1.5M228.2 418.5h1.5M228.1 419.4h1.5M227.9 417.4h1.5M227.9 454.9h1.5M228.2 452.1h1.5M228.0 455.9h1.5M228.7 415.6h1.5M228.6 418.8h1.5M228.7 417.8h1.5M228.6 460.3h1.5M228.6 453.2h1.5M228.7 450.6h1.5M228.3 459.2h1.5M228.8 414.7h1.5M229.2 418.2h1.5M229.0 461.2h1.5M228.8 458.2h1.5M229.2 453.4h1.5M228.9 460.7h1.5M229.4 418.8h1.5M229.6 417.9h1.5M229.7 453.8h1.5M229.6 452.6h1.5M229.5 452.8h1.5M229.7 451.2h1.5M230.2 414.8h1.5M229.9 416.9h1.5M230.2 459.0h1.5M229.9 449.7h1.5M230.2 460.6h1.5M230.0 451.0h1.5M230.6 419.0h1.5M230.6 417.9h1.5M230.5 417.8h1.5M230.5 449.7h1.5M230.7 460.2h1.5M230.5 449.5h1.5M230.7 450.4h1.5M231.0 419.1h1.5M231.0 416.6h1.5M231.2 458.0h1.5M231.0 454.5h1.5M230.9 452.6h1.5M231.0 450.6h1.5M231.3 415.7h1.5M231.3 419.0h1.5M231.3 452.1h1.5M231.6 458.8h1.5M231.7 449.4h1.5M231.4 458.4h1.5M232.1 413.4h1.5M232.1 417.9h1.5M231.8 418.5h1.5M231.9 458.3h1.5M232.0 450.7h1.5M232.1 451.6h1.5M231.9 452.4h1.5M232.3 418.1h1.5M232.5 418.7h1.5M232.4 415.7h1.5M232.6 452.4h1.5M232.7 453.9h1.5M232.3 448.6h1.5M232.3 448.7h1.5M233.0 415.5h1.5M232.9 416.3h1.5M233.2 449.8h1.5M233.1 450.5h1.5M232.9 449.9h1.5M233.0 451.5h1.5M233.3 417.2h1.5M233.3 413.2h1.5M233.4 457.1h1.5M233.5 457.0h1.5M233.3 450.2h1.5M233.5 450.5h1.5M234.0 413.0h1.5M234.1 414.4h1.5M233.8 448.3h1.5M234.2 450.4h1.5M233.9 450.8h1.5M234.1 451.0h1.5M234.3 415.4h1.5M234.5 416.1h1.5M234.3 416.7h1.5M234.3 453.9h1.5M234.3 447.6h1.5M234.3 454.6h1.5M234.6 448.1h1.5M235.0 413.5h1.5M234.8 414.5h1.5M234.9 448.0h1.5M235.2 446.9h1.5M235.0 447.0h1.5M235.0 447.6h1.5M235.7 416.0h1.5M235.5 415.2h1.5M235.4 445.7h1.5M235.3 446.4h1.5M235.6 455.7h1.5M235.4 447.0h1.5M236.0 411.3h1.5M236.2 414.1h1.5M236.0 413.9h1.5M236.1 448.6h1.5M236.0 446.7h1.5M236.0 447.2h1.5M236.0 447.4h1.5M236.5 413.4h1.5M236.6 412.6h1.5M236.5 416.2h1.5M236.3 448.8h1.5M236.4 448.3h1.5M236.7 447.2h1.5M236.5 447.9h1.5M236.9 415.5h1.5M236.9 414.1h1.5M236.8 446.0h1.5M237.0 448.8h1.5M237.0 445.9h1.5M237.2 448.5h1.5M237.3 412.3h1.5M237.7 413.4h1.5M237.7 452.5h1.5M237.3 450.6h1.5M237.4 451.5h1.5M238.1 410.8h1.5M237.9 412.3h1.5M238.1 455.9h1.5M238.2 452.2h1.5M238.1 449.1h1.5M238.0 450.1h1.5M238.7 414.4h1.5M238.4 413.9h1.5M238.7 451.9h1.5M238.6 445.3h1.5M238.7 453.7h1.5M238.6 452.5h1.5M239.0 413.6h1.5M239.0 411.7h1.5M239.1 451.0h1.5M239.0 446.7h1.5M239.0 448.2h1.5M238.9 449.2h1.5M239.6 411.0h1.5M239.3 412.4h1.5M239.6 411.7h1.5M239.3 451.4h1.5M239.5 452.9h1.5M239.6 445.2h1.5M239.4 448.0h1.5M240.2 413.5h1.5M239.8 409.6h1.5M239.8 408.7h1.5M239.9 444.2h1.5M240.0 446.5h1.5M239.9 446.2h1.5M240.0 447.0h1.5M240.6 411.7h1.5M240.3 411.6h1.5M240.4 450.0h1.5M240.6 453.7h1.5M240.6 444.5h1.5M240.4 447.1h1.5M240.9 408.8h1.5M241.2 412.1h1.5M241.1 410.4h1.5M241.1 450.7h1.5M241.1 443.7h1.5M241.1 449.4h1.5M240.8 445.7h1.5M241.4 412.9h1.5M241.7 414.9h1.5M241.5 415.9h1.5M241.6 449.0h1.5M241.3 442.2h1.5M241.3 444.1h1.5M241.7 445.1h1.5M241.5 453.4h1.5M242.0 413.4h1.5M242.0 412.6h1.5M242.1 411.6h1.5M242.0 445.2h1.5M242.1 442.3h1.5M241.9 447.8h1.5M242.1 451.4h1.5M242.5 411.6h1.5M242.5 413.1h1.5M242.3 407.4h1.5M242.6 446.2h1.5M242.7 446.0h1.5M242.3 449.4h1.5M242.6 443.3h1.5M243.0 412.3h1.5M242.9 409.4h1.5M243.1 410.1h1.5M243.1 442.7h1.5M243.1 442.8h1.5M242.9 444.8h1.5M242.9 449.5h1.5M243.3 412.7h1.5M243.5 413.8h1.5M243.6 411.0h1.5M243.6 449.7h1.5M243.5 449.4h1.5M243.7 442.9h1.5M243.5 441.4h1.5M243.8 410.8h1.5M244.2 410.7h1.5M244.0 442.3h1.5M243.9 440.6h1.5M243.9 445.4h1.5M244.2 447.8h1.5M244.0 442.4h1.5M244.5 407.6h1.5M244.6 407.1h1.5M244.6 412.5h1.5M244.5 444.0h1.5M244.5 443.3h1.5M244.4 449.0h1.5M244.4 442.8h1.5M244.9 412.4h1.5M244.9 405.9h1.5M245.1 407.1h1.5M245.1 449.1h1.5M245.0 440.1h1.5M244.9 443.1h1.5M245.2 445.2h1.5M244.8 445.7h1.5M245.7 405.8h1.5M245.5 405.2h1.5M245.6 451.0h1.5M245.7 439.1h1.5M245.5 439.0h1.5M245.3 442.2h1.5M245.8 411.5h1.5M245.9 405.7h1.5M246.1 412.6h1.5M245.9 450.0h1.5M246.2 443.8h1.5M246.1 440.3h1.5M246.2 441.2h1.5M246.6 408.2h1.5M246.7 407.7h1.5M246.3 411.3h1.5M246.4 440.0h1.5M246.6 438.4h1.5M246.5 441.9h1.5M246.4 449.0h1.5M247.2 409.9h1.5M246.8 411.1h1.5M246.9 439.6h1.5M246.9 439.8h1.5M246.9 445.0h1.5M247.2 443.4h1.5M247.6 409.7h1.5M247.5 407.0h1.5M247.5 410.9h1.5M247.5 442.7h1.5M247.7 441.8h1.5M247.5 438.2h1.5M247.3 448.4h1.5M247.8 403.9h1.5M247.8 409.7h1.5M248.1 440.3h1.5M247.8 437.5h1.5M247.9 441.3h1.5M248.1 441.0h1.5M248.7 406.1h1.5M248.5 405.3h1.5M248.5 405.9h1.5M248.4 443.0h1.5M248.4 438.9h1.5M248.5 441.3h1.5M248.5 441.8h1.5M248.9 408.6h1.5M248.8 410.9h1.5M249.0 410.9h1.5M248.9 438.7h1.5M249.1 443.7h1.5M249.2 445.6h1.5M248.8 445.9h1.5M249.3 409.6h1.5M249.3 410.2h1.5M249.3 408.4h1.5M249.4 442.2h1.5M249.3 438.9h1.5M249.6 440.2h1.5M249.5 441.3h1.5M250.1 406.5h1.5M249.9 407.4h1.5M250.1 409.5h1.5M250.2 438.9h1.5M250.2 436.5h1.5M249.9 441.9h1.5M249.9 446.7h1.5M250.6 409.2h1.5M250.3 402.9h1.5M250.5 408.9h1.5M250.7 442.7h1.5M250.3 437.5h1.5M250.6 440.6h1.5M250.5 443.8h1.5M251.0 402.0h1.5M251.2 404.5h1.5M251.2 410.0h1.5M250.9 442.4h1.5M250.9 440.7h1.5M251.0 438.1h1.5M251.2 439.1h1.5M251.6 402.8h1.5M251.3 409.8h1.5M251.6 402.4h1.5M251.7 436.0h1.5M251.3 437.1h1.5M251.7 444.1h1.5M251.6 435.4h1.5M252.0 403.9h1.5M251.8 402.6h1.5M251.9 408.7h1.5M252.0 437.4h1.5M252.0 446.5h1.5M251.8 446.5h1.5M251.8 438.0h1.5M252.6 401.3h1.5M252.3 402.0h1.5M252.6 405.6h1.5M252.7 442.8h1.5M252.6 440.9h1.5M252.5 435.5h1.5M252.4 440.7h1.5M252.9 409.9h1.5M252.9 403.9h1.5M253.0 406.4h1.5M252.8 436.1h1.5M253.1 442.8h1.5M252.8 434.2h1.5M252.9 442.6h1.5M253.5 410.0h1.5M253.6 400.7h1.5M253.6 405.6h1.5M253.3 443.0h1.5M253.4 437.5h1.5M253.3 433.3h1.5M253.6 437.7h1.5M253.5 436.8h1.5M254.2 408.4h1.5M253.9 408.1h1.5M254.0 401.8h1.5M253.9 434.8h1.5M254.0 436.1h1.5M253.8 436.6h1.5M254.1 434.6h1.5M254.7 401.6h1.5M254.5 405.3h1.5M254.6 401.6h1.5M254.4 441.1h1.5M254.6 443.0h1.5M254.6 435.8h1.5M254.4 436.4h1.5M255.1 400.0h1.5M255.0 400.4h1.5M254.9 407.1h1.5M254.8 436.7h1.5M255.0 437.7h1.5M254.9 435.3h1.5M255.1 444.7h1.5M255.6 403.4h1.5M255.5 408.4h1.5M255.7 403.1h1.5M255.6 408.8h1.5M255.6 431.9h1.5M255.7 443.4h1.5M255.5 433.7h1.5M255.5 443.8h1.5M256.2 406.4h1.5M255.8 401.3h1.5M256.2 403.5h1.5M255.9 407.7h1.5M256.1 438.5h1.5M256.2 435.1h1.5M255.9 444.3h1.5M255.8 438.6h1.5M256.4 403.7h1.5M256.7 408.0h1.5M256.4 404.5h1.5M256.5 438.2h1.5M256.3 439.1h1.5M256.6 433.3h1.5M256.4 435.4h1.5M256.9 405.8h1.5M257.2 399.5h1.5M257.2 405.0h1.5M257.2 404.7h1.5M256.9 436.6h1.5M256.9 438.4h1.5M257.2 440.4h1.5M257.1 432.0h1.5M256.8 431.0h1.5M257.6 406.9h1.5M257.5 401.3h1.5M257.7 404.9h1.5M257.7 436.5h1.5M257.3 440.9h1.5M257.6 442.6h1.5M257.4 441.3h1.5M257.6 443.4h1.5M258.2 404.0h1.5M258.0 406.9h1.5M258.2 406.3h1.5M258.2 407.2h1.5M257.9 432.2h1.5M258.1 432.1h1.5M257.8 430.5h1.5M258.2 439.7h1.5M258.3 401.0h1.5M258.7 407.0h1.5M258.4 400.4h1.5M258.7 407.0h1.5M258.5 430.7h1.5M258.7 431.1h1.5M258.7 434.3h1.5M258.4 437.0h1.5M258.5 431.4h1.5M259.1 405.7h1.5M259.0 402.2h1.5M259.1 406.9h1.5M259.2 403.6h1.5M258.8 439.0h1.5M259.1 440.7h1.5M259.0 438.0h1.5M258.9 431.8h1.5M258.8 435.5h1.5M259.7 400.0h1.5M259.3 398.3h1.5M259.7 400.3h1.5M259.6 430.7h1.5M259.4 435.1h1.5M259.7 430.5h1.5M259.3 436.2h1.5M259.9 405.6h1.5M260.0 399.1h1.5M260.0 403.1h1.5M260.0 439.5h1.5M260.2 432.1h1.5M260.2 435.7h1.5M260.1 437.2h1.5M259.9 437.9h1.5M260.6 404.3h1.5M260.3 406.8h1.5M260.3 399.2h1.5M260.4 432.6h1.5M260.3 434.9h1.5M260.7 430.1h1.5M260.5 436.1h1.5M260.3 430.3h1.5M261.0 399.8h1.5M260.8 399.3h1.5M260.9 400.4h1.5M261.0 428.5h1.5M260.8 432.4h1.5M260.9 428.8h1.5M261.0 436.7h1.5M260.8 435.1h1.5M261.7 406.3h1.5M261.5 398.2h1.5M261.4 404.8h1.5M261.6 400.4h1.5M261.7 432.9h1.5M261.6 429.1h1.5M261.7 427.9h1.5M261.7 437.4h1.5M261.8 397.4h1.5M261.8 404.0h1.5M262.1 398.3h1.5M261.8 430.3h1.5M261.9 431.3h1.5M262.1 431.6h1.5M261.9 429.4h1.5M262.1 428.3h1.5M262.5 403.8h1.5M262.3 398.4h1.5M262.7 404.7h1.5M262.7 405.8h1.5M262.5 429.3h1.5M262.5 436.4h1.5M262.6 429.9h1.5M262.6 435.8h1.5M263.2 404.7h1.5M262.9 406.3h1.5M263.1 406.2h1.5M262.8 429.9h1.5M262.9 429.2h1.5M263.0 428.4h1.5M262.8 431.2h1.5M263.0 435.0h1.5M263.7 405.9h1.5M263.7 406.2h1.5M263.4 396.9h1.5M263.4 437.1h1.5M263.5 434.7h1.5M263.6 427.2h1.5M263.5 438.4h1.5M264.1 399.8h1.5M264.1 406.8h1.5M264.1 397.1h1.5M264.2 429.6h1.5M263.9 435.0h1.5M263.8 431.0h1.5M264.2 428.0h1.5M264.6 397.6h1.5M264.5 406.5h1.5M264.5 400.4h1.5M264.4 432.4h1.5M264.6 430.1h1.5M264.3 427.0h1.5M264.4 428.5h1.5M265.1 405.7h1.5M264.9 403.9h1.5M264.8 402.1h1.5M265.0 404.8h1.5M265.1 434.8h1.5M265.1 427.2h1.5M265.2 435.8h1.5M265.0 432.6h1.5M265.4 397.2h1.5M265.6 398.1h1.5M265.6 398.0h1.5M265.6 431.3h1.5M265.3 438.3h1.5M265.6 432.9h1.5M265.7 433.5h1.5M266.2 400.1h1.5M266.2 401.8h1.5M266.0 403.4h1.5M265.8 427.8h1.5M265.9 431.9h1.5M266.2 430.1h1.5M265.8 435.4h1.5M266.6 405.3h1.5M266.5 398.3h1.5M266.4 399.0h1.5M266.7 430.0h1.5M266.3 427.6h1.5M266.6 431.6h1.5M266.5 426.3h1.5M267.0 400.1h1.5M266.9 402.7h1.5M267.0 398.6h1.5M266.8 431.7h1.5M267.0 431.7h1.5M266.8 428.2h1.5M267.1 432.8h1.5M267.1 436.3h1.5M267.6 404.3h1.5M267.7 402.8h1.5M267.6 397.0h1.5M267.3 428.1h1.5M267.6 430.8h1.5M267.5 430.4h1.5M267.4 429.2h1.5M267.8 402.3h1.5M268.1 402.7h1.5M267.9 404.7h1.5M267.9 436.5h1.5M267.8 429.8h1.5M267.9 438.8h1.5M268.0 434.7h1.5M268.3 405.8h1.5M268.6 401.2h1.5M268.5 402.9h1.5M268.7 435.3h1.5M268.7 433.6h1.5M268.4 436.5h1.5M268.6 426.8h1.5M268.5 426.1h1.5M268.8 402.8h1.5M268.8 404.5h1.5M268.8 403.3h1.5M269.2 430.3h1.5M269.2 434.3h1.5M269.1 427.4h1.5M269.2 434.8h1.5M269.3 399.1h1.5M269.6 401.7h1.5M269.6 398.0h1.5M269.3 431.0h1.5M269.7 427.3h1.5M269.6 426.3h1.5M269.4 424.5h1.5M269.5 424.8h1.5M269.9 404.7h1.5M269.8 402.6h1.5M269.8 401.4h1.5M270.1 430.3h1.5M270.2 425.5h1.5M269.9 431.0h1.5M270.0 427.7h1.5M270.1 437.9h1.5M270.7 397.6h1.5M270.5 401.1h1.5M270.4 403.5h1.5M270.6 428.8h1.5M270.6 435.8h1.5M270.3 433.5h1.5M270.4 429.4h1.5M270.4 424.7h1.5M270.8 401.5h1.5M270.8 402.3h1.5M270.9 401.1h1.5M270.9 434.3h1.5M271.0 424.3h1.5M270.8 426.3h1.5M271.1 432.2h1.5M271.6 401.8h1.5M271.3 397.8h1.5M271.7 433.6h1.5M271.3 423.2h1.5M271.4 433.1h1.5M271.5 435.1h1.5M271.4 428.7h1.5M272.1 401.2h1.5M272.1 403.9h1.5M271.8 424.1h1.5M272.2 433.2h1.5M272.0 425.2h1.5M272.1 429.9h1.5M272.5 403.6h1.5M272.3 402.4h1.5M272.4 401.3h1.5M272.4 435.0h1.5M272.5 433.6h1.5M272.6 423.0h1.5M272.3 432.5h1.5M273.2 399.0h1.5M273.0 403.2h1.5M272.9 428.5h1.5M273.1 426.4h1.5M272.9 423.9h1.5M273.0 431.0h1.5M272.9 427.6h1.5M273.5 399.9h1.5M273.5 400.6h1.5M273.6 433.0h1.5M273.5 428.7h1.5M273.7 427.2h1.5M273.3 433.4h1.5M274.0 404.7h1.5M273.9 399.4h1.5M274.1 404.0h1.5M273.9 432.7h1.5M273.9 425.0h1.5M274.2 431.5h1.5M274.2 426.6h1.5M274.6 398.6h1.5M274.5 400.7h1.5M274.6 402.5h1.5M274.6 430.6h1.5M274.4 428.0h1.5M274.4 426.2h1.5M274.3 434.6h1.5M274.6 423.5h1.5M275.1 397.9h1.5M275.0 401.7h1.5M275.1 427.9h1.5M275.2 432.1h1.5M274.8 426.8h1.5M275.0 435.3h1.5M275.7 401.6h1.5M275.7 401.1h1.5M275.5 402.4h1.5M275.7 425.7h1.5M275.3 423.9h1.5M275.4 426.1h1.5M275.5 429.7h1.5M275.4 429.1h1.5M275.8 397.9h1.5M275.9 403.1h1.5M275.9 421.8h1.5M275.9 421.9h1.5M276.0 424.9h1.5M275.8 428.3h1.5M276.1 430.3h1.5M276.5 399.1h1.5M276.6 399.9h1.5M276.7 423.7h1.5M276.4 422.7h1.5M276.4 432.1h1.5M276.7 426.8h1.5M277.2 400.4h1.5M276.9 402.8h1.5M277.2 433.7h1.5M277.0 422.0h1.5M276.8 426.9h1.5M277.0 431.5h1.5M276.9 423.8h1.5M277.7 402.8h1.5M277.5 399.1h1.5M277.7 431.1h1.5M277.5 423.3h1.5M277.3 424.8h1.5M277.4 422.6h1.5M277.5 421.7h1.5M277.8 402.1h1.5M277.8 400.1h1.5M278.0 427.5h1.5M278.1 426.4h1.5M277.9 424.4h1.5M277.8 424.3h1.5M277.9 422.7h1.5M278.7 397.6h1.5M278.7 430.0h1.5M278.4 427.2h1.5M278.6 424.8h1.5M278.6 427.3h1.5M279.1 401.9h1.5M278.9 399.2h1.5M279.2 433.2h1.5M279.1 430.6h1.5M279.2 424.9h1.5M278.8 421.1h1.5M278.9 427.9h1.5M279.3 400.2h1.5M279.3 424.1h1.5M279.4 423.9h1.5M279.7 422.1h1.5M279.5 429.5h1.5M279.8 399.4h1.5M280.0 401.0h1.5M280.1 423.4h1.5M280.0 428.1h1.5M279.9 426.0h1.5M279.8 433.9h1.5M279.8 425.6h1.5M280.7 401.8h1.5M280.5 399.2h1.5M280.3 423.6h1.5M280.5 430.1h1.5M280.6 431.1h1.5M280.3 422.1h1.5M281.2 401.5h1.5M280.8 402.7h1.5M280.9 433.0h1.5M281.2 430.3h1.5M281.1 430.7h1.5M281.2 420.5h1.5M280.9 420.2h1.5M281.4 398.5h1.5M281.7 401.3h1.5M281.7 430.6h1.5M281.7 428.4h1.5M281.3 428.5h1.5M281.4 420.7h1.5M281.7 421.3h1.5M281.8 402.6h1.5M282.2 401.8h1.5M281.9 427.4h1.5M281.9 424.0h1.5M282.1 421.2h1.5M281.9 425.3h1.5M282.5 398.1h1.5M282.3 421.9h1.5M282.6 422.0h1.5M282.3 424.9h1.5M282.3 420.7h1.5M282.3 426.0h1.5M283.2 400.7h1.5M283.1 426.9h1.5M282.8 421.2h1.5M282.8 420.8h1.5M283.2 425.4h1.5M283.6 398.0h1.5M283.5 397.3h1.5M283.5 423.1h1.5M283.7 422.0h1.5M283.3 430.2h1.5M283.5 432.0h1.5M283.7 419.7h1.5M284.2 401.0h1.5M283.9 401.6h1.5M284.1 423.4h1.5M284.1 420.2h1.5M284.2 424.3h1.5M283.9 429.8h1.5M284.7 399.8h1.5M284.7 401.1h1.5M284.5 417.4h1.5M284.4 422.7h1.5M284.5 432.0h1.5M284.7 421.3h1.5M284.4 429.9h1.5M284.8 400.0h1.5M285.2 400.2h1.5M285.1 419.8h1.5M285.0 418.1h1.5M285.1 417.8h1.5M285.0 422.2h1.5M285.0 424.4h1.5M285.7 399.0h1.5M285.7 424.7h1.5M285.4 419.2h1.5M285.7 419.0h1.5M285.6 419.9h1.5M285.3 417.5h1.5M286.1 399.9h1.5M286.0 424.9h1.5M286.2 420.5h1.5M286.2 419.7h1.5M286.1 430.1h1.5M286.0 428.4h1.5M286.6 398.3h1.5M286.7 426.3h1.5M286.5 428.4h1.5M286.6 430.1h1.5M286.6 417.0h1.5M287.0 396.8h1.5M287.1 424.9h1.5M287.1 416.5h1.5M286.9 417.2h1.5M287.1 416.8h1.5M287.2 416.0h1.5M287.4 398.0h1.5M287.3 423.1h1.5M287.6 422.6h1.5M287.4 426.7h1.5M287.5 422.8h1.5M287.4 422.5h1.5M287.9 398.7h1.5M288.0 416.2h1.5M287.9 425.0h1.5M288.0 415.6h1.5M288.1 421.0h1.5M287.9 417.7h1.5M288.5 399.4h1.5M288.5 418.5h1.5M288.4 416.2h1.5M288.6 419.4h1.5M288.3 422.3h1.5M288.5 419.3h1.5M289.2 397.9h1.5M288.9 426.6h1.5M289.2 424.4h1.5M288.9 415.3h1.5M289.0 416.7h1.5M289.1 427.0h1.5M289.3 395.9h1.5M289.3 396.7h1.5M289.7 420.2h1.5M289.7 416.3h1.5M289.7 427.2h1.5M289.5 417.7h1.5M289.9 398.0h1.5M290.1 398.0h1.5M290.1 415.2h1.5M289.9 426.2h1.5M290.2 426.1h1.5M289.9 419.2h1.5M290.6 396.5h1.5M290.4 417.7h1.5M290.7 421.4h1.5M290.3 414.0h1.5M290.5 415.4h1.5M290.7 422.4h1.5M290.8 398.4h1.5M291.1 397.1h1.5M290.9 414.1h1.5M291.0 414.9h1.5M291.1 422.0h1.5M290.8 418.6h1.5M291.4 396.8h1.5M291.7 423.2h1.5M291.7 417.6h1.5M291.6 418.9h1.5M291.7 418.9h1.5M292.2 396.6h1.5M292.0 417.6h1.5M292.2 416.1h1.5M292.0 413.3h1.5M292.0 421.4h1.5M292.3 394.7h1.5M292.6 413.3h1.5M292.7 420.7h1.5M292.5 413.4h1.5M292.3 412.7h1.5M292.3 418.1h1.5M293.2 395.5h1.5M292.8 394.3h1.5M293.2 418.2h1.5M292.8 423.5h1.5M293.2 413.3h1.5M293.2 419.5h1.5M293.4 395.9h1.5M293.4 396.0h1.5M293.5 419.1h1.5M293.5 413.8h1.5M293.7 416.2h1.5M293.4 412.5h1.5M293.8 394.7h1.5M293.9 395.3h1.5M294.1 417.1h1.5M293.9 412.7h1.5M294.2 419.5h1.5M293.8 414.9h1.5M294.3 392.3h1.5M294.5 415.4h1.5M294.5 415.7h1.5M294.4 418.6h1.5M294.4 412.2h1.5M295.0 394.6h1.5M295.1 412.7h1.5M295.1 416.2h1.5M294.9 417.0h1.5M295.0 411.6h1.5M295.3 394.2h1.5M295.5 410.0h1.5M295.7 415.1h1.5M295.7 410.1h1.5M295.3 410.5h1.5M295.9 393.3h1.5M295.9 411.1h1.5M296.1 410.5h1.5M296.0 409.7h1.5M296.6 392.6h1.5M296.3 419.1h1.5M296.4 413.8h1.5M296.5 409.7h1.5M296.3 414.4h1.5M297.1 392.8h1.5M296.9 394.7h1.5M297.0 413.2h1.5M296.9 413.2h1.5M296.8 410.6h1.5M297.3 394.1h1.5M297.3 393.0h1.5M297.7 408.4h1.5M297.3 414.5h1.5M297.4 412.9h1.5M297.8 393.1h1.5M297.9 391.1h1.5M297.8 415.5h1.5M298.1 410.4h1.5M298.1 409.6h1.5M297.8 417.1h1.5M298.7 394.0h1.5M298.7 393.6h1.5M298.5 415.7h1.5M298.4 414.3h1.5M298.5 411.9h1.5M298.4 408.6h1.5M299.1 393.0h1.5M299.0 391.8h1.5M298.9 408.0h1.5M298.9 415.9h1.5M299.2 411.1h1.5M299.7 390.8h1.5M299.3 412.8h1.5M299.3 415.8h1.5M299.3 408.5h1.5M299.8 392.9h1.5M299.8 392.5h1.5M300.2 407.9h1.5M299.8 409.3h1.5M299.9 407.4h1.5M300.7 390.9h1.5M300.6 407.9h1.5M300.4 407.4h1.5M300.4 409.3h1.5M301.0 392.3h1.5M300.9 407.5h1.5M301.0 408.5h1.5M301.1 409.5h1.5M301.0 407.5h1.5M301.3 392.4h1.5M301.7 413.8h1.5M301.5 408.3h1.5M301.7 411.2h1.5M302.2 391.3h1.5M302.2 411.4h1.5M301.9 410.0h1.5M302.1 407.0h1.5M302.4 389.5h1.5M302.3 409.6h1.5M302.6 406.9h1.5M302.3 413.2h1.5M303.1 391.6h1.5M303.2 410.1h1.5M302.9 410.6h1.5M303.1 406.6h1.5M303.7 390.8h1.5M303.3 405.2h1.5M303.6 408.2h1.5M303.6 410.5h1.5M304.2 391.1h1.5M304.1 406.0h1.5M304.2 408.8h1.5M304.0 405.8h1.5M304.6 390.9h1.5M304.4 409.3h1.5M304.4 410.5h1.5M304.7 404.3h1.5M305.0 388.2h1.5M305.2 411.2h1.5M304.9 404.6h1.5M305.1 408.5h1.5M305.4 390.0h1.5M305.3 408.7h1.5M305.4 407.3h1.5M305.6 409.3h1.5M305.8 390.2h1.5M305.9 409.4h1.5M305.9 406.7h1.5M306.3 390.9h1.5M306.6 405.9h1.5M306.7 409.9h1.5M307.2 387.9h1.5M307.2 409.6h1.5M307.0 408.3h1.5M307.3 389.6h1.5M307.5 404.9h1.5M307.5 403.8h1.5M307.8 388.7h1.5M308.1 405.0h1.5M307.8 409.2h1.5M308.4 387.8h1.5M308.6 405.0h1.5M308.6 404.6h1.5M308.8 388.2h1.5M308.8 404.1h1.5M309.0 409.7h1.5M309.4 389.4h1.5M309.6 408.5h1.5M309.5 408.4h1.5M310.0 388.7h1.5M310.2 409.0h1.5M310.2 402.7h1.5M310.5 388.5h1.5M310.7 407.0h1.5M310.3 403.8h1.5M310.9 387.2h1.5M310.9 405.2h1.5M311.5 403.4h1.5M311.7 403.2h1.5M312.1 387.7h1.5M312.0 402.4h1.5M312.1 402.6h1.5M312.3 407.4h1.5M313.1 386.5h1.5M313.1 402.4h1.5M313.4 387.3h1.5M313.5 401.6h1.5M313.9 405.1h1.5M313.8 403.5h1.5M314.6 387.4h1.5M314.6 402.0h1.5M315.0 386.0h1.5M315.1 403.8h1.5M315.0 401.5h1.5M315.6 401.7h1.5M315.4 401.1h1.5M315.8 387.5h1.5M315.9 402.8h1.5M316.3 385.8h1.5M316.4 401.8h1.5M317.0 401.0h1.5M317.7 386.6h1.5M317.7 401.3h1.5M317.4 401.6h1.5M318.2 386.2h1.5M317.9 404.1h1.5M318.5 400.3h1.5M318.4 403.2h1.5M318.9 386.3h1.5M318.8 399.6h1.5M319.5 387.5h1.5M319.4 403.1h1.5M319.8 386.4h1.5M319.8 400.5h1.5M320.7 399.7h1.5M320.9 399.1h1.5M321.7 399.5h1.5M321.8 399.1h1.5M322.2 399.4h1.5M322.3 397.5h1.5M323.2 399.7h1.5M323.6 399.1h1.5M324.1 385.0h1.5M323.9 399.9h1.5M324.4 397.9h1.5M325.0 397.4h1.5M325.7 396.7h1.5M326.1 397.6h1.5M326.5 395.6h1.5M326.9 395.1h1.5M327.7 395.3h1.5M328.2 397.0h1.5M328.4 395.9h1.5M329.3 396.1h1.5M333.2 391.9h1.5" stroke="#2277B8" stroke-width="1.5" stroke-opacity="0.85" fill="none"/>
<path d="M50.4 501.7h1.5M52.7 498.4h1.5M54.0 496.7h1.5M55.9 496.1h1.5M59.3 494.3h1.5M59.9 514.1h1.5M64.1 512.0h1.5M64.6 490.7h1.5M70.4 486.3h1.5M71.5 486.6h1.5M78.5 482.5h1.5M87.7 480.1h1.5M89.0 476.1h1.5M90.4 474.7h1.5M93.2 477.2h1.5M93.6 472.8h1.5M95.1 468.0h1.5M95.0 501.4h1.5M97.1 474.3h1.5M97.8 471.7h1.5M98.4 469.2h1.5M99.2 467.1h1.5M99.7 499.5h1.5M100.3 470.2h1.5M101.4 466.4h1.5M101.8 457.3h1.5M102.6 471.3h1.5M102.9 463.6h1.5M105.7 457.5h1.5M105.9 459.1h1.5M107.0 470.5h1.5M107.9 462.8h1.5M108.6 456.4h1.5M109.0 462.1h1.5M109.6 462.3h1.5M111.1 460.6h1.5M111.7 453.9h1.5M111.9 469.9h1.5M113.0 460.2h1.5M113.4 461.1h1.5M113.8 469.2h1.5M115.6 469.1h1.5M115.4 493.3h1.5M116.0 454.3h1.5M116.4 459.1h1.5M117.2 453.1h1.5M118.1 460.1h1.5M118.4 455.8h1.5M119.7 460.2h1.5M119.8 459.0h1.5M120.5 452.3h1.5M121.2 459.6h1.5M121.5 462.9h1.5M122.0 456.2h1.5M122.7 452.0h1.5M123.3 460.6h1.5M123.7 491.0h1.5M124.0 460.2h1.5M124.3 453.5h1.5M125.1 454.3h1.5M125.6 453.8h1.5M126.2 463.2h1.5M126.6 450.4h1.5M126.8 441.7h1.5M127.7 446.5h1.5M128.0 459.5h1.5M128.3 456.0h1.5M129.2 445.8h1.5M129.7 439.1h1.5M130.0 452.1h1.5M130.7 439.0h1.5M130.8 444.3h1.5M131.5 438.0h1.5M132.2 458.8h1.5M132.6 434.4h1.5M132.3 489.6h1.5M133.2 447.4h1.5M133.7 457.0h1.5M134.2 441.5h1.5M134.2 437.5h1.5M134.4 454.6h1.5M135.2 448.3h1.5M135.4 452.1h1.5M135.9 431.2h1.5M136.6 443.6h1.5M136.4 450.3h1.5M137.0 430.7h1.5M137.5 448.3h1.5M138.0 448.2h1.5M138.7 432.4h1.5M138.5 488.3h1.5M138.9 445.9h1.5M139.1 449.9h1.5M139.3 447.3h1.5M139.8 438.7h1.5M140.3 436.2h1.5M140.9 445.7h1.5M141.5 444.2h1.5M141.4 425.4h1.5M142.1 447.1h1.5M142.3 445.5h1.5M142.9 440.2h1.5M142.8 444.6h1.5M143.3 445.3h1.5M143.3 487.7h1.5M144.0 424.0h1.5M144.2 449.0h1.5M144.1 487.3h1.5M144.7 449.1h1.5M145.1 428.9h1.5M145.4 427.6h1.5M146.2 442.1h1.5M146.7 449.3h1.5M146.9 446.6h1.5M147.5 435.9h1.5M148.1 431.2h1.5M148.3 448.8h1.5M149.0 444.0h1.5M149.7 435.3h1.5M149.9 447.0h1.5M150.7 445.3h1.5M150.5 426.5h1.5M150.8 420.5h1.5M151.5 434.8h1.5M151.7 444.5h1.5M151.8 435.7h1.5M152.5 426.6h1.5M152.6 438.7h1.5M153.2 430.6h1.5M153.6 427.3h1.5M153.8 436.8h1.5M154.3 416.6h1.5M154.6 440.7h1.5M155.0 436.4h1.5M155.6 443.4h1.5M156.0 435.3h1.5M156.4 436.9h1.5M157.0 423.7h1.5M157.6 438.9h1.5M158.2 425.6h1.5M158.1 426.4h1.5M158.3 429.4h1.5M158.5 441.9h1.5M159.2 425.9h1.5M159.2 483.8h1.5M159.7 414.5h1.5M159.6 425.6h1.5M160.0 426.2h1.5M160.3 437.4h1.5M160.9 442.3h1.5M161.5 415.5h1.5M162.1 420.9h1.5M162.3 423.5h1.5M163.0 421.9h1.5M163.4 431.1h1.5M163.9 434.9h1.5M163.9 431.3h1.5M164.7 418.9h1.5M165.1 425.1h1.5M165.6 415.4h1.5M166.0 434.9h1.5M166.5 430.9h1.5M166.9 408.1h1.5M167.3 439.5h1.5M168.2 430.3h1.5M168.3 417.8h1.5M168.9 426.8h1.5M169.7 431.6h1.5M170.2 430.3h1.5M170.3 433.1h1.5M170.5 433.4h1.5M171.0 436.1h1.5M171.0 418.0h1.5M171.7 424.8h1.5M172.2 432.5h1.5M172.4 421.6h1.5M173.0 431.3h1.5M173.4 408.1h1.5M173.6 429.5h1.5M174.1 432.1h1.5M174.4 430.7h1.5M174.9 431.8h1.5M174.8 429.4h1.5M175.6 430.1h1.5M175.5 482.2h1.5M176.0 425.8h1.5M176.7 404.8h1.5M177.2 422.4h1.5M177.5 415.3h1.5M178.1 433.1h1.5M177.8 425.2h1.5M178.7 413.6h1.5M178.3 480.8h1.5M178.9 410.6h1.5M179.7 414.9h1.5M180.0 432.3h1.5M180.5 428.3h1.5M181.2 424.7h1.5M181.2 416.9h1.5M181.4 418.6h1.5M182.2 416.7h1.5M182.4 430.0h1.5M182.7 430.0h1.5M182.9 417.2h1.5M182.9 411.7h1.5M183.3 429.7h1.5M183.5 481.6h1.5M183.9 418.9h1.5M184.4 405.9h1.5M184.6 428.4h1.5M184.9 407.8h1.5M185.7 431.0h1.5M186.0 424.7h1.5M186.2 429.0h1.5M186.6 404.9h1.5M187.2 423.6h1.5M187.0 425.8h1.5M187.2 478.8h1.5M187.4 415.8h1.5M187.6 482.3h1.5M188.2 422.7h1.5M188.4 418.9h1.5M188.3 479.1h1.5M188.9 414.1h1.5M188.9 406.9h1.5M189.5 415.9h1.5M190.0 430.0h1.5M189.9 480.2h1.5M190.3 408.2h1.5M191.2 425.7h1.5M191.4 411.1h1.5M191.6 478.6h1.5M191.9 415.6h1.5M192.7 421.7h1.5M192.9 418.2h1.5M193.5 424.6h1.5M193.3 480.9h1.5M194.0 423.7h1.5M194.4 427.5h1.5M195.0 423.7h1.5M195.3 411.7h1.5M195.3 477.8h1.5M196.1 419.2h1.5M196.7 425.9h1.5M196.5 477.0h1.5M196.8 419.0h1.5M197.7 415.4h1.5M198.0 416.2h1.5M197.8 478.5h1.5M198.5 418.1h1.5M198.3 476.4h1.5M199.2 419.3h1.5M198.8 474.1h1.5M199.4 421.5h1.5M200.2 421.1h1.5M200.7 422.6h1.5M200.3 477.3h1.5M201.9 411.9h1.5M201.9 478.5h1.5M202.6 418.1h1.5M202.7 475.3h1.5M203.1 424.9h1.5M202.9 480.9h1.5M203.3 421.8h1.5M204.2 418.4h1.5M204.7 423.8h1.5M204.7 474.0h1.5M204.8 419.0h1.5M205.3 417.9h1.5M206.1 414.6h1.5M206.4 414.6h1.5M206.7 470.9h1.5M207.3 414.3h1.5M207.9 418.0h1.5M208.5 422.2h1.5M209.0 418.3h1.5M209.5 421.3h1.5M209.3 473.5h1.5M209.8 411.3h1.5M210.2 470.7h1.5M210.3 417.1h1.5M210.7 475.1h1.5M210.9 469.7h1.5M211.6 410.8h1.5M211.5 476.4h1.5M211.9 478.4h1.5M212.8 415.5h1.5M212.8 471.0h1.5M213.7 415.5h1.5M213.8 468.7h1.5M214.6 471.0h1.5M215.0 469.4h1.5M215.4 417.6h1.5M216.4 407.3h1.5M216.5 475.0h1.5M216.8 415.2h1.5M216.9 475.9h1.5M218.0 417.1h1.5M218.1 470.6h1.5M219.0 412.5h1.5M219.2 472.9h1.5M219.4 415.6h1.5M219.5 465.8h1.5M219.9 410.4h1.5M219.9 473.9h1.5M220.8 469.2h1.5M221.3 414.9h1.5M221.5 468.1h1.5M222.3 413.6h1.5M222.5 475.0h1.5M223.0 467.0h1.5M224.4 464.3h1.5M225.1 413.8h1.5M225.8 469.8h1.5M226.6 468.8h1.5M226.8 474.7h1.5M227.6 470.4h1.5M227.8 462.1h1.5M228.7 477.1h1.5M228.8 412.0h1.5M229.2 464.8h1.5M229.6 476.0h1.5M230.5 475.0h1.5M230.8 407.0h1.5M231.1 460.5h1.5M231.4 460.3h1.5M231.8 467.9h1.5M232.6 467.5h1.5M232.8 409.9h1.5M234.1 407.7h1.5M234.4 473.7h1.5M235.0 461.8h1.5M235.4 459.4h1.5M235.9 468.9h1.5M236.5 403.4h1.5M236.3 472.4h1.5M236.8 404.3h1.5M237.8 461.8h1.5M238.4 405.9h1.5M238.3 456.5h1.5M239.2 407.0h1.5M238.9 469.3h1.5M239.7 407.3h1.5M239.8 456.7h1.5M240.5 401.2h1.5M240.5 457.2h1.5M241.2 470.5h1.5M241.7 404.8h1.5M241.4 465.0h1.5M242.2 461.3h1.5M242.3 462.8h1.5M242.8 462.3h1.5M243.7 458.0h1.5M244.0 455.2h1.5M244.5 453.5h1.5M244.5 475.5h1.5M245.0 398.9h1.5M244.8 464.3h1.5M245.6 398.6h1.5M245.3 466.9h1.5M246.1 454.6h1.5M246.1 452.6h1.5M246.4 404.1h1.5M246.7 455.3h1.5M246.9 452.1h1.5M247.5 461.9h1.5M247.8 450.5h1.5M248.6 402.8h1.5M248.7 451.0h1.5M249.0 399.0h1.5M249.2 464.2h1.5M249.7 455.3h1.5M249.8 458.6h1.5M250.7 474.9h1.5M251.1 450.6h1.5M251.5 470.2h1.5M251.9 470.1h1.5M252.0 457.2h1.5M252.6 449.3h1.5M253.0 397.9h1.5M253.2 460.8h1.5M253.6 461.1h1.5M254.1 451.2h1.5M254.7 396.6h1.5M254.6 467.1h1.5M254.8 463.4h1.5M255.5 454.1h1.5M255.9 445.6h1.5M256.6 448.8h1.5M256.6 445.2h1.5M257.2 455.9h1.5M257.2 445.7h1.5M257.3 457.2h1.5M257.5 463.1h1.5M257.9 460.0h1.5M258.7 393.8h1.5M258.4 471.3h1.5M258.9 468.5h1.5M259.7 450.7h1.5M260.0 397.1h1.5M260.2 449.1h1.5M260.7 471.0h1.5M260.6 450.9h1.5M260.8 441.9h1.5M261.4 461.0h1.5M261.6 452.9h1.5M261.9 445.5h1.5M262.4 442.6h1.5M262.5 460.5h1.5M262.9 466.2h1.5M263.7 454.7h1.5M264.2 393.4h1.5M264.2 458.7h1.5M264.5 390.1h1.5M264.7 442.6h1.5M265.2 464.6h1.5M265.4 441.2h1.5M265.9 452.2h1.5M266.4 391.2h1.5M266.3 451.3h1.5M266.8 448.2h1.5M267.3 447.9h1.5M267.9 464.1h1.5M268.2 439.4h1.5M268.3 390.5h1.5M268.3 460.0h1.5M268.7 460.3h1.5M269.2 447.2h1.5M269.7 438.4h1.5M269.4 446.6h1.5M270.0 460.4h1.5M269.8 459.5h1.5M270.5 466.5h1.5M270.9 395.8h1.5M271.0 462.6h1.5M271.6 447.1h1.5M271.4 441.5h1.5M272.2 464.9h1.5M272.4 456.5h1.5M273.2 391.0h1.5M273.2 448.5h1.5M273.5 439.3h1.5M274.1 443.6h1.5M274.4 437.6h1.5M274.8 450.6h1.5M275.4 459.4h1.5M276.2 446.4h1.5M276.2 460.4h1.5M276.6 449.6h1.5M277.2 448.8h1.5M277.7 446.3h1.5M278.2 435.6h1.5M278.7 392.2h1.5M278.6 442.0h1.5M278.5 449.6h1.5M279.1 394.6h1.5M279.1 436.4h1.5M279.5 436.8h1.5M280.0 451.7h1.5M280.2 441.7h1.5M280.4 443.3h1.5M281.2 396.4h1.5M281.2 436.3h1.5M281.4 444.8h1.5M282.1 394.0h1.5M282.0 435.8h1.5M282.7 391.6h1.5M282.6 440.8h1.5M282.9 395.7h1.5M283.0 449.6h1.5M283.7 396.1h1.5M283.4 441.7h1.5M284.2 447.1h1.5M284.4 437.8h1.5M284.7 440.2h1.5M285.2 440.1h1.5M285.5 435.0h1.5M285.8 395.9h1.5M285.8 451.8h1.5M286.6 435.5h1.5M287.1 433.7h1.5M287.4 391.4h1.5M287.4 447.1h1.5M288.1 394.7h1.5M288.2 443.4h1.5M288.6 392.1h1.5M288.5 434.7h1.5M289.1 392.4h1.5M288.9 432.9h1.5M289.6 441.2h1.5M290.2 389.9h1.5M289.9 440.6h1.5M290.6 434.2h1.5M290.8 440.3h1.5M291.6 433.0h1.5M292.1 445.9h1.5M292.4 441.0h1.5M292.4 433.5h1.5M293.1 424.3h1.5M293.7 449.0h1.5M293.9 391.9h1.5M294.1 437.8h1.5M294.7 429.0h1.5M295.2 437.7h1.5M294.8 438.6h1.5M295.6 436.9h1.5M295.4 439.1h1.5M295.8 430.1h1.5M296.4 433.1h1.5M296.9 445.5h1.5M297.1 431.7h1.5M297.7 426.1h1.5M298.2 430.1h1.5M298.7 385.3h1.5M298.7 423.3h1.5M299.1 418.4h1.5M299.5 441.8h1.5M300.0 435.4h1.5M300.3 424.3h1.5M301.0 387.9h1.5M300.8 439.8h1.5M301.2 418.3h1.5M301.4 386.4h1.5M301.7 442.1h1.5M301.8 419.1h1.5M302.4 429.1h1.5M302.9 425.6h1.5M303.6 420.1h1.5M304.1 419.3h1.5M304.3 438.2h1.5M305.1 434.0h1.5M305.6 426.3h1.5M305.5 437.5h1.5M306.0 425.2h1.5M306.3 413.5h1.5M306.5 415.7h1.5M307.0 387.2h1.5M307.1 424.2h1.5M307.5 413.5h1.5M308.2 425.7h1.5M308.3 428.0h1.5M309.1 410.1h1.5M309.0 427.6h1.5M309.4 410.6h1.5M310.0 420.3h1.5M310.3 421.8h1.5M311.0 384.4h1.5M311.2 429.9h1.5M311.7 416.7h1.5M312.1 414.1h1.5M312.7 413.7h1.5M312.8 428.2h1.5M313.3 420.4h1.5M314.5 408.5h1.5M315.7 411.8h1.5M316.0 422.8h1.5M317.7 411.4h1.5M317.9 408.9h1.5M318.4 407.2h1.5M319.1 418.3h1.5M319.7 405.3h1.5M320.0 403.7h1.5M321.1 410.4h1.5M321.7 403.1h1.5M322.0 415.5h1.5M322.6 414.0h1.5M323.1 413.8h1.5M323.6 411.3h1.5M323.8 403.7h1.5M324.3 401.1h1.5M324.8 405.8h1.5M326.6 402.1h1.5M326.8 399.7h1.5M329.6 397.5h1.5M330.0 383.9h1.5" stroke="#3579A3" stroke-width="1.5" stroke-opacity="0.85" fill="none"/>
<path d="M51.7 515.4L331.8 389.6" stroke="#000" stroke-width="1.8"/>
<path d="M30.0 385.2V518.4H361.0" fill="none" stroke="#737373" stroke-width="1"/>
<path d="M30.0 513.3h3.3M30.0 492.8h3.3M30.0 472.3h3.3M30.0 451.8h3.3M30.0 431.3h3.3M30.0 410.8h3.3M30.0 390.3h3.3M30.00 518.4v-3.3M71.38 518.4v-3.3M112.75 518.4v-3.3M154.12 518.4v-3.3M195.50 518.4v-3.3M236.88 518.4v-3.3M278.25 518.4v-3.3M319.62 518.4v-3.3M361.00 518.4v-3.3" stroke="#737373" stroke-width="1"/>
<text transform="translate(26.8 516.7) scale(.95 1.15)" text-anchor="end" class="tk">0</text>
<text transform="translate(26.8 496.2) scale(.95 1.15)" text-anchor="end" class="tk">10</text>
<text transform="translate(26.8 475.7) scale(.95 1.15)" text-anchor="end" class="tk">20</text>
<text transform="translate(26.8 455.2) scale(.95 1.15)" text-anchor="end" class="tk">30</text>
<text transform="translate(26.8 434.7) scale(.95 1.15)" text-anchor="end" class="tk">40</text>
<text transform="translate(26.8 414.2) scale(.95 1.15)" text-anchor="end" class="tk">50</text>
<text transform="translate(26.8 393.7) scale(.95 1.15)" text-anchor="end" class="tk">60</text>
<text transform="translate(30.00 529.2) scale(.95 1.15)" text-anchor="middle" class="tk">-10</text>
<text transform="translate(71.38 529.2) scale(.95 1.15)" text-anchor="middle" class="tk">0</text>
<text transform="translate(112.75 529.2) scale(.95 1.15)" text-anchor="middle" class="tk">10</text>
<text transform="translate(154.12 529.2) scale(.95 1.15)" text-anchor="middle" class="tk">20</text>
<text transform="translate(195.50 529.2) scale(.95 1.15)" text-anchor="middle" class="tk">30</text>
<text transform="translate(236.88 529.2) scale(.95 1.15)" text-anchor="middle" class="tk">40</text>
<text transform="translate(278.25 529.2) scale(.95 1.15)" text-anchor="middle" class="tk">50</text>
<text transform="translate(319.62 529.2) scale(.95 1.15)" text-anchor="middle" class="tk">60</text>
<text transform="translate(361.00 529.2) scale(.95 1.15)" text-anchor="middle" class="tk">70</text>
<text x="194.9" y="382.3" text-anchor="middle" class="ti">Average ambient temperature</text>
<text x="195.1" y="543.5" text-anchor="middle" class="lb">Experimental Tm (°C)</text>
<text transform="translate(13.6 451.8) rotate(-90)" text-anchor="middle" class="lb">Modeled Tm (°C)</text>
</svg>
</body></html>
